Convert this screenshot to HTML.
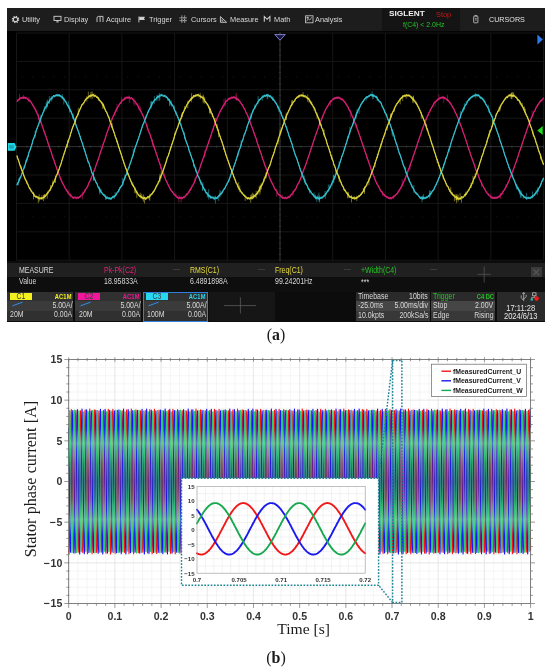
<!DOCTYPE html>
<html><head><meta charset="utf-8"><title>Figure</title>
<style>
html,body{margin:0;padding:0;background:#fff}
body{width:550px;height:670px;position:relative;overflow:hidden;font-family:"Liberation Sans",sans-serif}
.abs{position:absolute}
.t{position:absolute;white-space:nowrap;font-size:7.8px;line-height:9px;color:#d8d8d8;transform:scaleX(.945);transform-origin:0 50%}
.t.m{font-size:8.5px;transform:scaleX(.82)}
.t.r{transform-origin:100% 50%}
.t.c{transform-origin:50% 50%}
.serif{font-family:"Liberation Serif",serif;color:#1a1a1a;position:absolute;white-space:nowrap}
.box{position:absolute;background:#3a3a3a}
</style></head>
<body>
<div class="abs" style="left:7px;top:8px;width:537.5px;height:314px;background:#0c0c0c"></div>
<div class="abs" style="left:7px;top:8px;width:537.5px;height:23.4px;background:#1d1d1d"></div>
<div class="abs" style="left:382px;top:8px;width:78px;height:23.4px;background:#141414"></div>
<svg class="abs" style="left:7px;top:8px" width="537.5" height="314" viewBox="7 8 537.5 314">
<rect x="7" y="31.4" width="537.5" height="229.4" fill="#000"/>
<rect x="7" y="31.4" width="9.0" height="229.4" fill="#000"/>
<path d="M16.50 33.00V260.20M69.20 33.00V260.20M121.90 33.00V260.20M174.60 33.00V260.20M227.30 33.00V260.20M280.00 33.00V260.20M332.70 33.00V260.20M385.40 33.00V260.20M438.10 33.00V260.20M490.80 33.00V260.20M543.50 33.00V260.20M16.50 33.00H543.50M16.50 61.40H543.50M16.50 89.80H543.50M16.50 118.20H543.50M16.50 146.60H543.50M16.50 175.00H543.50M16.50 203.40H543.50M16.50 231.80H543.50M16.50 260.20H543.50" stroke="#181818" stroke-width="0.9" fill="none"/>
<path d="M16.50 145.40v2.4M27.04 145.40v2.4M37.58 145.40v2.4M48.12 145.40v2.4M58.66 145.40v2.4M69.20 145.40v2.4M79.74 145.40v2.4M90.28 145.40v2.4M100.82 145.40v2.4M111.36 145.40v2.4M121.90 145.40v2.4M132.44 145.40v2.4M142.98 145.40v2.4M153.52 145.40v2.4M164.06 145.40v2.4M174.60 145.40v2.4M185.14 145.40v2.4M195.68 145.40v2.4M206.22 145.40v2.4M216.76 145.40v2.4M227.30 145.40v2.4M237.84 145.40v2.4M248.38 145.40v2.4M258.92 145.40v2.4M269.46 145.40v2.4M280.00 145.40v2.4M290.54 145.40v2.4M301.08 145.40v2.4M311.62 145.40v2.4M322.16 145.40v2.4M332.70 145.40v2.4M343.24 145.40v2.4M353.78 145.40v2.4M364.32 145.40v2.4M374.86 145.40v2.4M385.40 145.40v2.4M395.94 145.40v2.4M406.48 145.40v2.4M417.02 145.40v2.4M427.56 145.40v2.4M438.10 145.40v2.4M448.64 145.40v2.4M459.18 145.40v2.4M469.72 145.40v2.4M480.26 145.40v2.4M490.80 145.40v2.4M501.34 145.40v2.4M511.88 145.40v2.4M522.42 145.40v2.4M532.96 145.40v2.4M543.50 145.40v2.4M278.80 33.00h2.4M278.80 38.68h2.4M278.80 44.36h2.4M278.80 50.04h2.4M278.80 55.72h2.4M278.80 61.40h2.4M278.80 67.08h2.4M278.80 72.76h2.4M278.80 78.44h2.4M278.80 84.12h2.4M278.80 89.80h2.4M278.80 95.48h2.4M278.80 101.16h2.4M278.80 106.84h2.4M278.80 112.52h2.4M278.80 118.20h2.4M278.80 123.88h2.4M278.80 129.56h2.4M278.80 135.24h2.4M278.80 140.92h2.4M278.80 146.60h2.4M278.80 152.28h2.4M278.80 157.96h2.4M278.80 163.64h2.4M278.80 169.32h2.4M278.80 175.00h2.4M278.80 180.68h2.4M278.80 186.36h2.4M278.80 192.04h2.4M278.80 197.72h2.4M278.80 203.40h2.4M278.80 209.08h2.4M278.80 214.76h2.4M278.80 220.44h2.4M278.80 226.12h2.4M278.80 231.80h2.4M278.80 237.48h2.4M278.80 243.16h2.4M278.80 248.84h2.4M278.80 254.52h2.4M278.80 260.20h2.4" stroke="#444" stroke-width="0.6" fill="none"/>
<path d="M16.5 146.6H543.5M280.00 33.0V260.2" stroke="#333" stroke-width="0.9" fill="none"/>
<path d="M21.77 77.02h1M32.31 77.02h1M42.85 77.02h1M53.39 77.02h1M63.93 77.02h1M74.47 77.02h1M85.01 77.02h1M95.55 77.02h1M106.09 77.02h1M116.63 77.02h1M127.17 77.02h1M137.71 77.02h1M148.25 77.02h1M158.79 77.02h1M169.33 77.02h1M179.87 77.02h1M190.41 77.02h1M200.95 77.02h1M211.49 77.02h1M222.03 77.02h1M232.57 77.02h1M243.11 77.02h1M253.65 77.02h1M264.19 77.02h1M274.73 77.02h1M285.27 77.02h1M295.81 77.02h1M306.35 77.02h1M316.89 77.02h1M327.43 77.02h1M337.97 77.02h1M348.51 77.02h1M359.05 77.02h1M369.59 77.02h1M380.13 77.02h1M390.67 77.02h1M401.21 77.02h1M411.75 77.02h1M422.29 77.02h1M432.83 77.02h1M443.37 77.02h1M453.91 77.02h1M464.45 77.02h1M474.99 77.02h1M485.53 77.02h1M496.07 77.02h1M506.61 77.02h1M517.15 77.02h1M527.69 77.02h1M538.23 77.02h1M21.77 216.18h1M32.31 216.18h1M42.85 216.18h1M53.39 216.18h1M63.93 216.18h1M74.47 216.18h1M85.01 216.18h1M95.55 216.18h1M106.09 216.18h1M116.63 216.18h1M127.17 216.18h1M137.71 216.18h1M148.25 216.18h1M158.79 216.18h1M169.33 216.18h1M179.87 216.18h1M190.41 216.18h1M200.95 216.18h1M211.49 216.18h1M222.03 216.18h1M232.57 216.18h1M243.11 216.18h1M253.65 216.18h1M264.19 216.18h1M274.73 216.18h1M285.27 216.18h1M295.81 216.18h1M306.35 216.18h1M316.89 216.18h1M327.43 216.18h1M337.97 216.18h1M348.51 216.18h1M359.05 216.18h1M369.59 216.18h1M380.13 216.18h1M390.67 216.18h1M401.21 216.18h1M411.75 216.18h1M422.29 216.18h1M432.83 216.18h1M443.37 216.18h1M453.91 216.18h1M464.45 216.18h1M474.99 216.18h1M485.53 216.18h1M496.07 216.18h1M506.61 216.18h1M517.15 216.18h1M527.69 216.18h1M538.23 216.18h1" stroke="#1c1c1c" stroke-width="0.9" fill="none"/>
<polygon points="17.0,100.6 17.8,99.9 18.6,99.0 19.4,98.3 20.2,97.7 21.0,97.4 21.8,97.4 22.6,97.1 23.4,97.2 24.2,97.0 25.0,97.2 25.8,97.4 26.6,97.4 27.4,98.5 28.2,99.0 29.0,99.7 29.8,100.0 30.6,101.0 31.4,102.2 32.2,103.5 33.0,104.9 33.8,106.2 34.6,107.8 35.4,109.0 36.2,110.9 37.0,112.6 37.8,114.1 38.6,116.6 39.4,118.3 40.2,120.4 41.0,122.0 41.8,124.1 42.6,126.4 43.4,128.7 44.2,131.1 45.0,133.3 45.8,135.5 46.6,137.7 47.4,140.2 48.2,143.1 49.0,145.0 49.8,147.6 50.6,150.1 51.4,152.0 52.2,154.8 53.0,157.5 53.8,159.0 54.6,161.8 55.4,164.1 56.2,166.2 57.0,168.7 57.8,170.7 58.6,172.5 59.4,175.1 60.2,177.1 61.0,179.1 61.8,181.0 62.6,182.5 63.4,184.1 64.2,185.4 65.0,187.4 65.8,188.5 66.6,189.8 67.4,190.9 68.2,192.0 69.0,193.2 69.8,194.5 70.6,194.5 71.4,195.4 72.2,196.4 73.0,197.1 73.8,197.3 74.6,196.9 75.4,196.9 76.2,197.6 77.0,197.2 77.8,196.9 78.6,197.1 79.4,196.6 80.2,195.8 81.0,195.2 81.8,194.4 82.6,193.8 83.4,192.6 84.2,191.4 85.0,190.2 85.8,188.4 86.6,187.7 87.4,186.1 88.2,184.4 89.0,182.1 89.8,180.7 90.6,179.3 91.4,176.7 92.2,175.1 93.0,173.4 93.8,170.7 94.6,169.3 95.4,166.8 96.2,164.4 97.0,162.2 97.8,160.0 98.6,157.5 99.4,155.4 100.2,152.5 101.0,150.2 101.8,148.1 102.6,145.5 103.4,142.8 104.2,140.9 105.0,138.6 105.8,135.8 106.6,133.2 107.4,131.2 108.2,128.9 109.0,126.7 109.8,124.9 110.6,122.2 111.4,120.7 112.2,118.0 113.0,116.2 113.8,114.7 114.6,113.0 115.4,111.2 116.2,109.5 117.0,107.9 117.8,106.4 118.6,105.2 119.4,103.7 120.2,102.7 121.0,101.7 121.8,100.6 122.6,99.9 123.4,99.1 124.2,98.8 125.0,97.9 125.8,97.3 126.6,97.0 127.4,97.0 128.2,97.1 129.0,96.9 129.8,97.2 130.6,97.9 131.4,97.2 132.2,98.1 133.0,99.0 133.8,99.8 134.6,100.6 135.4,101.4 136.2,102.8 137.0,103.8 137.8,104.9 138.6,107.0 139.4,107.9 140.2,109.3 141.0,111.0 141.8,112.7 142.6,114.5 143.4,115.7 144.2,118.2 145.0,120.6 145.8,122.2 146.6,124.6 147.4,127.0 148.2,129.2 149.0,131.6 149.8,133.1 150.6,135.8 151.4,138.2 152.2,140.8 153.0,143.3 153.8,144.8 154.6,148.2 155.4,149.9 156.2,152.9 157.0,154.7 157.8,157.5 158.6,160.1 159.4,162.1 160.2,164.5 161.0,166.9 161.8,168.9 162.6,171.0 163.4,173.5 164.2,175.4 165.0,177.1 165.8,179.7 166.6,180.6 167.4,182.9 168.2,184.2 169.0,185.9 169.8,187.6 170.6,188.9 171.4,190.3 172.2,190.9 173.0,192.0 173.8,193.6 174.6,194.1 175.4,194.9 176.2,195.4 177.0,196.7 177.8,197.0 178.6,197.5 179.4,197.1 180.2,197.5 181.0,197.2 181.8,197.6 182.6,197.5 183.4,196.5 184.2,196.7 185.0,196.0 185.8,195.0 186.6,193.7 187.4,193.7 188.2,192.3 189.0,191.0 189.8,190.0 190.6,188.7 191.4,187.6 192.2,185.4 193.0,184.4 193.8,182.8 194.6,181.0 195.4,178.8 196.2,176.7 197.0,175.2 197.8,172.9 198.6,170.8 199.4,169.0 200.2,166.3 201.0,163.6 201.8,161.8 202.6,159.1 203.4,157.4 204.2,154.9 205.0,152.2 205.8,150.0 206.6,147.8 207.4,145.2 208.2,143.1 209.0,140.3 209.8,138.2 210.6,136.0 211.4,133.7 212.2,130.8 213.0,128.9 213.8,126.0 214.6,124.0 215.4,121.7 216.2,120.4 217.0,117.8 217.8,116.2 218.6,114.3 219.4,112.5 220.2,110.7 221.0,109.2 221.8,108.1 222.6,106.2 223.4,105.0 224.2,103.9 225.0,102.4 225.8,101.1 226.6,100.3 227.4,99.9 228.2,98.5 229.0,98.1 229.8,98.0 230.6,97.6 231.4,97.1 232.2,97.1 233.0,96.9 233.8,96.7 234.6,96.8 235.4,97.3 236.2,98.1 237.0,98.3 237.8,98.8 238.6,99.6 239.4,100.3 240.2,101.6 241.0,102.4 241.8,104.0 242.6,104.6 243.4,106.6 244.2,107.9 245.0,109.1 245.8,111.4 246.6,112.9 247.4,114.2 248.2,116.4 249.0,118.7 249.8,120.5 250.6,122.9 251.4,125.0 252.2,127.2 253.0,129.3 253.8,131.9 254.6,134.0 255.4,136.3 256.2,138.0 257.0,141.2 257.8,143.7 258.6,145.7 259.4,148.1 260.2,151.1 261.0,152.6 261.8,155.5 262.6,158.4 263.4,159.9 264.2,162.6 265.0,165.2 265.8,166.9 266.6,169.3 267.4,171.5 268.2,173.2 269.0,175.4 269.8,177.5 270.6,179.5 271.4,181.1 272.2,182.8 273.0,184.3 273.8,186.0 274.6,187.8 275.4,189.0 276.2,190.0 277.0,191.2 277.8,193.2 278.6,193.8 279.4,194.6 280.2,194.6 281.0,196.0 281.8,196.5 282.6,197.3 283.4,197.3 284.2,197.4 285.0,197.6 285.8,197.0 286.6,197.6 287.4,197.2 288.2,196.5 289.0,196.6 289.8,196.1 290.6,194.6 291.4,193.9 292.2,193.3 293.0,192.2 293.8,190.9 294.6,189.5 295.4,189.0 296.2,187.3 297.0,185.2 297.8,183.6 298.6,182.6 299.4,180.7 300.2,179.0 301.0,176.9 301.8,174.4 302.6,172.7 303.4,170.0 304.2,168.1 305.0,166.1 305.8,164.0 306.6,161.4 307.4,159.2 308.2,157.0 309.0,154.6 309.8,152.3 310.6,149.7 311.4,147.2 312.2,145.1 313.0,142.5 313.8,139.8 314.6,137.5 315.4,135.3 316.2,133.0 317.0,130.7 317.8,128.4 318.6,126.2 319.4,124.0 320.2,121.6 321.0,120.0 321.8,118.1 322.6,116.0 323.4,114.0 324.2,112.4 325.0,110.4 325.8,108.5 326.6,107.5 327.4,105.8 328.2,104.9 329.0,103.2 329.8,101.7 330.6,101.0 331.4,100.7 332.2,99.4 333.0,98.5 333.8,98.0 334.6,97.8 335.4,97.5 336.2,97.1 337.0,97.3 337.8,97.1 338.6,97.0 339.4,97.3 340.2,97.9 341.0,98.2 341.8,98.7 342.6,98.9 343.4,99.9 344.2,101.0 345.0,101.7 345.8,103.1 346.6,104.2 347.4,105.6 348.2,106.7 349.0,108.9 349.8,110.1 350.6,111.4 351.4,113.2 352.2,115.7 353.0,116.8 353.8,119.1 354.6,121.1 355.4,123.0 356.2,124.8 357.0,127.4 357.8,129.6 358.6,132.1 359.4,134.3 360.2,136.5 361.0,139.1 361.8,141.4 362.6,143.7 363.4,146.1 364.2,148.4 365.0,151.1 365.8,153.0 366.6,155.5 367.4,158.1 368.2,160.0 369.0,162.6 369.8,164.5 370.6,167.1 371.4,169.6 372.2,171.7 373.0,173.6 373.8,175.6 374.6,177.3 375.4,180.0 376.2,181.5 377.0,183.3 377.8,184.5 378.6,186.2 379.4,187.3 380.2,189.3 381.0,190.7 381.8,191.1 382.6,192.7 383.4,193.8 384.2,194.1 385.0,194.8 385.8,195.7 386.6,196.3 387.4,196.6 388.2,197.2 389.0,197.5 389.8,197.7 390.6,197.6 391.4,197.7 392.2,197.3 393.0,196.3 393.8,196.0 394.6,195.3 395.4,194.6 396.2,194.0 397.0,193.1 397.8,192.1 398.6,190.5 399.4,189.3 400.2,188.3 401.0,186.8 401.8,185.2 402.6,183.7 403.4,181.8 404.2,180.4 405.0,178.4 405.8,176.4 406.6,174.2 407.4,172.3 408.2,169.6 409.0,167.8 409.8,165.8 410.6,163.2 411.4,161.3 412.2,159.0 413.0,156.2 413.8,154.1 414.6,151.7 415.4,149.5 416.2,147.1 417.0,144.6 417.8,141.9 418.6,139.7 419.4,137.4 420.2,135.2 421.0,132.8 421.8,130.2 422.6,127.8 423.4,125.8 424.2,123.6 425.0,121.4 425.8,119.6 426.6,117.5 427.4,115.7 428.2,114.0 429.0,112.0 429.8,111.0 430.6,108.7 431.4,107.6 432.2,105.9 433.0,104.8 433.8,102.7 434.6,102.0 435.4,101.2 436.2,100.4 437.0,100.0 437.8,98.8 438.6,98.5 439.4,97.9 440.2,97.5 441.0,97.2 441.8,96.9 442.6,97.0 443.4,96.7 444.2,97.5 445.0,97.3 445.8,98.1 446.6,99.1 447.4,99.2 448.2,100.0 449.0,101.2 449.8,101.9 450.6,102.8 451.4,104.3 452.2,105.7 453.0,107.1 453.8,108.2 454.6,110.4 455.4,112.1 456.2,113.4 457.0,115.3 457.8,117.0 458.6,119.5 459.4,121.0 460.2,123.4 461.0,125.3 461.8,127.4 462.6,130.0 463.4,132.4 464.2,134.4 465.0,136.6 465.8,139.4 466.6,141.5 467.4,144.0 468.2,146.8 469.0,149.1 469.8,151.1 470.6,154.2 471.4,156.0 472.2,158.5 473.0,160.5 473.8,163.0 474.6,164.8 475.4,168.0 476.2,170.0 477.0,171.5 477.8,173.5 478.6,175.5 479.4,178.2 480.2,179.6 481.0,181.5 481.8,183.2 482.6,184.9 483.4,186.2 484.2,187.9 485.0,188.9 485.8,190.6 486.6,191.8 487.4,192.9 488.2,193.7 489.0,194.4 489.8,195.4 490.6,195.9 491.4,196.9 492.2,197.1 493.0,197.2 493.8,197.3 494.6,197.3 495.4,197.2 496.2,197.2 497.0,197.1 497.8,196.7 498.6,196.2 499.4,196.0 500.2,194.6 501.0,193.9 501.8,193.6 502.6,191.4 503.4,190.6 504.2,189.5 505.0,188.1 505.8,186.8 506.6,185.1 507.4,183.6 508.2,181.8 509.0,180.2 509.8,177.6 510.6,175.9 511.4,174.2 512.2,171.8 513.0,169.7 513.8,167.9 514.6,165.4 515.4,163.4 516.2,161.2 517.0,158.7 517.8,156.4 518.6,153.9 519.4,151.1 520.2,149.1 521.0,146.8 521.8,144.1 522.6,141.8 523.4,139.6 524.2,136.9 525.0,134.9 525.8,132.9 526.6,130.0 527.4,127.9 528.2,125.6 529.0,123.9 529.8,121.5 530.6,119.6 531.4,117.2 532.2,115.5 533.0,113.6 533.8,111.4 534.6,110.6 535.4,108.8 536.2,106.7 537.0,105.9 537.8,104.3 538.6,103.3 539.4,102.1 540.2,100.7 541.0,100.1 541.8,99.7 542.6,98.5 543.4,97.8 543.4,99.0 542.6,99.7 541.8,100.9 541.0,101.3 540.2,101.9 539.4,103.3 538.6,104.5 537.8,105.5 537.0,107.1 536.2,107.9 535.4,110.0 534.6,111.8 533.8,112.6 533.0,114.8 532.2,116.7 531.4,118.4 530.6,120.8 529.8,122.7 529.0,125.1 528.2,126.8 527.4,129.1 526.6,131.2 525.8,134.1 525.0,136.1 524.2,138.1 523.4,140.8 522.6,143.0 521.8,145.3 521.0,148.0 520.2,150.3 519.4,152.3 518.6,155.1 517.8,157.6 517.0,159.9 516.2,162.4 515.4,164.6 514.6,166.6 513.8,169.1 513.0,170.9 512.2,173.0 511.4,175.4 510.6,177.1 509.8,178.8 509.0,181.4 508.2,183.0 507.4,184.8 506.6,186.3 505.8,188.0 505.0,189.3 504.2,190.7 503.4,191.8 502.6,192.6 501.8,194.8 501.0,195.1 500.2,195.8 499.4,197.2 498.6,197.4 497.8,197.9 497.0,198.3 496.2,198.4 495.4,198.4 494.6,198.5 493.8,198.5 493.0,198.4 492.2,198.3 491.4,198.1 490.6,197.1 489.8,196.6 489.0,195.6 488.2,194.9 487.4,194.1 486.6,193.0 485.8,191.8 485.0,190.1 484.2,189.1 483.4,187.4 482.6,186.1 481.8,184.4 481.0,182.7 480.2,180.8 479.4,179.4 478.6,176.7 477.8,174.7 477.0,172.7 476.2,171.2 475.4,169.2 474.6,166.0 473.8,164.2 473.0,161.7 472.2,159.7 471.4,157.2 470.6,155.4 469.8,152.3 469.0,150.3 468.2,148.0 467.4,145.2 466.6,142.7 465.8,140.6 465.0,137.8 464.2,135.6 463.4,133.6 462.6,131.2 461.8,128.6 461.0,126.5 460.2,124.6 459.4,122.2 458.6,120.7 457.8,118.2 457.0,116.5 456.2,114.6 455.4,113.3 454.6,111.6 453.8,109.4 453.0,108.3 452.2,106.9 451.4,105.5 450.6,104.0 449.8,103.1 449.0,102.4 448.2,101.2 447.4,100.4 446.6,100.3 445.8,99.3 445.0,98.5 444.2,98.7 443.4,97.9 442.6,98.2 441.8,98.1 441.0,98.4 440.2,98.7 439.4,99.1 438.6,99.7 437.8,100.0 437.0,101.2 436.2,101.6 435.4,102.4 434.6,103.2 433.8,103.9 433.0,106.0 432.2,107.1 431.4,108.8 430.6,109.9 429.8,112.2 429.0,113.2 428.2,115.2 427.4,116.9 426.6,118.7 425.8,120.8 425.0,122.6 424.2,124.8 423.4,127.0 422.6,129.0 421.8,131.4 421.0,134.0 420.2,136.4 419.4,138.6 418.6,140.9 417.8,143.1 417.0,145.8 416.2,148.3 415.4,150.7 414.6,152.9 413.8,155.3 413.0,157.4 412.2,160.2 411.4,162.5 410.6,164.4 409.8,167.0 409.0,169.0 408.2,170.8 407.4,173.5 406.6,175.4 405.8,177.6 405.0,179.6 404.2,181.6 403.4,183.0 402.6,184.9 401.8,186.4 401.0,188.0 400.2,189.5 399.4,190.5 398.6,191.7 397.8,193.3 397.0,194.3 396.2,195.2 395.4,195.8 394.6,196.5 393.8,197.2 393.0,197.5 392.2,198.5 391.4,198.9 390.6,198.8 389.8,198.9 389.0,198.7 388.2,198.4 387.4,197.8 386.6,197.5 385.8,196.9 385.0,196.0 384.2,195.3 383.4,195.0 382.6,193.9 381.8,192.3 381.0,191.9 380.2,190.5 379.4,188.5 378.6,187.4 377.8,185.7 377.0,184.5 376.2,182.7 375.4,181.2 374.6,178.5 373.8,176.8 373.0,174.8 372.2,172.9 371.4,170.8 370.6,168.3 369.8,165.7 369.0,163.8 368.2,161.2 367.4,159.3 366.6,156.7 365.8,154.2 365.0,152.3 364.2,149.6 363.4,147.3 362.6,144.9 361.8,142.6 361.0,140.3 360.2,137.7 359.4,135.5 358.6,133.3 357.8,130.8 357.0,128.6 356.2,126.0 355.4,124.2 354.6,122.3 353.8,120.3 353.0,118.0 352.2,116.9 351.4,114.4 350.6,112.6 349.8,111.3 349.0,110.1 348.2,107.9 347.4,106.8 346.6,105.4 345.8,104.3 345.0,102.9 344.2,102.2 343.4,101.1 342.6,100.1 341.8,99.9 341.0,99.4 340.2,99.1 339.4,98.5 338.6,98.2 337.8,98.3 337.0,98.5 336.2,98.3 335.4,98.7 334.6,99.0 333.8,99.2 333.0,99.7 332.2,100.6 331.4,101.9 330.6,102.2 329.8,102.9 329.0,104.4 328.2,106.1 327.4,107.0 326.6,108.7 325.8,109.7 325.0,111.6 324.2,113.6 323.4,115.2 322.6,117.2 321.8,119.3 321.0,121.2 320.2,122.8 319.4,125.2 318.6,127.4 317.8,129.6 317.0,131.9 316.2,134.2 315.4,136.5 314.6,138.7 313.8,141.0 313.0,143.7 312.2,146.3 311.4,148.4 310.6,150.9 309.8,153.5 309.0,155.8 308.2,158.2 307.4,160.4 306.6,162.6 305.8,165.2 305.0,167.3 304.2,169.3 303.4,171.2 302.6,173.9 301.8,175.6 301.0,178.1 300.2,180.2 299.4,181.9 298.6,183.8 297.8,184.8 297.0,186.4 296.2,188.5 295.4,190.2 294.6,190.7 293.8,192.1 293.0,193.4 292.2,194.5 291.4,195.1 290.6,195.8 289.8,197.3 289.0,197.8 288.2,197.7 287.4,198.4 286.6,198.8 285.8,198.2 285.0,198.8 284.2,198.6 283.4,198.5 282.6,198.5 281.8,197.7 281.0,197.2 280.2,195.8 279.4,195.8 278.6,195.0 277.8,194.4 277.0,192.4 276.2,191.2 275.4,190.2 274.6,189.0 273.8,187.2 273.0,185.5 272.2,184.0 271.4,182.3 270.6,180.7 269.8,178.7 269.0,176.6 268.2,174.4 267.4,172.7 266.6,170.5 265.8,168.1 265.0,166.4 264.2,163.8 263.4,161.1 262.6,159.6 261.8,156.7 261.0,153.8 260.2,152.3 259.4,149.3 258.6,146.9 257.8,144.9 257.0,142.4 256.2,139.2 255.4,137.5 254.6,135.2 253.8,133.1 253.0,130.5 252.2,128.4 251.4,126.2 250.6,124.1 249.8,121.7 249.0,119.9 248.2,117.6 247.4,115.4 246.6,114.1 245.8,112.6 245.0,110.3 244.2,109.1 243.4,107.8 242.6,105.8 241.8,105.2 241.0,103.6 240.2,102.8 239.4,101.5 238.6,100.8 237.8,100.0 237.0,99.5 236.2,99.3 235.4,98.5 234.6,98.0 233.8,97.9 233.0,98.1 232.2,98.3 231.4,98.3 230.6,98.8 229.8,99.2 229.0,99.3 228.2,99.7 227.4,101.1 226.6,101.5 225.8,102.3 225.0,103.6 224.2,105.1 223.4,106.2 222.6,107.4 221.8,109.3 221.0,110.4 220.2,111.9 219.4,113.7 218.6,115.5 217.8,117.4 217.0,119.0 216.2,121.6 215.4,122.9 214.6,125.2 213.8,127.2 213.0,130.1 212.2,132.0 211.4,134.9 210.6,137.2 209.8,139.4 209.0,141.5 208.2,144.3 207.4,146.4 206.6,149.0 205.8,151.2 205.0,153.4 204.2,156.1 203.4,158.6 202.6,160.3 201.8,163.0 201.0,164.8 200.2,167.5 199.4,170.2 198.6,172.0 197.8,174.1 197.0,176.4 196.2,177.9 195.4,180.0 194.6,182.2 193.8,184.0 193.0,185.6 192.2,186.6 191.4,188.8 190.6,189.9 189.8,191.2 189.0,192.2 188.2,193.5 187.4,194.9 186.6,194.9 185.8,196.2 185.0,197.2 184.2,197.9 183.4,197.7 182.6,198.7 181.8,198.8 181.0,198.4 180.2,198.7 179.4,198.3 178.6,198.7 177.8,198.2 177.0,197.9 176.2,196.6 175.4,196.1 174.6,195.3 173.8,194.8 173.0,193.2 172.2,192.1 171.4,191.5 170.6,190.1 169.8,188.8 169.0,187.1 168.2,185.4 167.4,184.1 166.6,181.8 165.8,180.9 165.0,178.3 164.2,176.6 163.4,174.7 162.6,172.2 161.8,170.1 161.0,168.1 160.2,165.7 159.4,163.3 158.6,161.3 157.8,158.7 157.0,155.9 156.2,154.1 155.4,151.1 154.6,149.4 153.8,146.0 153.0,144.5 152.2,142.0 151.4,139.4 150.6,137.0 149.8,134.3 149.0,132.8 148.2,130.4 147.4,128.2 146.6,125.8 145.8,123.4 145.0,121.8 144.2,119.4 143.4,116.9 142.6,115.7 141.8,113.9 141.0,112.2 140.2,110.5 139.4,109.1 138.6,108.2 137.8,106.1 137.0,105.0 136.2,104.0 135.4,102.6 134.6,101.8 133.8,101.0 133.0,100.2 132.2,99.3 131.4,98.4 130.6,99.1 129.8,98.4 129.0,98.1 128.2,98.3 127.4,98.2 126.6,98.2 125.8,98.5 125.0,99.1 124.2,100.0 123.4,100.3 122.6,101.1 121.8,101.8 121.0,102.9 120.2,103.9 119.4,104.9 118.6,106.4 117.8,107.6 117.0,109.1 116.2,110.7 115.4,112.4 114.6,114.2 113.8,115.9 113.0,117.4 112.2,119.2 111.4,121.9 110.6,123.4 109.8,126.1 109.0,127.9 108.2,130.1 107.4,132.4 106.6,134.4 105.8,137.0 105.0,139.8 104.2,142.1 103.4,144.0 102.6,146.7 101.8,149.3 101.0,151.4 100.2,153.7 99.4,156.6 98.6,158.7 97.8,161.2 97.0,163.4 96.2,165.6 95.4,168.0 94.6,170.5 93.8,171.9 93.0,174.6 92.2,176.3 91.4,177.9 90.6,180.5 89.8,181.9 89.0,183.3 88.2,185.6 87.4,187.3 86.6,188.9 85.8,189.6 85.0,191.4 84.2,192.6 83.4,193.8 82.6,195.0 81.8,195.6 81.0,196.4 80.2,197.0 79.4,197.8 78.6,198.3 77.8,198.1 77.0,198.4 76.2,198.8 75.4,198.1 74.6,198.1 73.8,198.5 73.0,198.3 72.2,197.6 71.4,196.6 70.6,195.7 69.8,195.7 69.0,194.4 68.2,193.2 67.4,192.1 66.6,191.0 65.8,189.7 65.0,188.6 64.2,186.6 63.4,185.3 62.6,183.7 61.8,182.2 61.0,180.3 60.2,178.3 59.4,176.3 58.6,173.7 57.8,171.9 57.0,169.9 56.2,167.4 55.4,165.3 54.6,163.0 53.8,160.2 53.0,158.7 52.2,156.0 51.4,153.2 50.6,151.3 49.8,148.8 49.0,146.2 48.2,144.3 47.4,141.4 46.6,138.9 45.8,136.7 45.0,134.5 44.2,132.3 43.4,129.9 42.6,127.6 41.8,125.3 41.0,123.2 40.2,121.6 39.4,119.5 38.6,117.8 37.8,115.3 37.0,113.8 36.2,112.1 35.4,110.2 34.6,109.0 33.8,107.4 33.0,106.1 32.2,104.7 31.4,103.4 30.6,102.2 29.8,101.2 29.0,100.9 28.2,100.2 27.4,99.7 26.6,98.6 25.8,98.6 25.0,98.4 24.2,98.2 23.4,98.4 22.6,98.3 21.8,98.6 21.0,98.6 20.2,98.9 19.4,99.5 18.6,100.2 17.8,101.1 17.0,101.8" fill="#de2079" stroke="#de2079" stroke-width="0.85" stroke-linejoin="round"/><path d="M38.3 113.7v6.7M500.5 192.8v5.9M84.7 189.2v3.5M384.3 194.5v2.7M292.8 190.6v5.5M134.9 100.3v5.6M175.8 192.4v4.8M355.9 123.3v4.9M147.2 124.4v6.2M28.9 97.1v5.0M238.0 97.7v3.5M503.2 190.9v3.4M195.0 177.6v4.5M121.5 97.2v6.8M282.6 194.9v3.2M181.2 195.7v6.9M133.8 97.8v6.6M115.8 109.2v3.3M366.8 155.6v2.9M129.3 95.4v7.8M224.0 99.1v7.4M402.2 179.1v8.0M190.4 187.3v3.1M164.4 173.1v4.1M82.4 191.7v7.8M204.7 150.6v6.9M213.2 127.5v3.2M488.4 193.7v2.2M443.7 96.2v6.6M35.8 108.8v2.4M152.4 139.0v7.4M160.5 163.7v5.7M393.7 195.4v3.9M19.5 94.1v6.5M350.3 109.9v7.7M140.3 106.4v4.9M276.6 189.1v7.6M438.8 94.1v6.4M189.6 189.2v3.9M428.2 113.7v2.5M532.1 110.4v7.3M68.1 189.7v5.0M236.3 95.1v5.7M410.2 163.7v6.0M405.0 177.9v3.2M481.7 181.5v5.5M225.4 98.4v8.0M139.0 103.6v6.9M537.8 103.8v2.6M447.5 94.7v7.0M38.7 116.0v3.8M117.0 104.1v7.8M505.8 184.1v4.2M425.8 118.1v7.7M330.5 100.1v5.7M124.6 96.7v3.5M23.5 95.1v4.0M114.7 111.9v3.9M435.0 101.0v5.3M70.7 193.4v4.4M353.1 116.9v2.5M382.6 191.6v4.5M179.0 194.9v7.7M236.1 92.7v7.2M399.7 189.0v3.2M490.9 193.7v4.5" stroke="#de2079" stroke-width="0.7" opacity="0.7" fill="none"/>
<polygon points="17.0,184.1 17.8,182.3 18.6,181.5 19.4,179.1 20.2,177.4 21.0,175.8 21.8,173.3 22.6,170.7 23.4,168.4 24.2,167.1 25.0,164.7 25.8,161.8 26.6,160.0 27.4,157.5 28.2,155.1 29.0,151.7 29.8,149.9 30.6,147.8 31.4,145.3 32.2,142.9 33.0,139.3 33.8,137.7 34.6,135.4 35.4,133.7 36.2,130.1 37.0,128.0 37.8,125.8 38.6,123.9 39.4,121.2 40.2,119.7 41.0,116.9 41.8,115.3 42.6,113.1 43.4,111.4 44.2,109.4 45.0,107.3 45.8,106.7 46.6,104.9 47.4,103.2 48.2,102.1 49.0,101.2 49.8,99.4 50.6,98.6 51.4,98.0 52.2,97.2 53.0,96.2 53.8,95.0 54.6,95.8 55.4,95.1 56.2,94.8 57.0,94.6 57.8,94.8 58.6,94.7 59.4,94.8 60.2,95.3 61.0,95.8 61.8,96.4 62.6,97.0 63.4,98.4 64.2,98.7 65.0,100.5 65.8,101.1 66.6,102.8 67.4,104.5 68.2,105.6 69.0,106.8 69.8,108.8 70.6,110.5 71.4,111.7 72.2,114.0 73.0,116.2 73.8,118.0 74.6,120.3 75.4,122.7 76.2,125.0 77.0,127.3 77.8,129.5 78.6,131.5 79.4,134.0 80.2,136.4 81.0,138.8 81.8,141.3 82.6,143.2 83.4,146.2 84.2,148.7 85.0,150.9 85.8,153.7 86.6,156.3 87.4,158.5 88.2,161.6 89.0,162.3 89.8,165.5 90.6,167.2 91.4,170.4 92.2,173.1 93.0,173.4 93.8,176.4 94.6,178.5 95.4,180.1 96.2,182.2 97.0,183.0 97.8,185.7 98.6,187.1 99.4,188.4 100.2,189.6 101.0,191.3 101.8,192.1 102.6,193.4 103.4,194.1 104.2,194.3 105.0,195.8 105.8,196.5 106.6,197.2 107.4,197.0 108.2,197.5 109.0,197.9 109.8,197.7 110.6,198.0 111.4,198.1 112.2,196.7 113.0,195.9 113.8,196.3 114.6,195.9 115.4,194.9 116.2,193.9 117.0,192.4 117.8,191.3 118.6,190.6 119.4,188.6 120.2,186.9 121.0,185.7 121.8,185.3 122.6,183.4 123.4,180.7 124.2,178.8 125.0,177.2 125.8,174.8 126.6,173.5 127.4,170.8 128.2,168.3 129.0,166.9 129.8,163.9 130.6,161.9 131.4,159.4 132.2,156.9 133.0,154.7 133.8,151.9 134.6,149.0 135.4,146.4 136.2,144.3 137.0,142.0 137.8,139.8 138.6,137.4 139.4,135.1 140.2,132.6 141.0,129.9 141.8,127.6 142.6,124.8 143.4,123.3 144.2,121.3 145.0,119.2 145.8,116.9 146.6,114.9 147.4,113.3 148.2,111.2 149.0,109.6 149.8,107.9 150.6,106.2 151.4,105.0 152.2,103.0 153.0,101.7 153.8,100.4 154.6,99.3 155.4,99.1 156.2,98.3 157.0,96.9 157.8,96.4 158.6,96.1 159.4,95.6 160.2,95.4 161.0,94.3 161.8,94.5 162.6,94.9 163.4,95.4 164.2,95.2 165.0,95.3 165.8,96.0 166.6,96.5 167.4,97.2 168.2,98.9 169.0,99.1 169.8,100.4 170.6,102.3 171.4,103.3 172.2,104.3 173.0,105.5 173.8,107.4 174.6,109.5 175.4,110.9 176.2,113.0 177.0,114.5 177.8,116.6 178.6,118.4 179.4,120.7 180.2,123.2 181.0,124.5 181.8,127.2 182.6,129.7 183.4,131.7 184.2,134.2 185.0,137.0 185.8,139.9 186.6,141.9 187.4,144.2 188.2,146.0 189.0,149.7 189.8,151.5 190.6,154.0 191.4,156.0 192.2,158.8 193.0,160.8 193.8,163.6 194.6,166.0 195.4,168.1 196.2,170.4 197.0,172.2 197.8,175.1 198.6,176.4 199.4,177.9 200.2,180.4 201.0,182.0 201.8,183.6 202.6,185.5 203.4,187.3 204.2,188.2 205.0,189.9 205.8,191.7 206.6,192.6 207.4,193.4 208.2,194.4 209.0,195.1 209.8,195.9 210.6,196.7 211.4,196.9 212.2,196.5 213.0,197.5 213.8,197.4 214.6,197.9 215.4,197.4 216.2,197.4 217.0,197.8 217.8,196.2 218.6,195.6 219.4,194.8 220.2,193.6 221.0,192.9 221.8,192.6 222.6,191.1 223.4,189.5 224.2,188.3 225.0,187.6 225.8,185.5 226.6,184.1 227.4,182.6 228.2,181.2 229.0,179.5 229.8,177.2 230.6,174.9 231.4,172.8 232.2,171.2 233.0,168.9 233.8,166.0 234.6,164.0 235.4,161.6 236.2,159.1 237.0,156.5 237.8,153.8 238.6,151.6 239.4,148.8 240.2,147.3 241.0,144.6 241.8,141.5 242.6,140.0 243.4,137.4 244.2,134.0 245.0,132.9 245.8,130.2 246.6,128.3 247.4,124.8 248.2,123.2 249.0,121.0 249.8,118.8 250.6,116.7 251.4,115.0 252.2,112.2 253.0,110.5 253.8,108.7 254.6,107.3 255.4,105.7 256.2,104.5 257.0,103.1 257.8,101.7 258.6,100.3 259.4,99.3 260.2,98.8 261.0,97.8 261.8,96.9 262.6,96.1 263.4,96.2 264.2,95.0 265.0,95.2 265.8,95.2 266.6,94.6 267.4,95.0 268.2,94.5 269.0,95.6 269.8,95.7 270.6,95.6 271.4,97.1 272.2,97.3 273.0,98.9 273.8,99.2 274.6,100.5 275.4,101.8 276.2,102.9 277.0,104.5 277.8,105.7 278.6,107.7 279.4,109.2 280.2,111.0 281.0,111.8 281.8,115.1 282.6,116.7 283.4,118.1 284.2,120.9 285.0,123.2 285.8,125.6 286.6,127.2 287.4,130.4 288.2,132.2 289.0,135.5 289.8,137.0 290.6,139.7 291.4,141.8 292.2,144.0 293.0,147.3 293.8,149.7 294.6,152.4 295.4,154.6 296.2,156.5 297.0,158.5 297.8,161.3 298.6,163.6 299.4,165.9 300.2,168.6 301.0,170.7 301.8,172.7 302.6,174.9 303.4,176.8 304.2,178.9 305.0,180.9 305.8,182.8 306.6,184.0 307.4,185.3 308.2,187.8 309.0,188.8 309.8,190.5 310.6,190.8 311.4,192.4 312.2,193.5 313.0,193.9 313.8,195.1 314.6,196.2 315.4,196.9 316.2,197.6 317.0,197.0 317.8,197.1 318.6,197.9 319.4,198.0 320.2,197.6 321.0,196.9 321.8,197.2 322.6,196.7 323.4,196.1 324.2,195.0 325.0,194.4 325.8,193.7 326.6,192.2 327.4,190.6 328.2,190.1 329.0,188.8 329.8,187.2 330.6,185.9 331.4,183.8 332.2,182.2 333.0,180.3 333.8,178.8 334.6,177.2 335.4,174.5 336.2,173.2 337.0,170.9 337.8,168.4 338.6,166.1 339.4,164.2 340.2,161.1 341.0,158.8 341.8,156.0 342.6,154.1 343.4,152.0 344.2,149.2 345.0,146.7 345.8,144.0 346.6,141.7 347.4,138.7 348.2,137.1 349.0,134.2 349.8,131.6 350.6,129.3 351.4,127.0 352.2,125.3 353.0,123.1 353.8,120.1 354.6,118.8 355.4,116.7 356.2,114.2 357.0,112.0 357.8,110.4 358.6,108.7 359.4,107.4 360.2,105.6 361.0,103.5 361.8,102.9 362.6,101.0 363.4,100.7 364.2,98.9 365.0,98.1 365.8,97.2 366.6,96.5 367.4,96.6 368.2,95.9 369.0,95.4 369.8,95.0 370.6,94.2 371.4,94.5 372.2,94.6 373.0,94.6 373.8,95.5 374.6,95.4 375.4,96.0 376.2,96.5 377.0,97.0 377.8,98.8 378.6,100.0 379.4,100.7 380.2,101.5 381.0,102.2 381.8,104.7 382.6,106.5 383.4,107.8 384.2,109.7 385.0,111.7 385.8,113.4 386.6,114.8 387.4,117.3 388.2,119.3 389.0,120.6 389.8,123.2 390.6,125.1 391.4,127.8 392.2,130.4 393.0,132.2 393.8,134.2 394.6,137.8 395.4,139.9 396.2,142.8 397.0,144.3 397.8,147.6 398.6,150.4 399.4,152.8 400.2,154.5 401.0,157.1 401.8,159.4 402.6,162.1 403.4,164.5 404.2,166.5 405.0,168.2 405.8,171.1 406.6,172.8 407.4,175.3 408.2,177.2 409.0,179.6 409.8,181.3 410.6,182.5 411.4,184.5 412.2,186.6 413.0,187.3 413.8,189.1 414.6,190.7 415.4,192.0 416.2,192.8 417.0,193.2 417.8,194.1 418.6,195.4 419.4,196.2 420.2,197.5 421.0,196.7 421.8,197.8 422.6,197.9 423.4,197.1 424.2,197.4 425.0,197.6 425.8,197.1 426.6,196.8 427.4,196.6 428.2,195.5 429.0,195.2 429.8,194.0 430.6,193.1 431.4,192.4 432.2,190.9 433.0,189.9 433.8,189.0 434.6,187.0 435.4,185.4 436.2,184.0 437.0,181.9 437.8,180.6 438.6,177.9 439.4,176.6 440.2,174.1 441.0,171.9 441.8,170.7 442.6,167.5 443.4,166.2 444.2,163.5 445.0,161.4 445.8,158.2 446.6,156.5 447.4,154.2 448.2,151.2 449.0,148.7 449.8,147.1 450.6,143.9 451.4,141.2 452.2,138.7 453.0,136.6 453.8,134.1 454.6,131.7 455.4,129.9 456.2,126.9 457.0,124.9 457.8,123.0 458.6,120.0 459.4,118.6 460.2,116.8 461.0,113.7 461.8,111.9 462.6,110.1 463.4,108.1 464.2,107.2 465.0,104.9 465.8,104.2 466.6,103.2 467.4,100.8 468.2,100.1 469.0,98.5 469.8,98.5 470.6,97.1 471.4,96.6 472.2,96.1 473.0,95.7 473.8,95.0 474.6,94.9 475.4,94.5 476.2,94.7 477.0,94.4 477.8,95.0 478.6,94.6 479.4,95.6 480.2,97.0 481.0,97.0 481.8,97.3 482.6,98.8 483.4,99.4 484.2,100.2 485.0,101.8 485.8,103.6 486.6,104.9 487.4,106.3 488.2,107.6 489.0,109.2 489.8,111.8 490.6,113.3 491.4,114.8 492.2,116.4 493.0,118.8 493.8,122.3 494.6,123.2 495.4,125.8 496.2,128.2 497.0,130.4 497.8,132.7 498.6,134.8 499.4,137.3 500.2,140.7 501.0,142.3 501.8,145.3 502.6,146.9 503.4,149.9 504.2,152.5 505.0,155.3 505.8,156.9 506.6,159.9 507.4,162.2 508.2,164.2 509.0,166.9 509.8,168.6 510.6,170.9 511.4,173.3 512.2,174.4 513.0,177.3 513.8,178.9 514.6,180.6 515.4,182.8 516.2,184.9 517.0,186.1 517.8,188.2 518.6,188.7 519.4,190.0 520.2,192.2 521.0,192.9 521.8,194.1 522.6,194.4 523.4,195.7 524.2,196.2 525.0,196.9 525.8,197.1 526.6,197.8 527.4,197.4 528.2,197.4 529.0,197.1 529.8,197.9 530.6,197.0 531.4,196.5 532.2,196.0 533.0,195.6 533.8,194.5 534.6,194.0 535.4,192.9 536.2,191.9 537.0,190.6 537.8,189.7 538.6,188.1 539.4,186.8 540.2,185.3 541.0,183.7 541.8,181.0 542.6,179.8 543.4,177.8 543.4,179.0 542.6,181.0 541.8,182.2 541.0,184.9 540.2,186.5 539.4,188.0 538.6,189.3 537.8,190.9 537.0,191.8 536.2,193.1 535.4,194.1 534.6,195.2 533.8,195.7 533.0,196.8 532.2,197.2 531.4,197.7 530.6,198.2 529.8,199.1 529.0,198.3 528.2,198.6 527.4,198.6 526.6,199.0 525.8,198.3 525.0,198.1 524.2,197.4 523.4,196.9 522.6,195.6 521.8,195.3 521.0,194.1 520.2,193.4 519.4,191.2 518.6,189.9 517.8,189.4 517.0,187.3 516.2,186.1 515.4,184.0 514.6,181.8 513.8,180.1 513.0,178.5 512.2,175.6 511.4,174.5 510.6,172.1 509.8,169.8 509.0,168.1 508.2,165.4 507.4,163.4 506.6,161.1 505.8,158.1 505.0,156.5 504.2,153.7 503.4,151.1 502.6,148.1 501.8,146.5 501.0,143.5 500.2,141.9 499.4,138.5 498.6,136.0 497.8,133.9 497.0,131.6 496.2,129.4 495.4,127.0 494.6,124.4 493.8,123.5 493.0,120.0 492.2,117.6 491.4,116.0 490.6,114.5 489.8,113.0 489.0,110.4 488.2,108.8 487.4,107.5 486.6,106.1 485.8,104.8 485.0,103.0 484.2,101.4 483.4,100.6 482.6,100.0 481.8,98.5 481.0,98.2 480.2,98.2 479.4,96.8 478.6,95.8 477.8,96.2 477.0,95.6 476.2,95.9 475.4,95.7 474.6,96.1 473.8,96.2 473.0,96.9 472.2,97.3 471.4,97.8 470.6,98.3 469.8,99.7 469.0,99.7 468.2,101.3 467.4,102.0 466.6,104.4 465.8,105.4 465.0,106.1 464.2,108.4 463.4,109.3 462.6,111.3 461.8,113.1 461.0,114.9 460.2,118.0 459.4,119.8 458.6,121.2 457.8,124.2 457.0,126.1 456.2,128.1 455.4,131.1 454.6,132.9 453.8,135.3 453.0,137.8 452.2,139.9 451.4,142.4 450.6,145.1 449.8,148.3 449.0,149.9 448.2,152.4 447.4,155.4 446.6,157.7 445.8,159.4 445.0,162.6 444.2,164.7 443.4,167.4 442.6,168.7 441.8,171.9 441.0,173.1 440.2,175.3 439.4,177.8 438.6,179.1 437.8,181.8 437.0,183.1 436.2,185.2 435.4,186.6 434.6,188.2 433.8,190.2 433.0,191.1 432.2,192.1 431.4,193.6 430.6,194.3 429.8,195.2 429.0,196.4 428.2,196.7 427.4,197.8 426.6,198.0 425.8,198.3 425.0,198.8 424.2,198.6 423.4,198.3 422.6,199.1 421.8,199.0 421.0,197.9 420.2,198.7 419.4,197.4 418.6,196.6 417.8,195.3 417.0,194.4 416.2,194.0 415.4,193.2 414.6,191.9 413.8,190.3 413.0,188.5 412.2,187.8 411.4,185.7 410.6,183.7 409.8,182.5 409.0,180.8 408.2,178.4 407.4,176.5 406.6,174.0 405.8,172.3 405.0,169.4 404.2,167.7 403.4,165.7 402.6,163.3 401.8,160.6 401.0,158.3 400.2,155.7 399.4,154.0 398.6,151.6 397.8,148.8 397.0,145.5 396.2,144.0 395.4,141.1 394.6,139.0 393.8,135.4 393.0,133.4 392.2,131.6 391.4,129.0 390.6,126.3 389.8,124.4 389.0,121.8 388.2,120.5 387.4,118.5 386.6,116.0 385.8,114.6 385.0,112.9 384.2,110.9 383.4,109.0 382.6,107.7 381.8,105.9 381.0,103.4 380.2,102.7 379.4,101.9 378.6,101.2 377.8,100.0 377.0,98.2 376.2,97.7 375.4,97.2 374.6,96.6 373.8,96.7 373.0,95.8 372.2,95.8 371.4,95.7 370.6,95.4 369.8,96.2 369.0,96.6 368.2,97.1 367.4,97.8 366.6,97.7 365.8,98.4 365.0,99.3 364.2,100.1 363.4,101.9 362.6,102.2 361.8,104.1 361.0,104.7 360.2,106.8 359.4,108.6 358.6,109.9 357.8,111.6 357.0,113.2 356.2,115.4 355.4,117.9 354.6,120.0 353.8,121.3 353.0,124.3 352.2,126.5 351.4,128.2 350.6,130.5 349.8,132.8 349.0,135.4 348.2,138.3 347.4,139.9 346.6,142.9 345.8,145.2 345.0,147.9 344.2,150.4 343.4,153.2 342.6,155.3 341.8,157.2 341.0,160.0 340.2,162.3 339.4,165.4 338.6,167.3 337.8,169.6 337.0,172.1 336.2,174.4 335.4,175.7 334.6,178.4 333.8,180.0 333.0,181.5 332.2,183.4 331.4,185.0 330.6,187.1 329.8,188.4 329.0,190.0 328.2,191.3 327.4,191.8 326.6,193.4 325.8,194.9 325.0,195.6 324.2,196.2 323.4,197.3 322.6,197.9 321.8,198.4 321.0,198.1 320.2,198.8 319.4,199.2 318.6,199.1 317.8,198.3 317.0,198.2 316.2,198.8 315.4,198.1 314.6,197.4 313.8,196.3 313.0,195.1 312.2,194.7 311.4,193.6 310.6,192.0 309.8,191.7 309.0,190.0 308.2,189.0 307.4,186.5 306.6,185.2 305.8,184.0 305.0,182.1 304.2,180.1 303.4,178.0 302.6,176.1 301.8,173.9 301.0,171.9 300.2,169.8 299.4,167.1 298.6,164.8 297.8,162.5 297.0,159.7 296.2,157.7 295.4,155.8 294.6,153.6 293.8,150.9 293.0,148.5 292.2,145.2 291.4,143.0 290.6,140.9 289.8,138.2 289.0,136.7 288.2,133.4 287.4,131.6 286.6,128.4 285.8,126.8 285.0,124.4 284.2,122.1 283.4,119.3 282.6,117.9 281.8,116.3 281.0,113.0 280.2,112.2 279.4,110.4 278.6,108.9 277.8,106.9 277.0,105.7 276.2,104.1 275.4,103.0 274.6,101.7 273.8,100.4 273.0,100.1 272.2,98.5 271.4,98.3 270.6,96.8 269.8,96.9 269.0,96.8 268.2,95.7 267.4,96.2 266.6,95.8 265.8,96.4 265.0,96.4 264.2,96.2 263.4,97.4 262.6,97.3 261.8,98.1 261.0,99.0 260.2,100.0 259.4,100.5 258.6,101.5 257.8,102.9 257.0,104.3 256.2,105.7 255.4,106.9 254.6,108.5 253.8,109.9 253.0,111.7 252.2,113.4 251.4,116.2 250.6,117.9 249.8,120.0 249.0,122.2 248.2,124.4 247.4,126.0 246.6,129.5 245.8,131.4 245.0,134.1 244.2,135.2 243.4,138.6 242.6,141.2 241.8,142.7 241.0,145.8 240.2,148.5 239.4,150.0 238.6,152.8 237.8,155.0 237.0,157.7 236.2,160.3 235.4,162.8 234.6,165.2 233.8,167.2 233.0,170.1 232.2,172.4 231.4,174.0 230.6,176.1 229.8,178.4 229.0,180.7 228.2,182.4 227.4,183.8 226.6,185.3 225.8,186.7 225.0,188.8 224.2,189.5 223.4,190.7 222.6,192.3 221.8,193.8 221.0,194.1 220.2,194.8 219.4,196.0 218.6,196.8 217.8,197.4 217.0,199.0 216.2,198.6 215.4,198.6 214.6,199.1 213.8,198.6 213.0,198.7 212.2,197.7 211.4,198.1 210.6,197.9 209.8,197.1 209.0,196.3 208.2,195.6 207.4,194.6 206.6,193.8 205.8,192.9 205.0,191.1 204.2,189.4 203.4,188.5 202.6,186.7 201.8,184.8 201.0,183.2 200.2,181.6 199.4,179.1 198.6,177.6 197.8,176.3 197.0,173.4 196.2,171.6 195.4,169.3 194.6,167.2 193.8,164.8 193.0,162.0 192.2,160.0 191.4,157.2 190.6,155.2 189.8,152.7 189.0,150.9 188.2,147.2 187.4,145.4 186.6,143.1 185.8,141.1 185.0,138.2 184.2,135.4 183.4,132.9 182.6,130.9 181.8,128.4 181.0,125.7 180.2,124.4 179.4,121.9 178.6,119.6 177.8,117.8 177.0,115.7 176.2,114.2 175.4,112.1 174.6,110.7 173.8,108.6 173.0,106.7 172.2,105.5 171.4,104.5 170.6,103.5 169.8,101.6 169.0,100.3 168.2,100.1 167.4,98.4 166.6,97.7 165.8,97.2 165.0,96.5 164.2,96.4 163.4,96.6 162.6,96.1 161.8,95.7 161.0,95.5 160.2,96.6 159.4,96.8 158.6,97.3 157.8,97.6 157.0,98.1 156.2,99.5 155.4,100.3 154.6,100.5 153.8,101.6 153.0,102.9 152.2,104.2 151.4,106.2 150.6,107.4 149.8,109.1 149.0,110.8 148.2,112.4 147.4,114.5 146.6,116.1 145.8,118.1 145.0,120.4 144.2,122.5 143.4,124.5 142.6,126.0 141.8,128.8 141.0,131.1 140.2,133.8 139.4,136.3 138.6,138.6 137.8,141.0 137.0,143.2 136.2,145.5 135.4,147.6 134.6,150.2 133.8,153.1 133.0,155.9 132.2,158.1 131.4,160.6 130.6,163.1 129.8,165.1 129.0,168.1 128.2,169.5 127.4,172.0 126.6,174.7 125.8,176.0 125.0,178.4 124.2,180.0 123.4,181.9 122.6,184.6 121.8,186.5 121.0,186.9 120.2,188.1 119.4,189.8 118.6,191.8 117.8,192.5 117.0,193.6 116.2,195.1 115.4,196.1 114.6,197.1 113.8,197.5 113.0,197.1 112.2,197.9 111.4,199.3 110.6,199.2 109.8,198.9 109.0,199.1 108.2,198.7 107.4,198.2 106.6,198.4 105.8,197.7 105.0,197.0 104.2,195.5 103.4,195.3 102.6,194.6 101.8,193.3 101.0,192.5 100.2,190.8 99.4,189.6 98.6,188.3 97.8,186.9 97.0,184.2 96.2,183.4 95.4,181.3 94.6,179.7 93.8,177.6 93.0,174.6 92.2,174.3 91.4,171.6 90.6,168.4 89.8,166.7 89.0,163.5 88.2,162.8 87.4,159.7 86.6,157.5 85.8,154.9 85.0,152.1 84.2,149.9 83.4,147.4 82.6,144.4 81.8,142.5 81.0,140.0 80.2,137.6 79.4,135.2 78.6,132.7 77.8,130.7 77.0,128.5 76.2,126.2 75.4,123.9 74.6,121.5 73.8,119.2 73.0,117.4 72.2,115.2 71.4,112.9 70.6,111.7 69.8,110.0 69.0,108.0 68.2,106.8 67.4,105.7 66.6,104.0 65.8,102.3 65.0,101.7 64.2,99.9 63.4,99.6 62.6,98.2 61.8,97.6 61.0,97.0 60.2,96.5 59.4,96.0 58.6,95.9 57.8,96.0 57.0,95.8 56.2,96.0 55.4,96.3 54.6,97.0 53.8,96.2 53.0,97.4 52.2,98.4 51.4,99.2 50.6,99.8 49.8,100.6 49.0,102.4 48.2,103.3 47.4,104.4 46.6,106.1 45.8,107.9 45.0,108.5 44.2,110.6 43.4,112.6 42.6,114.3 41.8,116.5 41.0,118.1 40.2,120.9 39.4,122.4 38.6,125.1 37.8,127.0 37.0,129.2 36.2,131.3 35.4,134.9 34.6,136.6 33.8,138.9 33.0,140.5 32.2,144.1 31.4,146.5 30.6,149.0 29.8,151.1 29.0,152.9 28.2,156.3 27.4,158.7 26.6,161.2 25.8,163.0 25.0,165.9 24.2,168.3 23.4,169.6 22.6,171.9 21.8,174.5 21.0,177.0 20.2,178.6 19.4,180.3 18.6,182.7 17.8,183.5 17.0,185.3" fill="#35c6d6" stroke="#35c6d6" stroke-width="0.85" stroke-linejoin="round"/><path d="M449.4 146.3v5.4M176.1 111.1v4.5M315.4 196.6v2.2M328.3 184.4v7.6M267.1 94.2v4.5M355.9 114.9v3.3M376.5 95.6v2.7M63.8 97.3v7.2M26.8 157.4v3.5M115.9 193.1v2.3M392.1 128.9v6.4M347.5 135.8v4.8M150.9 101.3v7.8M359.1 106.8v6.9M180.8 122.9v3.0M272.8 97.9v2.4M319.4 195.5v4.6M93.6 173.6v6.8M356.1 112.8v5.8M220.0 190.1v6.7M429.4 193.2v5.4M49.3 96.1v7.8M335.6 170.9v7.0M483.8 98.2v4.3M333.4 175.0v7.4M166.2 96.3v2.0M445.9 157.3v2.3M443.7 163.4v5.4M464.4 103.2v6.8M62.2 94.0v5.3M122.7 178.1v6.5M373.3 94.1v4.8M151.2 101.1v6.5M258.9 99.0v2.5M422.9 196.4v3.4M488.4 105.1v7.3M267.7 93.7v5.5M118.5 189.2v3.1M208.0 192.3v5.4M40.9 114.6v8.0M73.2 113.4v5.8M99.5 186.9v5.6M35.1 130.7v7.2M315.3 194.7v3.6M241.1 140.1v6.6M523.3 195.2v3.5M123.0 181.6v3.1M44.3 106.2v5.3M258.1 96.1v7.7M51.2 96.2v5.6M80.5 135.9v3.5M353.8 118.5v6.0M252.9 109.5v3.0M538.2 188.9v3.3M151.8 101.4v4.1M492.4 116.7v7.0M430.3 190.5v6.3M534.8 193.8v2.3M413.8 185.0v7.6M174.4 105.4v5.5M72.8 115.0v3.9M106.0 196.2v3.4M373.3 94.3v2.1M119.9 187.0v2.2M133.3 149.0v7.2M68.4 101.2v7.6M195.9 167.3v4.9M47.3 100.8v6.3M93.5 173.5v7.2M159.8 92.9v7.0M105.6 194.9v4.9M491.7 114.3v2.7M47.3 99.6v7.4M167.8 97.3v3.5M208.7 189.2v7.9M169.5 98.8v7.4M531.3 196.1v2.1M18.5 178.3v7.0M115.1 192.1v4.6M422.0 196.0v6.3M59.1 94.2v2.5M277.6 105.0v3.6M339.0 161.5v6.9M123.7 179.3v2.4M231.8 170.8v2.3M193.5 159.7v7.2M25.6 159.7v4.9M157.3 95.1v3.1M210.2 195.5v3.0M329.8 186.7v2.0M251.5 113.6v5.1M392.7 129.3v7.2M411.9 184.4v2.4M518.4 186.8v5.0M28.4 154.0v3.3M71.4 110.5v3.5M384.5 109.9v3.2M332.2 180.1v5.5M386.4 113.1v2.6M280.4 111.0v3.7M230.5 174.2v2.8M469.6 97.5v2.9M409.5 178.6v3.0M238.3 151.2v5.2M511.7 173.2v4.0M532.6 191.5v6.8M445.4 159.1v2.3M520.4 189.9v7.6M208.8 194.3v5.2M526.6 192.9v6.7M349.9 126.8v7.3M157.0 95.3v6.1M302.2 172.4v5.7M516.7 184.8v3.7M357.4 110.6v2.7M519.4 189.3v5.1M262.4 95.4v5.2M171.6 102.2v4.4M304.3 175.7v7.0M316.8 196.0v5.9M305.2 179.0v5.7M218.7 195.4v5.5M202.6 183.8v7.2M309.7 188.8v4.9M535.9 190.5v3.8M100.7 189.5v2.4M221.1 191.0v4.6M521.1 191.7v6.4M372.1 91.3v5.7M405.4 167.1v6.6M429.6 190.4v6.3M84.3 148.4v2.0M325.1 191.0v5.0M317.8 195.2v4.5M475.7 92.9v5.6M254.9 104.4v4.7M171.3 100.9v4.3M219.4 193.3v3.9M463.5 106.7v5.0M114.2 195.2v3.8M319.6 196.9v5.5M460.3 111.1v7.0M124.8 174.9v4.6M314.1 192.4v5.0M423.6 194.1v5.2M377.2 96.7v4.3M329.7 184.7v4.1M372.7 94.1v5.2M214.1 195.9v4.4M318.9 192.6v7.3M273.0 96.4v4.6M540.5 183.2v4.1M184.5 132.3v7.0M75.5 119.2v6.1M537.4 187.6v7.3M99.6 187.5v3.7M282.6 116.2v3.1M202.9 182.2v8.0M431.0 191.0v3.8M19.6 176.8v3.8M325.3 192.7v6.0M278.9 106.7v5.3M357.1 108.8v5.2M319.1 197.1v4.5M99.8 188.0v6.6M70.1 108.3v3.0M24.1 165.2v3.9M203.3 186.4v3.0M69.7 105.1v7.4M200.7 180.1v4.7M46.2 102.1v7.3M521.3 191.1v4.6M148.4 109.6v2.3M466.2 101.0v3.9M333.8 175.2v7.8M516.1 183.5v3.5M179.8 119.0v4.9M205.7 189.2v3.1M170.1 100.0v5.4M229.2 178.3v2.4M146.1 115.6v3.1M366.2 96.5v4.0M159.1 94.1v7.0M250.2 113.4v7.0M101.1 189.2v4.1M215.4 195.7v7.8M516.7 184.6v5.0M255.2 105.2v2.8M154.4 96.3v7.4M210.7 195.2v3.5M129.1 165.4v2.7M422.7 195.6v4.3M315.5 195.5v3.9M62.7 95.9v3.1M207.3 192.0v5.0M52.1 96.4v3.9" stroke="#35c6d6" stroke-width="0.7" opacity="0.7" fill="none"/>
<polygon points="17.0,155.6 17.8,158.0 18.6,159.9 19.4,162.7 20.2,165.2 21.0,166.7 21.8,169.7 22.6,170.9 23.4,173.7 24.2,175.8 25.0,178.1 25.8,179.6 26.6,181.2 27.4,182.9 28.2,184.4 29.0,186.7 29.8,187.8 30.6,189.1 31.4,190.8 32.2,191.5 33.0,192.7 33.8,193.7 34.6,195.3 35.4,196.0 36.2,196.1 37.0,196.2 37.8,197.2 38.6,197.5 39.4,197.8 40.2,197.9 41.0,197.5 41.8,197.8 42.6,197.5 43.4,196.9 44.2,196.1 45.0,195.5 45.8,195.1 46.6,193.6 47.4,193.0 48.2,191.7 49.0,190.3 49.8,189.7 50.6,188.1 51.4,186.6 52.2,185.3 53.0,182.8 53.8,181.6 54.6,179.9 55.4,178.1 56.2,175.5 57.0,174.1 57.8,171.8 58.6,170.0 59.4,167.7 60.2,165.2 61.0,163.4 61.8,160.3 62.6,157.8 63.4,155.4 64.2,152.7 65.0,150.6 65.8,147.5 66.6,145.6 67.4,143.3 68.2,141.1 69.0,138.2 69.8,136.3 70.6,133.2 71.4,131.0 72.2,128.0 73.0,126.1 73.8,123.9 74.6,122.4 75.4,120.0 76.2,117.3 77.0,115.8 77.8,113.9 78.6,111.8 79.4,110.0 80.2,108.2 81.0,106.5 81.8,104.5 82.6,103.7 83.4,102.8 84.2,101.6 85.0,99.9 85.8,98.7 86.6,97.9 87.4,97.5 88.2,96.6 89.0,95.7 89.8,95.5 90.6,95.0 91.4,95.0 92.2,94.6 93.0,94.2 93.8,94.9 94.6,95.3 95.4,95.0 96.2,95.9 97.0,96.8 97.8,97.1 98.6,97.8 99.4,99.6 100.2,100.2 101.0,101.5 101.8,102.0 102.6,104.3 103.4,104.6 104.2,106.5 105.0,108.6 105.8,110.5 106.6,111.5 107.4,113.5 108.2,115.7 109.0,117.0 109.8,120.0 110.6,122.1 111.4,124.0 112.2,126.6 113.0,129.0 113.8,131.2 114.6,133.6 115.4,136.4 116.2,138.1 117.0,140.8 117.8,143.0 118.6,146.0 119.4,148.0 120.2,150.8 121.0,153.1 121.8,155.5 122.6,158.5 123.4,160.3 124.2,163.2 125.0,165.3 125.8,167.7 126.6,169.4 127.4,172.0 128.2,174.1 129.0,175.6 129.8,177.9 130.6,179.7 131.4,181.6 132.2,183.8 133.0,184.8 133.8,186.0 134.6,187.5 135.4,189.3 136.2,190.5 137.0,192.0 137.8,193.2 138.6,194.6 139.4,195.0 140.2,195.8 141.0,196.0 141.8,197.0 142.6,197.6 143.4,197.9 144.2,197.0 145.0,198.0 145.8,198.2 146.6,197.7 147.4,196.6 148.2,196.6 149.0,196.4 149.8,195.7 150.6,194.5 151.4,193.6 152.2,193.2 153.0,191.4 153.8,191.1 154.6,189.3 155.4,188.0 156.2,186.0 157.0,184.6 157.8,183.4 158.6,180.9 159.4,180.2 160.2,177.1 161.0,175.2 161.8,173.6 162.6,171.6 163.4,169.5 164.2,166.9 165.0,164.6 165.8,162.3 166.6,159.8 167.4,156.7 168.2,155.5 169.0,152.8 169.8,150.3 170.6,147.6 171.4,145.4 172.2,142.9 173.0,140.4 173.8,138.3 174.6,135.0 175.4,133.2 176.2,130.4 177.0,128.3 177.8,126.6 178.6,123.5 179.4,121.6 180.2,119.3 181.0,117.8 181.8,115.1 182.6,112.9 183.4,111.8 184.2,109.7 185.0,108.0 185.8,106.8 186.6,104.7 187.4,103.4 188.2,102.2 189.0,101.1 189.8,99.7 190.6,99.2 191.4,98.6 192.2,97.0 193.0,97.0 193.8,95.1 194.6,95.8 195.4,94.9 196.2,94.9 197.0,94.6 197.8,94.5 198.6,94.4 199.4,95.0 200.2,95.9 201.0,96.3 201.8,96.4 202.6,97.1 203.4,97.9 204.2,98.6 205.0,100.7 205.8,101.5 206.6,102.6 207.4,103.7 208.2,105.0 209.0,107.3 209.8,108.8 210.6,109.9 211.4,112.4 212.2,113.6 213.0,116.1 213.8,117.6 214.6,119.9 215.4,122.4 216.2,124.6 217.0,127.0 217.8,128.7 218.6,131.9 219.4,134.2 220.2,136.1 221.0,138.7 221.8,140.8 222.6,143.4 223.4,145.5 224.2,148.5 225.0,151.0 225.8,153.8 226.6,156.1 227.4,158.5 228.2,160.5 229.0,162.9 229.8,165.2 230.6,167.6 231.4,169.1 232.2,172.2 233.0,173.5 233.8,175.9 234.6,178.1 235.4,179.8 236.2,182.4 237.0,183.5 237.8,185.7 238.6,187.2 239.4,188.1 240.2,189.8 241.0,191.4 241.8,192.0 242.6,193.2 243.4,193.9 244.2,195.0 245.0,195.6 245.8,196.4 246.6,197.2 247.4,197.7 248.2,197.5 249.0,197.7 249.8,198.0 250.6,197.5 251.4,197.1 252.2,197.5 253.0,196.3 253.8,196.4 254.6,195.1 255.4,195.3 256.2,193.4 257.0,193.1 257.8,192.2 258.6,190.1 259.4,189.6 260.2,187.4 261.0,185.6 261.8,184.8 262.6,183.2 263.4,181.1 264.2,178.4 265.0,177.3 265.8,175.2 266.6,173.1 267.4,171.0 268.2,168.4 269.0,166.5 269.8,165.0 270.6,162.6 271.4,159.6 272.2,157.1 273.0,155.0 273.8,152.8 274.6,150.2 275.4,147.1 276.2,145.1 277.0,142.6 277.8,140.6 278.6,138.1 279.4,135.4 280.2,133.2 281.0,130.3 281.8,128.6 282.6,125.7 283.4,123.7 284.2,121.7 285.0,118.9 285.8,116.9 286.6,114.6 287.4,113.3 288.2,111.4 289.0,109.5 289.8,108.1 290.6,105.6 291.4,104.8 292.2,103.4 293.0,101.9 293.8,101.1 294.6,100.3 295.4,98.5 296.2,97.5 297.0,96.8 297.8,96.4 298.6,96.0 299.4,95.0 300.2,95.3 301.0,94.4 301.8,95.0 302.6,94.9 303.4,95.0 304.2,95.9 305.0,95.4 305.8,96.0 306.6,96.8 307.4,97.7 308.2,97.8 309.0,99.3 309.8,100.0 310.6,101.6 311.4,103.1 312.2,104.1 313.0,105.5 313.8,107.1 314.6,107.7 315.4,110.7 316.2,112.5 317.0,114.2 317.8,116.0 318.6,118.0 319.4,120.3 320.2,122.9 321.0,124.7 321.8,127.4 322.6,128.4 323.4,131.5 324.2,134.1 325.0,136.4 325.8,138.3 326.6,141.1 327.4,144.2 328.2,145.8 329.0,148.4 329.8,150.8 330.6,153.5 331.4,156.3 332.2,158.7 333.0,160.2 333.8,163.7 334.6,165.4 335.4,167.6 336.2,170.6 337.0,172.2 337.8,173.9 338.6,176.1 339.4,178.1 340.2,179.9 341.0,181.9 341.8,184.1 342.6,185.5 343.4,186.5 344.2,189.4 345.0,189.5 345.8,191.1 346.6,192.2 347.4,193.5 348.2,194.1 349.0,195.2 349.8,196.5 350.6,196.4 351.4,196.5 352.2,197.4 353.0,197.3 353.8,197.5 354.6,197.8 355.4,197.7 356.2,197.3 357.0,197.3 357.8,196.5 358.6,195.6 359.4,195.6 360.2,194.4 361.0,194.1 361.8,192.4 362.6,191.7 363.4,190.4 364.2,188.1 365.0,187.0 365.8,185.6 366.6,184.9 367.4,182.1 368.2,181.2 369.0,179.4 369.8,177.3 370.6,175.3 371.4,172.8 372.2,170.9 373.0,168.7 373.8,166.6 374.6,164.4 375.4,161.7 376.2,159.2 377.0,156.8 377.8,154.7 378.6,151.6 379.4,149.3 380.2,147.1 381.0,144.5 381.8,142.2 382.6,138.9 383.4,137.2 384.2,134.8 385.0,132.8 385.8,129.5 386.6,127.7 387.4,125.7 388.2,123.5 389.0,121.5 389.8,119.3 390.6,116.6 391.4,115.1 392.2,112.9 393.0,110.9 393.8,109.9 394.6,107.5 395.4,105.8 396.2,104.5 397.0,102.9 397.8,102.2 398.6,100.8 399.4,100.0 400.2,98.7 401.0,97.5 401.8,97.3 402.6,96.0 403.4,95.6 404.2,95.2 405.0,95.0 405.8,95.2 406.6,94.5 407.4,94.9 408.2,94.9 409.0,94.8 409.8,95.2 410.6,96.0 411.4,96.9 412.2,97.6 413.0,98.5 413.8,99.3 414.6,100.2 415.4,101.7 416.2,102.5 417.0,103.8 417.8,105.6 418.6,106.8 419.4,108.8 420.2,110.4 421.0,112.3 421.8,114.4 422.6,116.1 423.4,118.3 424.2,120.0 425.0,122.8 425.8,124.7 426.6,127.4 427.4,128.6 428.2,131.7 429.0,134.4 429.8,135.9 430.6,139.1 431.4,141.7 432.2,144.1 433.0,146.1 433.8,149.1 434.6,151.6 435.4,153.6 436.2,156.7 437.0,158.8 437.8,161.2 438.6,163.4 439.4,166.0 440.2,168.1 441.0,170.7 441.8,172.6 442.6,174.4 443.4,176.5 444.2,178.9 445.0,180.3 445.8,182.4 446.6,184.2 447.4,185.6 448.2,186.4 449.0,188.7 449.8,190.0 450.6,191.3 451.4,192.1 452.2,193.8 453.0,194.3 453.8,195.0 454.6,195.6 455.4,196.6 456.2,196.6 457.0,197.0 457.8,198.2 458.6,198.1 459.4,198.0 460.2,198.0 461.0,197.5 461.8,196.4 462.6,196.9 463.4,196.4 464.2,195.4 465.0,193.8 465.8,194.0 466.6,193.0 467.4,191.2 468.2,190.2 469.0,189.1 469.8,187.3 470.6,186.2 471.4,184.2 472.2,182.7 473.0,180.7 473.8,178.3 474.6,176.5 475.4,175.9 476.2,172.8 477.0,171.0 477.8,168.8 478.6,166.7 479.4,164.0 480.2,161.3 481.0,159.1 481.8,156.1 482.6,154.2 483.4,152.1 484.2,148.6 485.0,147.0 485.8,144.7 486.6,142.4 487.4,139.2 488.2,136.8 489.0,134.0 489.8,131.9 490.6,130.1 491.4,128.3 492.2,124.9 493.0,123.5 493.8,121.0 494.6,118.6 495.4,117.4 496.2,113.8 497.0,112.7 497.8,111.0 498.6,109.9 499.4,108.1 500.2,106.7 501.0,104.5 501.8,103.3 502.6,102.2 503.4,100.7 504.2,99.6 505.0,98.4 505.8,97.4 506.6,96.4 507.4,96.8 508.2,95.5 509.0,94.5 509.8,95.0 510.6,94.7 511.4,94.8 512.2,95.4 513.0,94.9 513.8,95.1 514.6,95.4 515.4,96.2 516.2,96.7 517.0,97.7 517.8,99.5 518.6,99.6 519.4,100.2 520.2,102.4 521.0,103.3 521.8,104.7 522.6,106.1 523.4,107.8 524.2,109.4 525.0,111.4 525.8,113.1 526.6,115.1 527.4,116.5 528.2,118.7 529.0,120.6 529.8,123.4 530.6,125.6 531.4,127.4 532.2,130.1 533.0,133.1 533.8,135.1 534.6,136.7 535.4,139.5 536.2,142.2 537.0,144.4 537.8,147.0 538.6,149.8 539.4,151.9 540.2,153.9 541.0,157.0 541.8,159.1 542.6,161.5 543.4,163.6 543.4,164.8 542.6,162.7 541.8,160.3 541.0,158.2 540.2,155.1 539.4,153.1 538.6,151.0 537.8,148.2 537.0,145.6 536.2,143.4 535.4,140.7 534.6,137.9 533.8,136.3 533.0,134.3 532.2,131.3 531.4,128.6 530.6,126.8 529.8,124.6 529.0,121.8 528.2,119.9 527.4,117.7 526.6,116.3 525.8,114.3 525.0,112.6 524.2,110.6 523.4,109.0 522.6,107.3 521.8,105.9 521.0,104.5 520.2,103.6 519.4,101.4 518.6,100.8 517.8,100.7 517.0,98.9 516.2,97.9 515.4,97.4 514.6,96.6 513.8,96.3 513.0,96.1 512.2,96.6 511.4,96.0 510.6,95.9 509.8,96.2 509.0,95.7 508.2,96.7 507.4,98.0 506.6,97.6 505.8,98.6 505.0,99.6 504.2,100.8 503.4,101.9 502.6,103.4 501.8,104.5 501.0,105.7 500.2,107.9 499.4,109.3 498.6,111.1 497.8,112.2 497.0,113.9 496.2,115.0 495.4,118.6 494.6,119.8 493.8,122.2 493.0,124.7 492.2,126.1 491.4,129.5 490.6,131.3 489.8,133.1 489.0,135.2 488.2,138.0 487.4,140.4 486.6,143.6 485.8,145.9 485.0,148.2 484.2,149.8 483.4,153.3 482.6,155.4 481.8,157.3 481.0,160.3 480.2,162.5 479.4,165.2 478.6,167.9 477.8,170.0 477.0,172.2 476.2,174.0 475.4,177.1 474.6,177.7 473.8,179.5 473.0,181.9 472.2,183.9 471.4,185.4 470.6,187.4 469.8,188.5 469.0,190.3 468.2,191.4 467.4,192.4 466.6,194.2 465.8,195.2 465.0,195.0 464.2,196.6 463.4,197.6 462.6,198.1 461.8,197.6 461.0,198.7 460.2,199.2 459.4,199.2 458.6,199.3 457.8,199.4 457.0,198.2 456.2,197.8 455.4,197.8 454.6,196.8 453.8,196.2 453.0,195.5 452.2,195.0 451.4,193.3 450.6,192.5 449.8,191.2 449.0,189.9 448.2,187.6 447.4,186.8 446.6,185.4 445.8,183.6 445.0,181.5 444.2,180.1 443.4,177.7 442.6,175.6 441.8,173.8 441.0,171.9 440.2,169.3 439.4,167.2 438.6,164.6 437.8,162.4 437.0,160.0 436.2,157.9 435.4,154.8 434.6,152.8 433.8,150.3 433.0,147.3 432.2,145.3 431.4,142.9 430.6,140.3 429.8,137.1 429.0,135.6 428.2,132.9 427.4,129.8 426.6,128.6 425.8,125.9 425.0,124.0 424.2,121.2 423.4,119.5 422.6,117.3 421.8,115.6 421.0,113.5 420.2,111.6 419.4,110.0 418.6,108.0 417.8,106.8 417.0,105.0 416.2,103.7 415.4,102.9 414.6,101.4 413.8,100.5 413.0,99.7 412.2,98.8 411.4,98.1 410.6,97.2 409.8,96.4 409.0,96.0 408.2,96.1 407.4,96.1 406.6,95.7 405.8,96.4 405.0,96.2 404.2,96.4 403.4,96.8 402.6,97.2 401.8,98.5 401.0,98.7 400.2,99.9 399.4,101.2 398.6,102.0 397.8,103.4 397.0,104.1 396.2,105.7 395.4,107.0 394.6,108.7 393.8,111.1 393.0,112.1 392.2,114.1 391.4,116.3 390.6,117.8 389.8,120.5 389.0,122.7 388.2,124.7 387.4,126.9 386.6,128.9 385.8,130.7 385.0,134.0 384.2,136.0 383.4,138.4 382.6,140.1 381.8,143.4 381.0,145.7 380.2,148.3 379.4,150.5 378.6,152.8 377.8,155.9 377.0,158.0 376.2,160.4 375.4,162.9 374.6,165.6 373.8,167.8 373.0,169.9 372.2,172.1 371.4,174.0 370.6,176.5 369.8,178.5 369.0,180.6 368.2,182.4 367.4,183.3 366.6,186.1 365.8,186.8 365.0,188.2 364.2,189.3 363.4,191.6 362.6,192.9 361.8,193.6 361.0,195.3 360.2,195.6 359.4,196.8 358.6,196.8 357.8,197.7 357.0,198.5 356.2,198.5 355.4,198.9 354.6,199.0 353.8,198.7 353.0,198.5 352.2,198.6 351.4,197.7 350.6,197.6 349.8,197.7 349.0,196.4 348.2,195.3 347.4,194.7 346.6,193.4 345.8,192.3 345.0,190.7 344.2,190.6 343.4,187.7 342.6,186.7 341.8,185.3 341.0,183.1 340.2,181.1 339.4,179.3 338.6,177.3 337.8,175.1 337.0,173.4 336.2,171.8 335.4,168.8 334.6,166.6 333.8,164.9 333.0,161.4 332.2,159.9 331.4,157.5 330.6,154.7 329.8,152.0 329.0,149.6 328.2,147.0 327.4,145.4 326.6,142.3 325.8,139.5 325.0,137.6 324.2,135.3 323.4,132.7 322.6,129.6 321.8,128.6 321.0,125.9 320.2,124.1 319.4,121.5 318.6,119.2 317.8,117.2 317.0,115.4 316.2,113.7 315.4,111.9 314.6,108.9 313.8,108.3 313.0,106.7 312.2,105.3 311.4,104.3 310.6,102.8 309.8,101.2 309.0,100.5 308.2,99.0 307.4,98.9 306.6,98.0 305.8,97.2 305.0,96.6 304.2,97.1 303.4,96.2 302.6,96.1 301.8,96.2 301.0,95.6 300.2,96.5 299.4,96.2 298.6,97.2 297.8,97.6 297.0,98.0 296.2,98.7 295.4,99.7 294.6,101.5 293.8,102.3 293.0,103.1 292.2,104.6 291.4,106.0 290.6,106.8 289.8,109.3 289.0,110.7 288.2,112.6 287.4,114.5 286.6,115.8 285.8,118.1 285.0,120.1 284.2,122.9 283.4,124.9 282.6,126.9 281.8,129.8 281.0,131.5 280.2,134.4 279.4,136.6 278.6,139.3 277.8,141.8 277.0,143.8 276.2,146.3 275.4,148.3 274.6,151.4 273.8,154.0 273.0,156.2 272.2,158.3 271.4,160.8 270.6,163.8 269.8,166.2 269.0,167.7 268.2,169.6 267.4,172.2 266.6,174.3 265.8,176.4 265.0,178.5 264.2,179.6 263.4,182.3 262.6,184.4 261.8,186.0 261.0,186.8 260.2,188.6 259.4,190.8 258.6,191.3 257.8,193.4 257.0,194.3 256.2,194.6 255.4,196.5 254.6,196.3 253.8,197.6 253.0,197.5 252.2,198.7 251.4,198.3 250.6,198.7 249.8,199.2 249.0,198.9 248.2,198.7 247.4,198.9 246.6,198.4 245.8,197.6 245.0,196.8 244.2,196.2 243.4,195.1 242.6,194.4 241.8,193.2 241.0,192.6 240.2,191.0 239.4,189.3 238.6,188.4 237.8,186.9 237.0,184.7 236.2,183.6 235.4,181.0 234.6,179.3 233.8,177.1 233.0,174.7 232.2,173.4 231.4,170.3 230.6,168.8 229.8,166.4 229.0,164.1 228.2,161.7 227.4,159.7 226.6,157.3 225.8,155.0 225.0,152.2 224.2,149.7 223.4,146.7 222.6,144.6 221.8,142.0 221.0,139.9 220.2,137.3 219.4,135.4 218.6,133.1 217.8,129.9 217.0,128.2 216.2,125.8 215.4,123.6 214.6,121.1 213.8,118.8 213.0,117.3 212.2,114.8 211.4,113.6 210.6,111.1 209.8,110.0 209.0,108.5 208.2,106.2 207.4,104.9 206.6,103.8 205.8,102.7 205.0,101.9 204.2,99.8 203.4,99.1 202.6,98.3 201.8,97.6 201.0,97.5 200.2,97.1 199.4,96.2 198.6,95.6 197.8,95.7 197.0,95.8 196.2,96.1 195.4,96.1 194.6,97.0 193.8,96.3 193.0,98.2 192.2,98.2 191.4,99.8 190.6,100.4 189.8,100.9 189.0,102.3 188.2,103.4 187.4,104.6 186.6,105.9 185.8,108.0 185.0,109.2 184.2,110.9 183.4,113.0 182.6,114.1 181.8,116.3 181.0,119.0 180.2,120.5 179.4,122.8 178.6,124.7 177.8,127.8 177.0,129.5 176.2,131.6 175.4,134.4 174.6,136.2 173.8,139.5 173.0,141.6 172.2,144.1 171.4,146.6 170.6,148.8 169.8,151.5 169.0,154.0 168.2,156.7 167.4,157.9 166.6,161.0 165.8,163.5 165.0,165.8 164.2,168.1 163.4,170.7 162.6,172.8 161.8,174.8 161.0,176.4 160.2,178.3 159.4,181.4 158.6,182.1 157.8,184.6 157.0,185.8 156.2,187.2 155.4,189.2 154.6,190.5 153.8,192.3 153.0,192.6 152.2,194.4 151.4,194.8 150.6,195.7 149.8,196.9 149.0,197.6 148.2,197.8 147.4,197.8 146.6,198.9 145.8,199.4 145.0,199.2 144.2,198.2 143.4,199.1 142.6,198.8 141.8,198.2 141.0,197.2 140.2,197.0 139.4,196.2 138.6,195.8 137.8,194.4 137.0,193.2 136.2,191.7 135.4,190.5 134.6,188.7 133.8,187.2 133.0,186.0 132.2,185.0 131.4,182.8 130.6,180.9 129.8,179.1 129.0,176.8 128.2,175.3 127.4,173.2 126.6,170.6 125.8,168.9 125.0,166.5 124.2,164.4 123.4,161.5 122.6,159.7 121.8,156.7 121.0,154.3 120.2,152.0 119.4,149.2 118.6,147.2 117.8,144.2 117.0,142.0 116.2,139.3 115.4,137.6 114.6,134.8 113.8,132.4 113.0,130.2 112.2,127.8 111.4,125.2 110.6,123.3 109.8,121.2 109.0,118.2 108.2,116.9 107.4,114.7 106.6,112.7 105.8,111.7 105.0,109.8 104.2,107.7 103.4,105.8 102.6,105.5 101.8,103.2 101.0,102.7 100.2,101.4 99.4,100.8 98.6,99.0 97.8,98.3 97.0,98.0 96.2,97.1 95.4,96.2 94.6,96.5 93.8,96.1 93.0,95.4 92.2,95.8 91.4,96.2 90.6,96.2 89.8,96.7 89.0,96.9 88.2,97.8 87.4,98.7 86.6,99.1 85.8,99.9 85.0,101.1 84.2,102.8 83.4,104.0 82.6,104.9 81.8,105.7 81.0,107.7 80.2,109.4 79.4,111.2 78.6,113.0 77.8,115.1 77.0,117.0 76.2,118.5 75.4,121.2 74.6,123.6 73.8,125.1 73.0,127.3 72.2,129.2 71.4,132.2 70.6,134.4 69.8,137.5 69.0,139.4 68.2,142.3 67.4,144.5 66.6,146.8 65.8,148.7 65.0,151.8 64.2,153.9 63.4,156.6 62.6,159.0 61.8,161.5 61.0,164.6 60.2,166.4 59.4,168.9 58.6,171.2 57.8,173.0 57.0,175.3 56.2,176.7 55.4,179.3 54.6,181.1 53.8,182.8 53.0,184.0 52.2,186.5 51.4,187.8 50.6,189.3 49.8,190.9 49.0,191.5 48.2,192.9 47.4,194.2 46.6,194.8 45.8,196.3 45.0,196.7 44.2,197.3 43.4,198.1 42.6,198.7 41.8,199.0 41.0,198.7 40.2,199.1 39.4,199.0 38.6,198.7 37.8,198.4 37.0,197.4 36.2,197.3 35.4,197.2 34.6,196.5 33.8,194.9 33.0,193.9 32.2,192.7 31.4,192.0 30.6,190.3 29.8,189.0 29.0,187.9 28.2,185.6 27.4,184.1 26.6,182.4 25.8,180.8 25.0,179.3 24.2,177.0 23.4,174.9 22.6,172.1 21.8,170.9 21.0,167.9 20.2,166.4 19.4,163.9 18.6,161.1 17.8,159.2 17.0,156.8" fill="#e3d93c" stroke="#e3d93c" stroke-width="0.85" stroke-linejoin="round"/><path d="M303.1 92.2v5.3M533.2 130.8v6.3M184.6 106.0v4.5M336.6 169.8v3.5M460.1 193.2v6.7M43.5 194.9v6.2M356.8 195.7v5.3M527.6 116.5v2.0M465.6 191.6v5.1M348.0 191.8v6.5M391.4 113.3v4.4M339.2 176.1v6.1M347.7 192.5v5.3M339.1 175.5v3.6M266.0 172.3v6.3M92.1 91.4v7.6M292.6 99.8v5.2M142.8 195.8v3.0M259.2 186.1v5.8M486.9 140.8v2.3M454.4 194.4v6.9M98.3 97.3v3.5M204.7 96.9v6.8M255.2 194.3v2.5M253.4 193.7v4.9M415.9 101.1v2.9M210.1 108.1v5.1M212.2 112.7v4.0M26.8 180.7v3.2M47.8 191.2v3.1M144.5 196.5v7.0M351.5 195.2v7.2M239.7 185.4v6.8M212.6 114.5v2.3M210.3 107.8v6.3M443.2 174.9v4.1M321.3 123.7v3.1M391.2 113.4v4.2M190.5 98.0v2.4M278.2 138.0v6.5M260.1 185.3v7.0M266.1 172.8v4.6M286.2 112.6v6.9M406.2 94.3v4.4M421.3 112.1v6.6M133.4 184.7v2.5M413.0 97.7v5.4M375.0 162.4v4.9M324.1 129.3v6.9M93.9 93.4v4.0M20.7 165.3v3.6M181.8 113.4v3.5M309.2 97.8v5.1M44.4 194.0v3.8M438.5 162.8v3.5M44.9 194.1v5.2M261.2 183.7v4.9M209.5 106.3v6.8M500.2 105.3v5.3M182.5 112.0v5.2M314.1 106.8v3.9M390.5 113.9v6.8M256.2 190.9v7.6M245.2 195.1v5.8M470.4 185.5v2.4M112.1 123.0v5.4M128.3 172.5v2.9M67.5 140.0v7.7M363.4 188.2v3.5M47.2 192.4v6.2M456.5 196.4v3.8M311.8 101.8v2.9M187.8 101.4v7.0M437.2 159.0v4.3M134.8 187.6v5.3M261.3 183.2v6.4M452.5 192.3v2.7M540.5 153.8v5.2M200.2 92.8v6.5M505.7 97.1v2.6M471.1 182.5v5.6M159.9 173.8v7.4M136.8 190.6v7.5M331.9 155.0v4.1M362.2 191.8v2.3M253.6 194.6v3.5M111.4 123.8v3.8M311.1 101.4v2.6M259.7 188.0v2.2M86.8 96.2v5.5M103.5 103.7v3.0M191.6 93.2v7.1M66.9 144.1v2.7M298.9 94.9v2.7M103.6 103.5v5.2M210.1 108.4v3.2M143.4 194.5v7.2M512.7 92.1v4.9M317.0 112.6v6.1M411.3 96.2v2.9M33.7 192.2v4.4M170.8 146.5v2.5M140.3 192.6v5.6M390.7 116.5v2.4M332.1 157.4v2.2M380.7 143.4v4.1M259.9 187.2v7.5M511.2 93.3v4.5M402.7 95.0v6.1M198.3 94.5v2.8M132.8 182.1v4.0M541.1 155.1v4.9M426.6 124.1v6.5M461.5 196.0v6.7M394.2 108.0v4.1M524.5 106.5v6.0M88.3 91.7v7.0M492.5 120.2v7.0M450.7 187.1v6.7M174.5 132.6v5.2M78.3 107.8v7.8M149.8 193.7v7.0M141.7 193.7v5.0M377.3 153.8v4.4M511.9 92.2v7.0M456.5 195.5v4.0M456.6 196.4v6.8M75.6 117.4v4.5M257.7 191.1v4.0M203.2 94.5v7.1M159.8 176.3v6.2M364.5 187.1v6.8M449.5 189.0v3.1M520.3 101.1v4.2M279.8 130.5v5.0M117.0 139.7v3.0M513.6 92.5v4.7M149.2 195.6v4.1M307.7 94.6v7.2M215.3 118.0v7.4M250.7 195.0v7.7M364.6 186.4v5.8M291.6 100.4v6.1M455.8 194.0v6.1M252.6 192.7v6.5M400.2 97.8v6.5M188.2 100.6v2.8M42.0 195.2v4.4M354.3 195.9v3.7M238.4 182.3v7.9M217.3 124.2v6.3M319.5 118.3v6.8M90.9 91.9v5.1M102.6 102.4v6.4M181.3 116.4v2.3M218.6 129.4v7.8M179.9 119.6v3.2M247.6 197.0v2.7M523.4 106.9v3.6M457.0 194.0v5.8M182.7 111.8v2.9M264.4 176.3v5.4M412.6 97.0v3.7M499.2 106.6v5.2M348.4 192.6v3.6M39.2 194.4v7.0M203.2 95.7v7.6M145.3 197.0v2.4M413.2 96.5v6.1M525.3 108.7v5.8M511.2 92.7v6.5M223.6 145.9v4.1M475.1 173.5v5.2M368.9 177.7v7.4M195.3 94.6v2.4M281.1 127.4v6.0M161.3 170.8v7.1M457.7 196.4v2.9M413.4 95.7v5.0M489.4 130.0v6.9M387.2 124.8v5.7M52.8 180.4v5.6M160.8 175.5v3.3M529.3 119.6v4.2M55.4 175.7v7.0M90.3 94.9v3.7M251.5 194.3v5.3M38.3 196.1v7.0M135.3 187.6v5.8M191.3 96.8v5.4M458.2 194.7v6.9M33.5 192.7v6.7M50.6 185.0v5.8M286.3 114.5v5.5M473.0 175.8v8.0M522.2 102.6v4.0M55.0 178.1v4.9" stroke="#e3d93c" stroke-width="0.7" opacity="0.7" fill="none"/>
<path d="M274.8 34.6h10.4l-5.2 5.6z" fill="#16163e" stroke="#8c88dc" stroke-width="0.9"/>
<path d="M537.4 34.6l5.5 4.9l-5.5 4.9z" fill="#2a7cf0"/>
<path d="M542.7 125.9l-5.4 4.6l5.4 4.6z" fill="#20dc20"/>
<path d="M7.8 143h6.8l1.8 3.9l-1.8 3.9h-6.8z" fill="#1cd6e8"/><rect x="9.3" y="145.3" width="4.4" height="3.2" fill="#1a93a3"/><path d="M10 146.9h3" stroke="#1cd6e8" stroke-width="0.6"/>
</svg>
<div class="t" style="left:22px;top:14.6px;">Utility</div>
<div class="t" style="left:63.5px;top:14.6px;">Display</div>
<div class="t" style="left:105.5px;top:14.6px;">Acquire</div>
<div class="t" style="left:148.5px;top:14.6px;">Trigger</div>
<div class="t" style="left:190.6px;top:14.6px;">Cursors</div>
<div class="t" style="left:229.5px;top:14.6px;">Measure</div>
<div class="t" style="left:273.5px;top:14.6px;">Math</div>
<div class="t" style="left:315px;top:14.6px;">Analysis</div>
<svg class="abs" style="left:10.8px;top:14.5px" width="9" height="9" viewBox="-4.5 -4.5 9 9"><circle r="2.2" fill="none" stroke="#d0d0d0" stroke-width="1.2"/><circle r="3.15" fill="none" stroke="#d0d0d0" stroke-width="1.1" stroke-dasharray="1.24 1.234"/></svg>
<svg class="abs" style="left:53px;top:15px" width="10" height="9"><rect x="1" y="1.3" width="7" height="4.2" fill="none" stroke="#d0d0d0" stroke-width="0.9"/><path d="M4.5 5.5V6.6M3.2 6.9H5.8" stroke="#d0d0d0" stroke-width="0.9"/></svg>
<svg class="abs" style="left:95.5px;top:15px" width="9" height="9"><path d="M1 7V3Q1 1.4 2.6 1.4H7V7M4.1 2V7" stroke="#d0d0d0" stroke-width="0.9" fill="none"/></svg>
<svg class="abs" style="left:138px;top:14.6px" width="9" height="9"><path d="M0.9 1.6V7.4" stroke="#d0d0d0" stroke-width="0.9"/><path d="M1.2 1.7H7L6 3.4L7 5.1H1.2Z" fill="#d0d0d0"/></svg>
<svg class="abs" style="left:179px;top:14.8px" width="9" height="9"><path d="M2.9 0.5V8M5.7 0.5V8M0.5 2.9H8M0.5 5.6H8" stroke="#d0d0d0" stroke-width="0.9" stroke-dasharray="1.2 0.5"/></svg>
<svg class="abs" style="left:219px;top:14.6px" width="9" height="9"><path d="M1.4 1.6V7.3H7.6Z" fill="none" stroke="#d0d0d0" stroke-width="0.9"/><path d="M2.8 4.6V6H4.3Z" fill="none" stroke="#d0d0d0" stroke-width="0.6"/></svg>
<svg class="abs" style="left:262.6px;top:15px" width="9" height="9"><path d="M1.3 6.8V1.5L4.1 4.3L6.9 1.5V6.8" fill="none" stroke="#d0d0d0" stroke-width="1.05"/></svg>
<svg class="abs" style="left:304.8px;top:14.8px" width="9" height="9"><rect x="0.6" y="0.8" width="7.4" height="7" fill="none" stroke="#d0d0d0" stroke-width="0.8"/><path d="M1.6 6.4L3.2 3.6L4.6 5.2L6.8 2.2" fill="none" stroke="#d0d0d0" stroke-width="0.7"/><rect x="1.6" y="1.8" width="2" height="1.6" fill="#d0d0d0"/></svg>
<svg class="abs" style="left:472.6px;top:14.6px" width="6" height="9"><rect x="0.7" y="1.2" width="4.2" height="6.6" rx="0.6" fill="none" stroke="#d0d0d0" stroke-width="0.8"/><path d="M1.8 1V0.4H3.8V1M1.9 3.4H3.7M1.9 5H3.7" stroke="#d0d0d0" stroke-width="0.7" fill="none"/></svg>
<div class="t" style="left:388.8px;top:9.2px;color:#f0f0f0;font-weight:bold;font-size:8.1px;transform:scaleX(1.02)">SIGLENT</div>
<div class="t" style="left:436.2px;top:10.2px;color:#d01414;">Stop</div>
<div class="t" style="left:402.6px;top:19.9px;color:#22c422;transform:scaleX(.89)">f(C4) &lt; 2.0Hz</div>
<div class="t" style="left:489px;top:14.6px;color:#e0e0e0;transform:scaleX(.92)">CURSORS</div>
<div class="abs" style="left:7px;top:262.5px;width:537.5px;height:14px;background:#202020"></div>
<div class="abs" style="left:7px;top:276.5px;width:537.5px;height:15px;background:#0e0e0e"></div>
<div class="t m" style="left:18.5px;top:265.9px;">MEASURE</div>
<div class="t m" style="left:18.5px;top:277px;">Value</div>
<div class="t m" style="left:104px;top:265.9px;color:#e8207c;">Pk-Pk(C2)</div>
<div class="t m" style="left:104px;top:277px;">18.95833A</div>
<div class="t m" style="left:189.5px;top:265.9px;color:#e8dc40;">RMS(C1)</div>
<div class="t m" style="left:189.5px;top:277px;">6.4891898A</div>
<div class="t m" style="left:275px;top:265.9px;color:#e8dc40;">Freq(C1)</div>
<div class="t m" style="left:275px;top:277px;">99.24201Hz</div>
<div class="t m" style="left:361px;top:265.9px;color:#22c422;">+Width(C4)</div>
<div class="t m" style="left:361px;top:278px;">***</div>
<div class="abs" style="left:7.2px;top:291.6px;width:66.2px;height:29.6px;background:#303030"></div>
<div class="abs" style="left:7.2px;top:301px;width:66.2px;height:9.6px;background:#3b3b3b"></div>
<div class="abs" style="left:10.2px;top:292.6px;width:21.8px;height:7.8px;background:#f4f020"></div>
<div class="t c m" style="left:10.2px;top:292.2px;color:#3a3a3a;width:21.8px;text-align:center">C1</div>
<div class="t r m" style="right:477.9px;top:292.2px;color:#f4f020;font-weight:bold;font-size:7px;letter-spacing:0.2px">AC1M</div>
<div class="t r m" style="right:477.9px;top:301px;">5.00A/</div>
<div class="t m" style="left:10.4px;top:310.4px;">20M</div>
<div class="t r m" style="right:477.9px;top:310.4px;">0.00A</div>
<svg class="abs" style="left:12.2px;top:301px" width="12" height="6"><path d="M0.5 4.8L10.5 1.2" stroke="#2f8ff0" stroke-width="1"/></svg>
<div class="abs" style="left:75.4px;top:291.6px;width:66.0px;height:29.6px;background:#303030"></div>
<div class="abs" style="left:75.4px;top:301px;width:66.0px;height:9.6px;background:#3b3b3b"></div>
<div class="abs" style="left:78.4px;top:292.6px;width:21.8px;height:7.8px;background:#f0189a"></div>
<div class="t c m" style="left:78.4px;top:292.2px;color:#3a3a3a;width:21.8px;text-align:center">C2</div>
<div class="t r m" style="right:409.9px;top:292.2px;color:#f0189a;font-weight:bold;font-size:7px;letter-spacing:0.2px">AC1M</div>
<div class="t r m" style="right:409.9px;top:301px;">5.00A/</div>
<div class="t m" style="left:78.60000000000001px;top:310.4px;">20M</div>
<div class="t r m" style="right:409.9px;top:310.4px;">0.00A</div>
<svg class="abs" style="left:80.4px;top:301px" width="12" height="6"><path d="M0.5 4.8L10.5 1.2" stroke="#2f8ff0" stroke-width="1"/></svg>
<div class="abs" style="left:143.4px;top:291.6px;width:64.0px;height:29.6px;background:#303030"></div>
<div class="abs" style="left:143.4px;top:301px;width:64.0px;height:9.6px;background:#3b3b3b"></div>
<div class="abs" style="left:143.4px;top:291.6px;width:62.4px;height:28px;border:0.8px solid #2f7fe0"></div>
<div class="abs" style="left:146.4px;top:292.6px;width:21.8px;height:7.8px;background:#28d8f0"></div>
<div class="t c m" style="left:146.4px;top:292.2px;color:#3a3a3a;width:21.8px;text-align:center">C3</div>
<div class="t r m" style="right:343.9px;top:292.2px;color:#28d8f0;font-weight:bold;font-size:7px;letter-spacing:0.2px">AC1M</div>
<div class="t r m" style="right:343.9px;top:301px;">5.00A/</div>
<div class="t m" style="left:146.6px;top:310.4px;">100M</div>
<div class="t r m" style="right:343.9px;top:310.4px;">0.00A</div>
<svg class="abs" style="left:148.4px;top:301px" width="12" height="6"><path d="M0.5 4.8L10.5 1.2" stroke="#2f8ff0" stroke-width="1"/></svg>
<div class="abs" style="left:209px;top:291.6px;width:66px;height:29.6px;background:#161616"></div>
<svg class="abs" style="left:222px;top:295px" width="36" height="22"><path d="M2 10.6H34M18.4 2.4V18.6" stroke="#5c5c5c" stroke-width="0.8"/></svg>
<svg class="abs" style="left:470px;top:263px" width="30" height="26"><path d="M7.5 11.3H21M14.2 3.5V19.5" stroke="#4c4c4c" stroke-width="0.9"/></svg>
<div class="abs" style="left:531px;top:266.5px;width:10.5px;height:10.5px;background:#3a3a3a"></div>
<svg class="abs" style="left:531px;top:266.5px" width="11" height="11"><path d="M2.5 2.5L8 8M8 2.5L2.5 8" stroke="#555" stroke-width="1.2"/></svg>
<div class="abs" style="left:173px;top:268.6px;width:7px;height:1.2px;background:#3a3a3a"></div>
<div class="abs" style="left:258px;top:268.6px;width:7px;height:1.2px;background:#3a3a3a"></div>
<div class="abs" style="left:344px;top:268.6px;width:7px;height:1.2px;background:#3a3a3a"></div>
<div class="abs" style="left:430px;top:268.6px;width:7px;height:1.2px;background:#3a3a3a"></div>
<div class="abs" style="left:355.6px;top:291.6px;width:74.0px;height:29.6px;background:#2a2a2a"></div><div class="abs" style="left:355.6px;top:301px;width:74.0px;height:9.8px;background:#464646"></div><div class="abs" style="left:355.6px;top:310.8px;width:74.0px;height:10.4px;background:#383838"></div>
<div class="t m" style="left:357.6px;top:292.2px;">Timebase</div>
<div class="t r m" style="right:122px;top:292.2px;">10bits</div>
<div class="t m" style="left:357.6px;top:301.2px;">-25.0ms</div>
<div class="t r m" style="right:122px;top:301.2px;">5.00ms/div</div>
<div class="t m" style="left:357.6px;top:310.8px;">10.0kpts</div>
<div class="t r m" style="right:122px;top:310.8px;">200kSa/s</div>
<div class="abs" style="left:431.4px;top:291.6px;width:63.80000000000001px;height:29.6px;background:#2a2a2a"></div><div class="abs" style="left:431.4px;top:301px;width:63.80000000000001px;height:9.8px;background:#464646"></div><div class="abs" style="left:431.4px;top:310.8px;width:63.80000000000001px;height:10.4px;background:#383838"></div>
<div class="t m" style="left:433.4px;top:292.2px;color:#22c422;">Trigger</div>
<div class="t r m" style="right:56.39999999999998px;top:292.2px;color:#22c422;font-size:7px;font-weight:bold">C4 DC</div>
<div class="t m" style="left:433.4px;top:301.2px;">Stop</div>
<div class="t r m" style="right:56.39999999999998px;top:301.2px;">2.00V</div>
<div class="t m" style="left:433.4px;top:310.8px;">Edge</div>
<div class="t r m" style="right:56.39999999999998px;top:310.8px;">Rising</div>
<div class="abs" style="left:497px;top:291.6px;width:47.5px;height:29.6px;background:#2a2a2a"></div>
<div class="t c m" style="left:497px;top:304px;color:#e8e8e8;width:47.5px;text-align:center;font-size:8.4px;transform:scaleX(.9)">17:11:28</div>
<div class="t c m" style="left:497px;top:312.2px;color:#e8e8e8;width:47.5px;text-align:center;font-size:8.4px;transform:scaleX(.9)">2024/6/13</div>
<svg class="abs" style="left:519px;top:292px" width="24" height="10"><path d="M4.7 0.6V8.6M4.7 8.6L2.2 5.6V3.4M4.7 7.2L7.2 4.6V2.8M3.4 2L4.7 0.4L6 2" stroke="#bdbdbd" stroke-width="0.8" fill="none"/><rect x="13.6" y="0.8" width="3.4" height="3" fill="none" stroke="#bbb" stroke-width="0.8"/><path d="M15.3 3.8V5.6M12.6 5.6H18M12.6 5.6V7M18 5.6V7" stroke="#bbb" stroke-width="0.7" fill="none"/><rect x="11.6" y="6.4" width="2.4" height="2.2" fill="#2ab0b0"/><circle cx="17.6" cy="6.6" r="2.3" fill="#f01818"/></svg>
<!--BOTTOM-->
<div class="serif" style="left:246px;width:60px;text-align:center;top:326.2px;font-size:15.8px;line-height:18px">(<b>a</b>)</div>
<svg class="abs" style="left:0;top:340px" width="550" height="330" viewBox="0 340 550 330" font-family="Liberation Sans, sans-serif">
<path d="M68.70 359.5V603.5M77.94 359.5V603.5M87.18 359.5V603.5M96.41 359.5V603.5M105.65 359.5V603.5M114.89 359.5V603.5M124.13 359.5V603.5M133.37 359.5V603.5M142.60 359.5V603.5M151.84 359.5V603.5M161.08 359.5V603.5M170.32 359.5V603.5M179.56 359.5V603.5M188.79 359.5V603.5M198.03 359.5V603.5M207.27 359.5V603.5M216.51 359.5V603.5M225.75 359.5V603.5M234.98 359.5V603.5M244.22 359.5V603.5M253.46 359.5V603.5M262.70 359.5V603.5M271.94 359.5V603.5M281.17 359.5V603.5M290.41 359.5V603.5M299.65 359.5V603.5M308.89 359.5V603.5M318.13 359.5V603.5M327.36 359.5V603.5M336.60 359.5V603.5M345.84 359.5V603.5M355.08 359.5V603.5M364.32 359.5V603.5M373.55 359.5V603.5M382.79 359.5V603.5M392.03 359.5V603.5M401.27 359.5V603.5M410.51 359.5V603.5M419.74 359.5V603.5M428.98 359.5V603.5M438.22 359.5V603.5M447.46 359.5V603.5M456.70 359.5V603.5M465.93 359.5V603.5M475.17 359.5V603.5M484.41 359.5V603.5M493.65 359.5V603.5M502.89 359.5V603.5M512.12 359.5V603.5M521.36 359.5V603.5M530.60 359.5V603.5M68.7 603.50H530.6M68.7 595.37H530.6M68.7 587.23H530.6M68.7 579.10H530.6M68.7 570.97H530.6M68.7 562.83H530.6M68.7 554.70H530.6M68.7 546.57H530.6M68.7 538.43H530.6M68.7 530.30H530.6M68.7 522.17H530.6M68.7 514.03H530.6M68.7 505.90H530.6M68.7 497.77H530.6M68.7 489.63H530.6M68.7 481.50H530.6M68.7 473.37H530.6M68.7 465.23H530.6M68.7 457.10H530.6M68.7 448.97H530.6M68.7 440.83H530.6M68.7 432.70H530.6M68.7 424.57H530.6M68.7 416.43H530.6M68.7 408.30H530.6M68.7 400.17H530.6M68.7 392.03H530.6M68.7 383.90H530.6M68.7 375.77H530.6M68.7 367.63H530.6M68.7 359.50H530.6" stroke="#efefef" stroke-width="0.6" fill="none"/>
<path d="M68.70 359.5V603.5M114.89 359.5V603.5M161.08 359.5V603.5M207.27 359.5V603.5M253.46 359.5V603.5M299.65 359.5V603.5M345.84 359.5V603.5M392.03 359.5V603.5M438.22 359.5V603.5M484.41 359.5V603.5M530.60 359.5V603.5M68.7 603.50H530.6M68.7 562.83H530.6M68.7 522.17H530.6M68.7 481.50H530.6M68.7 440.83H530.6M68.7 400.17H530.6M68.7 359.50H530.6" stroke="#e3e3e3" stroke-width="0.6" fill="none"/>
<g id="band" stroke-width="1.1">
<polyline id="wu" points="68.70,550.2 68.99,553.8 69.28,546.1 69.57,528.3 69.85,503.6 70.14,475.9 70.43,449.3 70.72,427.4 71.01,413.3 71.30,409.5 71.59,416.8 71.88,434.4 72.16,459.2 72.45,487.1 72.74,513.7 73.03,535.4 73.32,549.2 73.61,553.0 73.90,545.9 74.19,528.6 74.47,503.9 74.76,475.8 75.05,449.1 75.34,427.5 75.63,414.1 75.92,410.6 76.21,417.6 76.49,434.6 76.78,459.1 77.07,487.2 77.36,514.2 77.65,535.8 77.94,549.0 78.23,552.2 78.52,544.9 78.80,528.1 79.09,503.8 79.38,475.8 79.67,448.6 79.96,426.7 80.25,413.6 80.54,410.7 80.82,418.3 81.11,435.3 81.40,459.3 81.69,487.2 81.98,514.5 82.27,536.6 82.56,550.0 82.85,552.7 83.13,544.7 83.42,527.5 83.71,503.5 84.00,475.9 84.29,448.7 84.58,426.3 84.87,412.6 85.16,409.7 85.44,417.9 85.73,435.4 86.02,459.6 86.31,487.1 86.60,514.1 86.89,536.5 87.18,550.5 87.46,553.7 87.75,545.6 88.04,527.9 88.33,503.4 88.62,475.9 88.91,449.2 89.20,426.9 89.49,412.7 89.77,409.1 90.06,416.9 90.35,434.8 90.64,459.4 90.93,487.1 91.22,513.7 91.51,535.7 91.80,549.8 92.08,553.6 92.37,546.2 92.66,528.5 92.95,503.7 93.24,475.9 93.53,449.3 93.82,427.6 94.10,413.7 94.39,409.9 94.68,417.0 94.97,434.4 95.26,459.1 95.55,487.1 95.84,513.9 96.13,535.4 96.41,548.9 96.70,552.5 96.99,545.5 97.28,528.5 97.57,503.9 97.86,475.8 98.15,448.8 98.43,427.2 98.72,414.0 99.01,410.8 99.30,418.0 99.59,434.8 99.88,459.1 100.17,487.2 100.46,514.4 100.74,536.2 101.03,549.3 101.32,552.2 101.61,544.7 101.90,527.8 102.19,503.7 102.48,475.8 102.77,448.5 103.05,426.4 103.34,413.1 103.63,410.4 103.92,418.3 104.21,435.4 104.50,459.5 104.79,487.1 105.07,514.4 105.36,536.7 105.65,550.4 105.94,553.2 106.23,545.0 106.52,527.6 106.81,503.4 107.10,475.9 107.38,448.9 107.67,426.4 107.96,412.5 108.25,409.3 108.54,417.5 108.83,435.2 109.12,459.6 109.40,487.1 109.69,513.9 109.98,536.2 110.27,550.4 110.56,553.9 110.85,546.0 111.14,528.2 111.43,503.5 111.71,475.9 112.00,449.3 112.29,427.3 112.58,413.1 112.87,409.3 113.16,416.8 113.45,434.5 113.74,459.3 114.02,487.1 114.31,513.7 114.60,535.4 114.89,549.4 115.18,553.2 115.47,546.0 115.76,528.6 116.04,503.9 116.33,475.9 116.62,449.1 116.91,427.6 117.20,414.0 117.49,410.4 117.78,417.4 118.07,434.5 118.35,459.1 118.64,487.2 118.93,514.1 119.22,535.7 119.51,548.9 119.80,552.2 120.09,545.1 120.38,528.2 120.66,503.9 120.95,475.8 121.24,448.7 121.53,426.9 121.82,413.8 122.11,410.8 122.40,418.3 122.68,435.1 122.97,459.3 123.26,487.2 123.55,514.5 123.84,536.5 124.13,549.8 124.42,552.5 124.71,544.7 124.99,527.6 125.28,503.6 125.57,475.9 125.86,448.6 126.15,426.3 126.44,412.7 126.73,409.9 127.01,418.1 127.30,435.5 127.59,459.6 127.88,487.1 128.17,514.2 128.46,536.6 128.75,550.5 129.04,553.6 129.32,545.4 129.61,527.7 129.90,503.4 130.19,475.9 130.48,449.1 130.77,426.7 131.06,412.6 131.35,409.1 131.63,417.1 131.92,434.9 132.21,459.5 132.50,487.1 132.79,513.7 133.08,535.8 133.37,550.0 133.65,553.8 133.94,546.2 134.23,528.4 134.52,503.7 134.81,475.9 135.10,449.3 135.39,427.5 135.68,413.5 135.96,409.7 136.25,416.9 136.54,434.4 136.83,459.2 137.12,487.1 137.41,513.8 137.70,535.4 137.99,549.0 138.27,552.7 138.56,545.7 138.85,528.6 139.14,503.9 139.43,475.8 139.72,448.9 140.01,427.4 140.29,414.1 140.58,410.7 140.87,417.8 141.16,434.7 141.45,459.1 141.74,487.2 142.03,514.3 142.32,536.0 142.60,549.2 142.89,552.2 143.18,544.8 143.47,527.9 143.76,503.8 144.05,475.8 144.34,448.6 144.62,426.6 144.91,413.3 145.20,410.6 145.49,418.3 145.78,435.4 146.07,459.4 146.36,487.2 146.65,514.4 146.93,536.7 147.22,550.2 147.51,552.9 147.80,544.9 148.09,527.5 148.38,503.5 148.67,475.9 148.96,448.8 149.24,426.4 149.53,412.5 149.82,409.5 150.11,417.7 150.40,435.3 150.69,459.6 150.98,487.1 151.26,514.0 151.55,536.3 151.84,550.5 152.13,553.8 152.42,545.8 152.71,528.0 153.00,503.5 153.29,475.9 153.57,449.2 153.86,427.1 154.15,412.9 154.44,409.2 154.73,416.9 155.02,434.6 155.31,459.4 155.59,487.1 155.88,513.7 156.17,535.5 156.46,549.6 156.75,553.4 157.04,546.1 157.33,528.6 157.62,503.8 157.90,475.9 158.19,449.2 158.48,427.6 158.77,413.9 159.06,410.1 159.35,417.2 159.64,434.4 159.93,459.1 160.21,487.2 160.50,514.0 160.79,535.5 161.08,548.9 161.37,552.4 161.66,545.3 161.95,528.4 162.23,503.9 162.52,475.8 162.81,448.7 163.10,427.1 163.39,413.9 163.68,410.8 163.97,418.2 164.26,435.0 164.54,459.2 164.83,487.2 165.12,514.4 165.41,536.4 165.70,549.6 165.99,552.3 166.28,544.7 166.57,527.7 166.85,503.6 167.14,475.8 167.43,448.6 167.72,426.3 168.01,412.9 168.30,410.2 168.59,418.2 168.87,435.5 169.16,459.5 169.45,487.1 169.74,514.3 170.03,536.7 170.32,550.5 170.61,553.4 170.90,545.2 171.18,527.6 171.47,503.4 171.76,475.9 172.05,449.0 172.34,426.6 172.63,412.5 172.92,409.2 173.20,417.3 173.49,435.1 173.78,459.6 174.07,487.1 174.36,513.8 174.65,536.0 174.94,550.2 175.23,553.8 175.51,546.1 175.80,528.3 176.09,503.6 176.38,475.9 176.67,449.3 176.96,427.4 177.25,413.3 177.54,409.5 177.82,416.8 178.11,434.4 178.40,459.2 178.69,487.1 178.98,513.7 179.27,535.4 179.56,549.2 179.84,553.0 180.13,545.9 180.42,528.6 180.71,503.9 181.00,475.8 181.29,449.1 181.58,427.5 181.87,414.1 182.15,410.6 182.44,417.6 182.73,434.6 183.02,459.1 183.31,487.2 183.60,514.2 183.89,535.8 184.18,549.0 184.46,552.2 184.75,544.9 185.04,528.1 185.33,503.8 185.62,475.8 185.91,448.6 186.20,426.7 186.48,413.6 186.77,410.7 187.06,418.3 187.35,435.3 187.64,459.3 187.93,487.2 188.22,514.5 188.51,536.6 188.79,550.0 189.08,552.7 189.37,544.7 189.66,527.5 189.95,503.5 190.24,475.9 190.53,448.7 190.81,426.3 191.10,412.6 191.39,409.7 191.68,417.9 191.97,435.4 192.26,459.6 192.55,487.1 192.84,514.1 193.12,536.5 193.41,550.5 193.70,553.7 193.99,545.6 194.28,527.9 194.57,503.4 194.86,475.9 195.15,449.2 195.43,426.9 195.72,412.7 196.01,409.1 196.30,416.9 196.59,434.8 196.88,459.4 197.17,487.1 197.45,513.7 197.74,535.7 198.03,549.8 198.32,553.6 198.61,546.2 198.90,528.6 199.19,503.7 199.48,475.9 199.76,449.3 200.05,427.6 200.34,413.7 200.63,409.9 200.92,417.0 201.21,434.4 201.50,459.1 201.78,487.1 202.07,513.9 202.36,535.5 202.65,548.9 202.94,552.5 203.23,545.5 203.52,528.5 203.81,503.9 204.09,475.8 204.38,448.8 204.67,427.2 204.96,414.0 205.25,410.8 205.54,418.0 205.83,434.8 206.12,459.1 206.40,487.2 206.69,514.4 206.98,536.2 207.27,549.3 207.56,552.2 207.85,544.7 208.14,527.8 208.42,503.7 208.71,475.8 209.00,448.5 209.29,426.4 209.58,413.1 209.87,410.4 210.16,418.3 210.45,435.4 210.73,459.5 211.02,487.1 211.31,514.4 211.60,536.7 211.89,550.4 212.18,553.2 212.47,545.0 212.76,527.6 213.04,503.4 213.33,475.9 213.62,448.9 213.91,426.5 214.20,412.5 214.49,409.3 214.78,417.5 215.06,435.2 215.35,459.6 215.64,487.1 215.93,513.9 216.22,536.2 216.51,550.4 216.80,553.9 217.09,546.0 217.37,528.2 217.66,503.5 217.95,475.9 218.24,449.3 218.53,427.3 218.82,413.1 219.11,409.3 219.39,416.8 219.68,434.5 219.97,459.3 220.26,487.1 220.55,513.7 220.84,535.4 221.13,549.3 221.42,553.2 221.70,546.0 221.99,528.6 222.28,503.9 222.57,475.9 222.86,449.1 223.15,427.6 223.44,414.0 223.73,410.4 224.01,417.4 224.30,434.5 224.59,459.1 224.88,487.2 225.17,514.1 225.46,535.7 225.75,548.9 226.03,552.2 226.32,545.1 226.61,528.2 226.90,503.9 227.19,475.8 227.48,448.7 227.77,426.9 228.06,413.7 228.34,410.8 228.63,418.3 228.92,435.1 229.21,459.3 229.50,487.2 229.79,514.5 230.08,536.5 230.37,549.8 230.65,552.5 230.94,544.7 231.23,527.6 231.52,503.6 231.81,475.9 232.10,448.6 232.39,426.3 232.67,412.7 232.96,409.9 233.25,418.0 233.54,435.5 233.83,459.6 234.12,487.1 234.41,514.2 234.70,536.6 234.98,550.5 235.27,553.6 235.56,545.4 235.85,527.7 236.14,503.4 236.43,475.9 236.72,449.1 237.00,426.7 237.29,412.6 237.58,409.1 237.87,417.1 238.16,434.9 238.45,459.5 238.74,487.1 239.03,513.7 239.31,535.8 239.60,550.0 239.89,553.8 240.18,546.2 240.47,528.5 240.76,503.7 241.05,475.9 241.34,449.3 241.62,427.5 241.91,413.6 242.20,409.7 242.49,416.9 242.78,434.4 243.07,459.2 243.36,487.1 243.64,513.8 243.93,535.4 244.22,549.0 244.51,552.7 244.80,545.7 245.09,528.6 245.38,503.9 245.67,475.8 245.95,448.9 246.24,427.4 246.53,414.1 246.82,410.7 247.11,417.8 247.40,434.7 247.69,459.1 247.97,487.2 248.26,514.3 248.55,536.0 248.84,549.2 249.13,552.2 249.42,544.8 249.71,527.9 250.00,503.8 250.28,475.8 250.57,448.6 250.86,426.6 251.15,413.3 251.44,410.6 251.73,418.3 252.02,435.4 252.31,459.4 252.59,487.2 252.88,514.4 253.17,536.7 253.46,550.2 253.75,552.9 254.04,544.9 254.33,527.5 254.61,503.4 254.90,475.9 255.19,448.8 255.48,426.4 255.77,412.5 256.06,409.5 256.35,417.7 256.64,435.3 256.92,459.6 257.21,487.1 257.50,514.0 257.79,536.3 258.08,550.5 258.37,553.8 258.66,545.8 258.95,528.0 259.23,503.5 259.52,475.9 259.81,449.2 260.10,427.1 260.39,412.9 260.68,409.2 260.97,416.9 261.25,434.6 261.54,459.4 261.83,487.1 262.12,513.7 262.41,535.5 262.70,549.6 262.99,553.4 263.28,546.1 263.56,528.6 263.85,503.8 264.14,475.9 264.43,449.2 264.72,427.6 265.01,413.9 265.30,410.2 265.58,417.2 265.87,434.4 266.16,459.1 266.45,487.2 266.74,514.0 267.03,535.6 267.32,548.9 267.61,552.4 267.89,545.3 268.18,528.4 268.47,503.9 268.76,475.8 269.05,448.7 269.34,427.1 269.63,413.9 269.92,410.8 270.20,418.2 270.49,435.0 270.78,459.2 271.07,487.2 271.36,514.4 271.65,536.4 271.94,549.6 272.22,552.3 272.51,544.7 272.80,527.7 273.09,503.6 273.38,475.8 273.67,448.6 273.96,426.3 274.25,412.9 274.53,410.2 274.82,418.2 275.11,435.5 275.40,459.5 275.69,487.1 275.98,514.3 276.27,536.7 276.56,550.5 276.84,553.4 277.13,545.2 277.42,527.6 277.71,503.4 278.00,475.9 278.29,449.0 278.58,426.6 278.86,412.5 279.15,409.2 279.44,417.2 279.73,435.0 280.02,459.5 280.31,487.1 280.60,513.8 280.89,536.0 281.17,550.2 281.46,553.8 281.75,546.1 282.04,528.3 282.33,503.6 282.62,475.9 282.91,449.3 283.19,427.4 283.48,413.3 283.77,409.5 284.06,416.8 284.35,434.4 284.64,459.2 284.93,487.1 285.22,513.7 285.50,535.4 285.79,549.2 286.08,553.0 286.37,545.9 286.66,528.6 286.95,503.9 287.24,475.8 287.53,449.0 287.81,427.5 288.10,414.1 288.39,410.6 288.68,417.6 288.97,434.6 289.26,459.1 289.55,487.2 289.83,514.2 290.12,535.8 290.41,549.0 290.70,552.2 290.99,544.9 291.28,528.1 291.57,503.8 291.86,475.8 292.14,448.6 292.43,426.7 292.72,413.5 293.01,410.7 293.30,418.3 293.59,435.3 293.88,459.3 294.16,487.2 294.45,514.5 294.74,536.6 295.03,550.0 295.32,552.7 295.61,544.8 295.90,527.5 296.19,503.5 296.47,475.9 296.76,448.7 297.05,426.3 297.34,412.6 297.63,409.7 297.92,417.9 298.21,435.4 298.50,459.6 298.78,487.1 299.07,514.1 299.36,536.5 299.65,550.5 299.94,553.7 300.23,545.7 300.52,527.9 300.80,503.4 301.09,475.9 301.38,449.2 301.67,426.9 301.96,412.7 302.25,409.1 302.54,416.9 302.83,434.7 303.11,459.4 303.40,487.1 303.69,513.7 303.98,535.7 304.27,549.8 304.56,553.6 304.85,546.2 305.14,528.6 305.42,503.7 305.71,475.9 306.00,449.3 306.29,427.6 306.58,413.8 306.87,409.9 307.16,417.0 307.44,434.4 307.73,459.1 308.02,487.1 308.31,513.9 308.60,535.5 308.89,548.9 309.18,552.5 309.47,545.5 309.75,528.5 310.04,503.9 310.33,475.8 310.62,448.8 310.91,427.2 311.20,414.0 311.49,410.8 311.77,418.0 312.06,434.9 312.35,459.1 312.64,487.2 312.93,514.4 313.22,536.2 313.51,549.4 313.80,552.2 314.08,544.7 314.37,527.8 314.66,503.7 314.95,475.8 315.24,448.5 315.53,426.4 315.82,413.1 316.11,410.4 316.39,418.3 316.68,435.4 316.97,459.5 317.26,487.1 317.55,514.4 317.84,536.7 318.13,550.4 318.41,553.2 318.70,545.0 318.99,527.6 319.28,503.4 319.57,475.9 319.86,448.9 320.15,426.5 320.44,412.5 320.72,409.3 321.01,417.4 321.30,435.2 321.59,459.6 321.88,487.1 322.17,513.9 322.46,536.2 322.75,550.4 323.03,553.9 323.32,546.0 323.61,528.2 323.90,503.5 324.19,475.9 324.48,449.3 324.77,427.3 325.05,413.1 325.34,409.3 325.63,416.8 325.92,434.5 326.21,459.3 326.50,487.1 326.79,513.7 327.08,535.4 327.36,549.3 327.65,553.2 327.94,546.0 328.23,528.6 328.52,503.9 328.81,475.9 329.10,449.1 329.38,427.6 329.67,414.0 329.96,410.4 330.25,417.4 330.54,434.5 330.83,459.1 331.12,487.2 331.41,514.1 331.69,535.7 331.98,548.9 332.27,552.2 332.56,545.1 332.85,528.2 333.14,503.9 333.43,475.8 333.72,448.7 334.00,426.9 334.29,413.7 334.58,410.8 334.87,418.3 335.16,435.1 335.45,459.3 335.74,487.2 336.02,514.5 336.31,536.5 336.60,549.8 336.89,552.5 337.18,544.7 337.47,527.6 337.76,503.6 338.05,475.9 338.33,448.6 338.62,426.3 338.91,412.7 339.20,409.9 339.49,418.0 339.78,435.5 340.07,459.6 340.35,487.1 340.64,514.2 340.93,536.6 341.22,550.5 341.51,553.6 341.80,545.5 342.09,527.7 342.38,503.4 342.66,475.9 342.95,449.1 343.24,426.8 343.53,412.6 343.82,409.1 344.11,417.1 344.40,434.9 344.69,459.5 344.97,487.1 345.26,513.7 345.55,535.8 345.84,550.0 346.13,553.7 346.42,546.2 346.71,528.5 346.99,503.7 347.28,475.9 347.57,449.3 347.86,427.5 348.15,413.6 348.44,409.7 348.73,416.9 349.02,434.4 349.30,459.2 349.59,487.1 349.88,513.8 350.17,535.4 350.46,549.0 350.75,552.7 351.04,545.7 351.33,528.6 351.61,503.9 351.90,475.8 352.19,448.9 352.48,427.4 352.77,414.1 353.06,410.7 353.35,417.8 353.63,434.7 353.92,459.1 354.21,487.2 354.50,514.3 354.79,536.0 355.08,549.2 355.37,552.2 355.66,544.8 355.94,527.9 356.23,503.8 356.52,475.8 356.81,448.6 357.10,426.6 357.39,413.3 357.68,410.6 357.96,418.3 358.25,435.4 358.54,459.4 358.83,487.2 359.12,514.4 359.41,536.7 359.70,550.2 359.99,553.0 360.27,544.9 360.56,527.5 360.85,503.4 361.14,475.9 361.43,448.8 361.72,426.4 362.01,412.5 362.30,409.5 362.58,417.6 362.87,435.3 363.16,459.6 363.45,487.1 363.74,514.0 364.03,536.3 364.32,550.5 364.60,553.8 364.89,545.8 365.18,528.0 365.47,503.5 365.76,475.9 366.05,449.2 366.34,427.1 366.63,412.9 366.91,409.2 367.20,416.8 367.49,434.6 367.78,459.4 368.07,487.1 368.36,513.7 368.65,535.5 368.94,549.5 369.22,553.4 369.51,546.1 369.80,528.6 370.09,503.8 370.38,475.9 370.67,449.2 370.96,427.6 371.24,413.9 371.53,410.2 371.82,417.2 372.11,434.4 372.40,459.1 372.69,487.2 372.98,514.0 373.27,535.6 373.55,548.9 373.84,552.3 374.13,545.3 374.42,528.4 374.71,503.9 375.00,475.8 375.29,448.7 375.57,427.1 375.86,413.9 376.15,410.8 376.44,418.2 376.73,435.0 377.02,459.2 377.31,487.2 377.60,514.4 377.88,536.4 378.17,549.6 378.46,552.3 378.75,544.7 379.04,527.7 379.33,503.6 379.62,475.8 379.91,448.6 380.19,426.3 380.48,412.9 380.77,410.2 381.06,418.2 381.35,435.5 381.64,459.5 381.93,487.1 382.21,514.3 382.50,536.7 382.79,550.5 383.08,553.4 383.37,545.2 383.66,527.6 383.95,503.4 384.24,475.9 384.52,449.0 384.81,426.6 385.10,412.5 385.39,409.2 385.68,417.2 385.97,435.0 386.26,459.5 386.54,487.1 386.83,513.8 387.12,536.0 387.41,550.2 387.70,553.8 387.99,546.1 388.28,528.3 388.57,503.6 388.85,475.9 389.14,449.3 389.43,427.4 389.72,413.3 390.01,409.5 390.30,416.8 390.59,434.4 390.88,459.2 391.16,487.1 391.45,513.7 391.74,535.4 392.03,549.2 392.32,553.0 392.61,545.9 392.90,528.6 393.18,503.9 393.47,475.8 393.76,449.0 394.05,427.5 394.34,414.1 394.63,410.6 394.92,417.6 395.21,434.6 395.49,459.1 395.78,487.2 396.07,514.2 396.36,535.9 396.65,549.0 396.94,552.2 397.23,544.9 397.52,528.1 397.80,503.8 398.09,475.8 398.38,448.6 398.67,426.7 398.96,413.5 399.25,410.7 399.54,418.3 399.82,435.3 400.11,459.3 400.40,487.2 400.69,514.5 400.98,536.6 401.27,550.0 401.56,552.7 401.85,544.8 402.13,527.5 402.42,503.5 402.71,475.9 403.00,448.7 403.29,426.3 403.58,412.6 403.87,409.7 404.15,417.8 404.44,435.4 404.73,459.6 405.02,487.1 405.31,514.1 405.60,536.5 405.89,550.5 406.18,553.7 406.46,545.7 406.75,527.9 407.04,503.4 407.33,475.9 407.62,449.2 407.91,426.9 408.20,412.7 408.49,409.1 408.77,416.9 409.06,434.7 409.35,459.4 409.64,487.1 409.93,513.7 410.22,535.7 410.51,549.8 410.79,553.6 411.08,546.2 411.37,528.6 411.66,503.7 411.95,475.9 412.24,449.3 412.53,427.6 412.82,413.8 413.10,409.9 413.39,417.1 413.68,434.4 413.97,459.1 414.26,487.1 414.55,513.9 414.84,535.5 415.12,548.9 415.41,552.5 415.70,545.5 415.99,528.5 416.28,503.9 416.57,475.8 416.86,448.8 417.15,427.2 417.43,414.0 417.72,410.8 418.01,418.0 418.30,434.9 418.59,459.1 418.88,487.2 419.17,514.4 419.46,536.2 419.74,549.4 420.03,552.2 420.32,544.7 420.61,527.8 420.90,503.7 421.19,475.8 421.48,448.5 421.76,426.4 422.05,413.1 422.34,410.4 422.63,418.3 422.92,435.4 423.21,459.5 423.50,487.1 423.79,514.4 424.07,536.7 424.36,550.4 424.65,553.2 424.94,545.1 425.23,527.6 425.52,503.4 425.81,475.9 426.10,448.9 426.38,426.5 426.67,412.5 426.96,409.3 427.25,417.4 427.54,435.2 427.83,459.6 428.12,487.1 428.40,513.9 428.69,536.2 428.98,550.3 429.27,553.9 429.56,546.0 429.85,528.2 430.14,503.5 430.43,475.9 430.71,449.3 431.00,427.3 431.29,413.1 431.58,409.3 431.87,416.8 432.16,434.5 432.45,459.3 432.73,487.1 433.02,513.7 433.31,535.4 433.60,549.3 433.89,553.2 434.18,546.0 434.47,528.6 434.76,503.9 435.04,475.9 435.33,449.1 435.62,427.6 435.91,414.0 436.20,410.4 436.49,417.4 436.78,434.5 437.07,459.1 437.35,487.2 437.64,514.1 437.93,535.7 438.22,548.9 438.51,552.2 438.80,545.1 439.09,528.2 439.37,503.9 439.66,475.8 439.95,448.6 440.24,426.9 440.53,413.7 440.82,410.8 441.11,418.3 441.40,435.2 441.68,459.3 441.97,487.2 442.26,514.5 442.55,536.5 442.84,549.8 443.13,552.5 443.42,544.7 443.71,527.6 443.99,503.6 444.28,475.9 444.57,448.6 444.86,426.3 445.15,412.7 445.44,409.9 445.73,418.0 446.01,435.5 446.30,459.6 446.59,487.1 446.88,514.2 447.17,536.6 447.46,550.5 447.75,553.6 448.04,545.5 448.32,527.8 448.61,503.4 448.90,475.9 449.19,449.1 449.48,426.8 449.77,412.6 450.06,409.1 450.34,417.1 450.63,434.9 450.92,459.5 451.21,487.1 451.50,513.7 451.79,535.8 452.08,550.0 452.37,553.7 452.65,546.2 452.94,528.5 453.23,503.7 453.52,475.9 453.81,449.3 454.10,427.5 454.39,413.6 454.68,409.7 454.96,416.9 455.25,434.4 455.54,459.2 455.83,487.1 456.12,513.8 456.41,535.4 456.70,549.0 456.98,552.7 457.27,545.7 457.56,528.6 457.85,503.9 458.14,475.8 458.43,448.9 458.72,427.4 459.01,414.1 459.29,410.7 459.58,417.8 459.87,434.7 460.16,459.1 460.45,487.2 460.74,514.3 461.03,536.0 461.31,549.2 461.60,552.2 461.89,544.8 462.18,527.9 462.47,503.8 462.76,475.8 463.05,448.6 463.34,426.6 463.62,413.3 463.91,410.6 464.20,418.3 464.49,435.4 464.78,459.4 465.07,487.2 465.36,514.4 465.65,536.7 465.93,550.2 466.22,553.0 466.51,544.9 466.80,527.5 467.09,503.4 467.38,475.9 467.67,448.8 467.95,426.4 468.24,412.5 468.53,409.5 468.82,417.6 469.11,435.3 469.40,459.6 469.69,487.1 469.98,514.0 470.26,536.3 470.55,550.5 470.84,553.8 471.13,545.9 471.42,528.0 471.71,503.5 472.00,475.9 472.29,449.3 472.57,427.1 472.86,412.9 473.15,409.2 473.44,416.8 473.73,434.6 474.02,459.4 474.31,487.1 474.59,513.7 474.88,535.5 475.17,549.5 475.46,553.4 475.75,546.1 476.04,528.6 476.33,503.8 476.62,475.9 476.90,449.2 477.19,427.6 477.48,413.9 477.77,410.2 478.06,417.2 478.35,434.4 478.64,459.1 478.92,487.2 479.21,514.0 479.50,535.6 479.79,548.9 480.08,552.3 480.37,545.3 480.66,528.4 480.95,503.9 481.23,475.8 481.52,448.7 481.81,427.1 482.10,413.9 482.39,410.8 482.68,418.2 482.97,435.0 483.26,459.2 483.54,487.2 483.83,514.4 484.12,536.4 484.41,549.6 484.70,552.4 484.99,544.7 485.28,527.7 485.56,503.6 485.85,475.8 486.14,448.6 486.43,426.3 486.72,412.9 487.01,410.2 487.30,418.2 487.59,435.5 487.87,459.5 488.16,487.1 488.45,514.3 488.74,536.7 489.03,550.5 489.32,553.4 489.61,545.3 489.90,527.6 490.18,503.4 490.47,475.9 490.76,449.0 491.05,426.6 491.34,412.5 491.63,409.2 491.92,417.2 492.20,435.0 492.49,459.5 492.78,487.1 493.07,513.8 493.36,536.0 493.65,550.2 493.94,553.8 494.23,546.1 494.51,528.3 494.80,503.6 495.09,475.9 495.38,449.3 495.67,427.4 495.96,413.4 496.25,409.5 496.53,416.8 496.82,434.4 497.11,459.2 497.40,487.1 497.69,513.7 497.98,535.4 498.27,549.1 498.56,552.9 498.84,545.9 499.13,528.6 499.42,503.9 499.71,475.8 500.00,449.0 500.29,427.5 500.58,414.1 500.87,410.6 501.15,417.6 501.44,434.6 501.73,459.1 502.02,487.2 502.31,514.2 502.60,535.9 502.89,549.0 503.17,552.2 503.46,544.9 503.75,528.1 504.04,503.8 504.33,475.8 504.62,448.6 504.91,426.7 505.20,413.5 505.48,410.7 505.77,418.3 506.06,435.3 506.35,459.3 506.64,487.2 506.93,514.5 507.22,536.6 507.50,550.0 507.79,552.7 508.08,544.8 508.37,527.5 508.66,503.5 508.95,475.9 509.24,448.7 509.53,426.3 509.81,412.6 510.10,409.7 510.39,417.8 510.68,435.4 510.97,459.6 511.26,487.1 511.55,514.1 511.84,536.5 512.12,550.5 512.41,553.8 512.70,545.7 512.99,527.9 513.28,503.4 513.57,475.9 513.86,449.2 514.14,426.9 514.43,412.7 514.72,409.1 515.01,416.9 515.30,434.7 515.59,459.4 515.88,487.1 516.17,513.7 516.45,535.6 516.74,549.8 517.03,553.6 517.32,546.2 517.61,528.6 517.90,503.7 518.19,475.9 518.48,449.3 518.76,427.6 519.05,413.8 519.34,409.9 519.63,417.1 519.92,434.4 520.21,459.1 520.50,487.1 520.78,513.9 521.07,535.5 521.36,548.9 521.65,552.5 521.94,545.5 522.23,528.5 522.52,503.9 522.81,475.8 523.09,448.8 523.38,427.2 523.67,414.0 523.96,410.8 524.25,418.0 524.54,434.9 524.83,459.1 525.11,487.2 525.40,514.4 525.69,536.2 525.98,549.4 526.27,552.2 526.56,544.7 526.85,527.8 527.14,503.7 527.42,475.8 527.71,448.5 528.00,426.4 528.29,413.1 528.58,410.4 528.87,418.3 529.16,435.4 529.45,459.5 529.73,487.1 530.02,514.4 530.31,536.7 530.60,550.4" fill="none" stroke="#ff1010" stroke-linejoin="round"/>
<polyline id="wv" points="68.70,427.8 68.99,450.3 69.28,477.7 69.57,505.6 69.85,529.3 70.14,545.6 70.43,552.3 70.72,548.6 71.01,534.8 71.30,512.6 71.59,485.3 71.88,457.3 72.16,433.3 72.45,417.0 72.74,410.6 73.03,414.7 73.32,428.6 73.61,450.6 73.90,477.7 74.19,505.7 74.47,530.0 74.76,546.5 75.05,552.9 75.34,548.4 75.63,534.2 75.92,512.1 76.21,485.3 76.49,457.4 76.78,432.9 77.07,416.1 77.36,409.6 77.65,414.1 77.94,428.7 78.23,451.0 78.52,477.8 78.80,505.4 79.09,529.9 79.38,547.0 79.67,553.9 79.96,549.4 80.25,534.6 80.54,512.1 80.82,485.2 81.11,457.7 81.40,433.5 81.69,416.2 81.98,409.0 82.27,413.2 82.56,428.0 82.85,450.8 83.13,477.8 83.42,505.2 83.71,529.1 84.00,546.3 84.29,553.7 84.58,549.9 84.87,535.4 85.16,512.5 85.44,485.2 85.73,457.8 86.02,434.1 86.31,417.2 86.60,409.8 86.89,413.3 87.18,427.6 87.46,450.3 87.75,477.7 88.04,505.3 88.33,529.0 88.62,545.5 88.91,552.6 89.20,549.2 89.49,535.3 89.77,512.8 90.06,485.3 90.35,457.5 90.64,433.7 90.93,417.5 91.22,410.7 91.51,414.4 91.80,428.1 92.08,450.4 92.37,477.7 92.66,505.7 92.95,529.6 93.24,545.9 93.53,552.4 93.82,548.3 94.10,534.4 94.39,512.4 94.68,485.3 94.97,457.3 95.26,433.0 95.55,416.6 95.84,410.2 96.13,414.6 96.41,428.8 96.70,450.8 96.99,477.7 97.28,505.7 97.57,530.1 97.86,546.9 98.15,553.3 98.43,548.8 98.72,534.2 99.01,512.0 99.30,485.2 99.59,457.5 99.88,433.1 100.17,416.0 100.46,409.2 100.74,413.7 101.03,428.5 101.32,451.0 101.61,477.8 101.90,505.3 102.19,529.6 102.48,546.8 102.77,554.0 103.05,549.8 103.34,534.9 103.63,512.2 103.92,485.2 104.21,457.8 104.50,433.8 104.79,416.6 105.07,409.2 105.36,413.1 105.65,427.7 105.94,450.6 106.23,477.8 106.52,505.2 106.81,529.0 107.10,545.9 107.38,553.3 107.67,549.7 107.96,535.4 108.25,512.7 108.54,485.3 108.83,457.7 109.12,434.0 109.40,417.5 109.69,410.3 109.98,413.7 110.27,427.7 110.56,450.2 110.85,477.7 111.14,505.5 111.43,529.2 111.71,545.5 112.00,552.3 112.29,548.7 112.58,534.9 112.87,512.7 113.16,485.3 113.45,457.3 113.74,433.4 114.02,417.2 114.31,410.7 114.60,414.6 114.89,428.5 115.18,450.5 115.47,477.7 115.76,505.7 116.04,529.9 116.33,546.3 116.62,552.7 116.91,548.3 117.20,534.2 117.49,512.2 117.78,485.3 118.07,457.3 118.35,432.9 118.64,416.2 118.93,409.8 119.22,414.3 119.51,428.8 119.80,451.0 120.09,477.8 120.38,505.5 120.66,530.0 120.95,547.0 121.24,553.7 121.53,549.2 121.82,534.4 122.11,512.0 122.40,485.2 122.68,457.7 122.97,433.3 123.26,416.1 123.55,409.0 123.84,413.3 124.13,428.2 124.42,450.8 124.71,477.8 124.99,505.2 125.28,529.3 125.57,546.5 125.86,553.9 126.15,549.9 126.44,535.2 126.73,512.4 127.01,485.2 127.30,457.8 127.59,434.0 127.88,417.0 128.17,409.6 128.46,413.2 128.75,427.6 129.04,450.4 129.32,477.7 129.61,505.3 129.90,528.9 130.19,545.6 130.48,552.8 130.77,549.4 131.06,535.4 131.35,512.7 131.63,485.3 131.92,457.6 132.21,433.9 132.50,417.5 132.79,410.6 133.08,414.2 133.37,428.0 133.65,450.3 133.94,477.7 134.23,505.6 134.52,529.5 134.81,545.7 135.10,552.3 135.39,548.4 135.68,534.6 135.96,512.5 136.25,485.3 136.54,457.3 136.83,433.1 137.12,416.8 137.41,410.4 137.70,414.7 137.99,428.7 138.27,450.7 138.56,477.7 138.85,505.7 139.14,530.1 139.43,546.7 139.72,553.1 140.01,548.6 140.29,534.2 140.58,512.1 140.87,485.2 141.16,457.4 141.45,433.0 141.74,416.0 142.03,409.3 142.32,413.9 142.60,428.6 142.89,451.0 143.18,477.8 143.47,505.4 143.76,529.7 144.05,546.9 144.34,554.0 144.62,549.6 144.91,534.8 145.20,512.1 145.49,485.2 145.78,457.8 146.07,433.7 146.36,416.4 146.65,409.1 146.93,413.1 147.22,427.8 147.51,450.7 147.80,477.8 148.09,505.2 148.38,529.0 148.67,546.1 148.96,553.5 149.24,549.9 149.53,535.4 149.82,512.6 150.11,485.2 150.40,457.8 150.69,434.1 150.98,417.4 151.26,410.1 151.55,413.5 151.84,427.6 152.13,450.3 152.42,477.7 152.71,505.4 153.00,529.1 153.29,545.5 153.57,552.5 153.86,548.9 154.15,535.1 154.44,512.7 154.73,485.3 155.02,457.4 155.31,433.6 155.59,417.3 155.88,410.7 156.17,414.5 156.46,428.3 156.75,450.4 157.04,477.7 157.33,505.7 157.62,529.8 157.90,546.1 158.19,552.5 158.48,548.3 158.77,534.3 159.06,512.3 159.35,485.3 159.64,457.3 159.93,433.0 160.21,416.4 160.50,410.0 160.79,414.5 161.08,428.8 161.37,450.9 161.66,477.8 161.95,505.6 162.23,530.0 162.52,547.0 162.81,553.6 163.10,549.0 163.39,534.3 163.68,512.0 163.97,485.2 164.26,457.6 164.54,433.2 164.83,416.0 165.12,409.1 165.41,413.5 165.70,428.3 165.99,450.9 166.28,477.8 166.57,505.2 166.85,529.4 167.14,546.7 167.43,554.0 167.72,549.9 168.01,535.1 168.30,512.3 168.59,485.2 168.87,457.8 169.16,433.9 169.45,416.8 169.74,409.4 170.03,413.1 170.32,427.6 170.61,450.5 170.90,477.8 171.18,505.2 171.47,528.9 171.76,545.7 172.05,553.1 172.34,549.6 172.63,535.4 172.92,512.7 173.20,485.3 173.49,457.6 173.78,434.0 174.07,417.5 174.36,410.5 174.65,413.9 174.94,427.8 175.23,450.3 175.51,477.7 175.80,505.6 176.09,529.3 176.38,545.6 176.67,552.3 176.96,548.6 177.25,534.8 177.54,512.6 177.82,485.3 178.11,457.3 178.40,433.3 178.69,417.0 178.98,410.6 179.27,414.7 179.56,428.6 179.84,450.6 180.13,477.7 180.42,505.7 180.71,530.0 181.00,546.5 181.29,552.9 181.58,548.4 181.87,534.2 182.15,512.1 182.44,485.3 182.73,457.4 183.02,432.9 183.31,416.1 183.60,409.5 183.89,414.1 184.18,428.7 184.46,451.0 184.75,477.8 185.04,505.4 185.33,529.9 185.62,547.0 185.91,553.9 186.20,549.4 186.48,534.6 186.77,512.1 187.06,485.2 187.35,457.7 187.64,433.5 187.93,416.3 188.22,409.0 188.51,413.2 188.79,428.0 189.08,450.7 189.37,477.8 189.66,505.2 189.95,529.1 190.24,546.3 190.53,553.7 190.81,549.9 191.10,535.4 191.39,512.5 191.68,485.2 191.97,457.8 192.26,434.1 192.55,417.2 192.84,409.8 193.12,413.3 193.41,427.6 193.70,450.3 193.99,477.7 194.28,505.3 194.57,529.0 194.86,545.5 195.15,552.6 195.43,549.2 195.72,535.2 196.01,512.8 196.30,485.3 196.59,457.5 196.88,433.7 197.17,417.4 197.45,410.7 197.74,414.4 198.03,428.1 198.32,450.4 198.61,477.7 198.90,505.7 199.19,529.7 199.48,545.9 199.76,552.4 200.05,548.3 200.34,534.4 200.63,512.4 200.92,485.3 201.21,457.3 201.50,433.0 201.78,416.6 202.07,410.2 202.36,414.6 202.65,428.8 202.94,450.8 203.23,477.7 203.52,505.7 203.81,530.1 204.09,546.9 204.38,553.3 204.67,548.8 204.96,534.2 205.25,512.0 205.54,485.2 205.83,457.5 206.12,433.1 206.40,416.0 206.69,409.2 206.98,413.7 207.27,428.5 207.56,451.0 207.85,477.8 208.14,505.3 208.42,529.6 208.71,546.8 209.00,554.0 209.29,549.8 209.58,534.9 209.87,512.2 210.16,485.2 210.45,457.8 210.73,433.8 211.02,416.6 211.31,409.2 211.60,413.1 211.89,427.7 212.18,450.5 212.47,477.8 212.76,505.2 213.04,529.0 213.33,545.9 213.62,553.3 213.91,549.7 214.20,535.4 214.49,512.7 214.78,485.3 215.06,457.7 215.35,434.0 215.64,417.5 215.93,410.3 216.22,413.7 216.51,427.7 216.80,450.2 217.09,477.7 217.37,505.5 217.66,529.2 217.95,545.5 218.24,552.3 218.53,548.7 218.82,534.9 219.11,512.7 219.39,485.3 219.68,457.3 219.97,433.4 220.26,417.2 220.55,410.7 220.84,414.6 221.13,428.5 221.42,450.5 221.70,477.7 221.99,505.7 222.28,529.9 222.57,546.3 222.86,552.7 223.15,548.3 223.44,534.2 223.73,512.2 224.01,485.3 224.30,457.3 224.59,432.9 224.88,416.2 225.17,409.8 225.46,414.3 225.75,428.8 226.03,451.0 226.32,477.8 226.61,505.5 226.90,530.0 227.19,547.0 227.48,553.7 227.77,549.2 228.06,534.4 228.34,512.0 228.63,485.2 228.92,457.7 229.21,433.3 229.50,416.1 229.79,409.0 230.08,413.3 230.37,428.1 230.65,450.8 230.94,477.8 231.23,505.2 231.52,529.3 231.81,546.5 232.10,553.9 232.39,549.9 232.67,535.2 232.96,512.4 233.25,485.2 233.54,457.8 233.83,434.0 234.12,417.1 234.41,409.6 234.70,413.2 234.98,427.6 235.27,450.4 235.56,477.7 235.85,505.3 236.14,528.9 236.43,545.6 236.72,552.8 237.00,549.4 237.29,535.4 237.58,512.7 237.87,485.3 238.16,457.5 238.45,433.9 238.74,417.5 239.03,410.6 239.31,414.2 239.60,428.0 239.89,450.3 240.18,477.7 240.47,505.6 240.76,529.5 241.05,545.7 241.34,552.3 241.62,548.4 241.91,534.6 242.20,512.5 242.49,485.3 242.78,457.3 243.07,433.1 243.36,416.8 243.64,410.4 243.93,414.7 244.22,428.7 244.51,450.7 244.80,477.7 245.09,505.7 245.38,530.1 245.67,546.7 245.95,553.1 246.24,548.6 246.53,534.2 246.82,512.1 247.11,485.2 247.40,457.4 247.69,433.0 247.97,416.0 248.26,409.3 248.55,413.9 248.84,428.6 249.13,451.0 249.42,477.8 249.71,505.4 250.00,529.7 250.28,546.9 250.57,554.0 250.86,549.6 251.15,534.8 251.44,512.1 251.73,485.2 252.02,457.8 252.31,433.7 252.59,416.4 252.88,409.1 253.17,413.1 253.46,427.8 253.75,450.6 254.04,477.8 254.33,505.2 254.61,529.0 254.90,546.0 255.19,553.5 255.48,549.9 255.77,535.4 256.06,512.6 256.35,485.2 256.64,457.8 256.92,434.1 257.21,417.4 257.50,410.1 257.79,413.5 258.08,427.6 258.37,450.3 258.66,477.7 258.95,505.4 259.23,529.1 259.52,545.5 259.81,552.4 260.10,548.9 260.39,535.1 260.68,512.7 260.97,485.3 261.25,457.4 261.54,433.6 261.83,417.3 262.12,410.7 262.41,414.5 262.70,428.3 262.99,450.4 263.28,477.7 263.56,505.7 263.85,529.8 264.14,546.1 264.43,552.5 264.72,548.3 265.01,534.3 265.30,512.3 265.58,485.3 265.87,457.3 266.16,433.0 266.45,416.4 266.74,410.0 267.03,414.5 267.32,428.8 267.61,450.9 267.89,477.8 268.18,505.6 268.47,530.0 268.76,547.0 269.05,553.6 269.34,549.0 269.63,534.3 269.92,512.0 270.20,485.2 270.49,457.6 270.78,433.2 271.07,416.0 271.36,409.1 271.65,413.5 271.94,428.3 272.22,450.9 272.51,477.8 272.80,505.2 273.09,529.4 273.38,546.7 273.67,554.0 273.96,549.9 274.25,535.1 274.53,512.3 274.82,485.2 275.11,457.8 275.40,433.9 275.69,416.9 275.98,409.4 276.27,413.1 276.56,427.6 276.84,450.4 277.13,477.8 277.42,505.2 277.71,528.9 278.00,545.7 278.29,553.0 278.58,549.6 278.86,535.4 279.15,512.7 279.44,485.3 279.73,457.6 280.02,434.0 280.31,417.5 280.60,410.5 280.89,414.0 281.17,427.8 281.46,450.3 281.75,477.7 282.04,505.6 282.33,529.3 282.62,545.6 282.91,552.3 283.19,548.6 283.48,534.8 283.77,512.6 284.06,485.3 284.35,457.3 284.64,433.3 284.93,417.0 285.22,410.6 285.50,414.7 285.79,428.6 286.08,450.6 286.37,477.7 286.66,505.7 286.95,530.0 287.24,546.6 287.53,552.9 287.81,548.4 288.10,534.2 288.39,512.1 288.68,485.3 288.97,457.4 289.26,432.9 289.55,416.1 289.83,409.5 290.12,414.1 290.41,428.7 290.70,451.0 290.99,477.8 291.28,505.4 291.57,529.9 291.86,547.0 292.14,553.9 292.43,549.4 292.72,534.6 293.01,512.1 293.30,485.2 293.59,457.7 293.88,433.5 294.16,416.3 294.45,409.0 294.74,413.2 295.03,428.0 295.32,450.7 295.61,477.8 295.90,505.2 296.19,529.1 296.47,546.3 296.76,553.7 297.05,549.9 297.34,535.4 297.63,512.5 297.92,485.2 298.21,457.8 298.50,434.1 298.78,417.2 299.07,409.8 299.36,413.3 299.65,427.6 299.94,450.3 300.23,477.7 300.52,505.3 300.80,529.0 301.09,545.5 301.38,552.6 301.67,549.2 301.96,535.2 302.25,512.8 302.54,485.3 302.83,457.5 303.11,433.7 303.40,417.4 303.69,410.7 303.98,414.4 304.27,428.2 304.56,450.4 304.85,477.7 305.14,505.7 305.42,529.7 305.71,545.9 306.00,552.4 306.29,548.3 306.58,534.4 306.87,512.4 307.16,485.3 307.44,457.3 307.73,433.0 308.02,416.5 308.31,410.2 308.60,414.6 308.89,428.8 309.18,450.8 309.47,477.7 309.75,505.7 310.04,530.1 310.33,546.9 310.62,553.3 310.91,548.8 311.20,534.2 311.49,512.0 311.77,485.2 312.06,457.5 312.35,433.1 312.64,416.0 312.93,409.2 313.22,413.7 313.51,428.5 313.80,451.0 314.08,477.8 314.37,505.3 314.66,529.6 314.95,546.8 315.24,554.0 315.53,549.8 315.82,534.9 316.11,512.2 316.39,485.2 316.68,457.8 316.97,433.8 317.26,416.6 317.55,409.2 317.84,413.1 318.13,427.7 318.41,450.5 318.70,477.8 318.99,505.2 319.28,529.0 319.57,545.8 319.86,553.3 320.15,549.7 320.44,535.4 320.72,512.7 321.01,485.3 321.30,457.7 321.59,434.0 321.88,417.5 322.17,410.3 322.46,413.7 322.75,427.7 323.03,450.2 323.32,477.7 323.61,505.5 323.90,529.2 324.19,545.5 324.48,552.3 324.77,548.7 325.05,534.9 325.34,512.7 325.63,485.3 325.92,457.3 326.21,433.4 326.50,417.2 326.79,410.7 327.08,414.6 327.36,428.5 327.65,450.5 327.94,477.7 328.23,505.7 328.52,529.9 328.81,546.3 329.10,552.7 329.38,548.3 329.67,534.2 329.96,512.2 330.25,485.3 330.54,457.3 330.83,432.9 331.12,416.2 331.41,409.8 331.69,414.3 331.98,428.8 332.27,451.0 332.56,477.8 332.85,505.5 333.14,530.0 333.43,547.0 333.72,553.8 334.00,549.2 334.29,534.4 334.58,512.0 334.87,485.2 335.16,457.7 335.45,433.4 335.74,416.1 336.02,409.0 336.31,413.3 336.60,428.1 336.89,450.8 337.18,477.8 337.47,505.2 337.76,529.3 338.05,546.5 338.33,553.9 338.62,549.9 338.91,535.3 339.20,512.4 339.49,485.2 339.78,457.8 340.07,434.0 340.35,417.1 340.64,409.6 340.93,413.2 341.22,427.6 341.51,450.4 341.80,477.7 342.09,505.3 342.38,528.9 342.66,545.6 342.95,552.8 343.24,549.4 343.53,535.4 343.82,512.8 344.11,485.3 344.40,457.5 344.69,433.9 344.97,417.5 345.26,410.6 345.55,414.2 345.84,428.0 346.13,450.3 346.42,477.7 346.71,505.6 346.99,529.5 347.28,545.8 347.57,552.3 347.86,548.4 348.15,534.6 348.44,512.5 348.73,485.3 349.02,457.3 349.30,433.1 349.59,416.8 349.88,410.4 350.17,414.7 350.46,428.7 350.75,450.7 351.04,477.7 351.33,505.7 351.61,530.1 351.90,546.7 352.19,553.1 352.48,548.6 352.77,534.2 353.06,512.1 353.35,485.2 353.63,457.4 353.92,433.0 354.21,416.0 354.50,409.3 354.79,413.9 355.08,428.6 355.37,451.0 355.66,477.8 355.94,505.4 356.23,529.7 356.52,546.9 356.81,554.0 357.10,549.6 357.39,534.8 357.68,512.1 357.96,485.2 358.25,457.8 358.54,433.7 358.83,416.4 359.12,409.1 359.41,413.1 359.70,427.8 359.99,450.6 360.27,477.8 360.56,505.2 360.85,529.0 361.14,546.0 361.43,553.5 361.72,549.9 362.01,535.4 362.30,512.6 362.58,485.3 362.87,457.8 363.16,434.1 363.45,417.4 363.74,410.1 364.03,413.5 364.32,427.6 364.60,450.3 364.89,477.7 365.18,505.4 365.47,529.1 365.76,545.5 366.05,552.4 366.34,548.9 366.63,535.1 366.91,512.7 367.20,485.3 367.49,457.4 367.78,433.6 368.07,417.3 368.36,410.7 368.65,414.5 368.94,428.3 369.22,450.4 369.51,477.7 369.80,505.7 370.09,529.8 370.38,546.1 370.67,552.5 370.96,548.3 371.24,534.3 371.53,512.3 371.82,485.3 372.11,457.3 372.40,433.0 372.69,416.3 372.98,410.0 373.27,414.5 373.55,428.8 373.84,450.9 374.13,477.8 374.42,505.6 374.71,530.0 375.00,547.0 375.29,553.6 375.57,549.0 375.86,534.3 376.15,512.0 376.44,485.2 376.73,457.6 377.02,433.2 377.31,416.0 377.60,409.1 377.88,413.5 378.17,428.3 378.46,450.9 378.75,477.8 379.04,505.2 379.33,529.4 379.62,546.7 379.91,554.0 380.19,549.9 380.48,535.1 380.77,512.3 381.06,485.2 381.35,457.8 381.64,433.9 381.93,416.9 382.21,409.4 382.50,413.1 382.79,427.6 383.08,450.4 383.37,477.8 383.66,505.2 383.95,528.9 384.24,545.7 384.52,553.0 384.81,549.6 385.10,535.4 385.39,512.7 385.68,485.3 385.97,457.6 386.26,434.0 386.54,417.5 386.83,410.5 387.12,414.0 387.41,427.8 387.70,450.3 387.99,477.7 388.28,505.6 388.57,529.4 388.85,545.6 389.14,552.3 389.43,548.5 389.72,534.8 390.01,512.6 390.30,485.3 390.59,457.3 390.88,433.3 391.16,417.0 391.45,410.6 391.74,414.7 392.03,428.6 392.32,450.6 392.61,477.7 392.90,505.7 393.18,530.0 393.47,546.6 393.76,552.9 394.05,548.4 394.34,534.2 394.63,512.1 394.92,485.3 395.21,457.4 395.49,432.9 395.78,416.1 396.07,409.5 396.36,414.1 396.65,428.7 396.94,451.0 397.23,477.8 397.52,505.4 397.80,529.9 398.09,547.0 398.38,553.9 398.67,549.4 398.96,534.6 399.25,512.1 399.54,485.2 399.82,457.7 400.11,433.5 400.40,416.3 400.69,409.0 400.98,413.2 401.27,428.0 401.56,450.7 401.85,477.8 402.13,505.2 402.42,529.1 402.71,546.2 403.00,553.7 403.29,549.9 403.58,535.4 403.87,512.5 404.15,485.2 404.44,457.8 404.73,434.1 405.02,417.2 405.31,409.9 405.60,413.3 405.89,427.6 406.18,450.3 406.46,477.7 406.75,505.3 407.04,529.0 407.33,545.5 407.62,552.6 407.91,549.1 408.20,535.2 408.49,512.8 408.77,485.3 409.06,457.5 409.35,433.7 409.64,417.4 409.93,410.7 410.22,414.4 410.51,428.2 410.79,450.4 411.08,477.7 411.37,505.7 411.66,529.7 411.95,545.9 412.24,552.4 412.53,548.3 412.82,534.4 413.10,512.4 413.39,485.3 413.68,457.3 413.97,433.0 414.26,416.5 414.55,410.2 414.84,414.6 415.12,428.8 415.41,450.8 415.70,477.7 415.99,505.6 416.28,530.1 416.57,546.9 416.86,553.4 417.15,548.8 417.43,534.2 417.72,512.0 418.01,485.2 418.30,457.5 418.59,433.1 418.88,416.0 419.17,409.2 419.46,413.7 419.74,428.5 420.03,451.0 420.32,477.8 420.61,505.3 420.90,529.6 421.19,546.8 421.48,554.0 421.76,549.8 422.05,535.0 422.34,512.2 422.63,485.2 422.92,457.8 423.21,433.8 423.50,416.6 423.79,409.2 424.07,413.1 424.36,427.7 424.65,450.5 424.94,477.8 425.23,505.2 425.52,529.0 425.81,545.8 426.10,553.3 426.38,549.7 426.67,535.4 426.96,512.7 427.25,485.3 427.54,457.7 427.83,434.0 428.12,417.5 428.40,410.3 428.69,413.7 428.98,427.7 429.27,450.2 429.56,477.7 429.85,505.5 430.14,529.2 430.43,545.5 430.71,552.3 431.00,548.7 431.29,534.9 431.58,512.7 431.87,485.3 432.16,457.3 432.45,433.4 432.73,417.2 433.02,410.7 433.31,414.6 433.60,428.5 433.89,450.5 434.18,477.7 434.47,505.7 434.76,529.9 435.04,546.4 435.33,552.7 435.62,548.3 435.91,534.2 436.20,512.2 436.49,485.3 436.78,457.3 437.07,432.9 437.35,416.2 437.64,409.8 437.93,414.3 438.22,428.8 438.51,451.0 438.80,477.8 439.09,505.5 439.37,530.0 439.66,547.0 439.95,553.8 440.24,549.2 440.53,534.5 440.82,512.0 441.11,485.2 441.40,457.7 441.68,433.4 441.97,416.1 442.26,409.0 442.55,413.3 442.84,428.1 443.13,450.8 443.42,477.8 443.71,505.2 443.99,529.3 444.28,546.5 444.57,553.8 444.86,549.9 445.15,535.3 445.44,512.4 445.73,485.2 446.01,457.8 446.30,434.0 446.59,417.1 446.88,409.6 447.17,413.2 447.46,427.6 447.75,450.4 448.04,477.7 448.32,505.3 448.61,528.9 448.90,545.6 449.19,552.8 449.48,549.4 449.77,535.3 450.06,512.8 450.34,485.3 450.63,457.5 450.92,433.9 451.21,417.5 451.50,410.6 451.79,414.2 452.08,428.0 452.37,450.3 452.65,477.7 452.94,505.6 453.23,529.5 453.52,545.8 453.81,552.3 454.10,548.4 454.39,534.6 454.68,512.5 454.96,485.3 455.25,457.3 455.54,433.1 455.83,416.7 456.12,410.4 456.41,414.7 456.70,428.7 456.98,450.7 457.27,477.7 457.56,505.7 457.85,530.1 458.14,546.7 458.43,553.1 458.72,548.6 459.01,534.2 459.29,512.1 459.58,485.2 459.87,457.5 460.16,433.0 460.45,416.0 460.74,409.3 461.03,413.9 461.31,428.6 461.60,451.0 461.89,477.8 462.18,505.4 462.47,529.7 462.76,546.9 463.05,554.0 463.34,549.6 463.62,534.8 463.91,512.1 464.20,485.2 464.49,457.8 464.78,433.7 465.07,416.4 465.36,409.1 465.65,413.1 465.93,427.8 466.22,450.6 466.51,477.8 466.80,505.2 467.09,529.0 467.38,546.0 467.67,553.5 467.95,549.9 468.24,535.4 468.53,512.6 468.82,485.3 469.11,457.8 469.40,434.1 469.69,417.4 469.98,410.1 470.26,413.5 470.55,427.6 470.84,450.3 471.13,477.7 471.42,505.4 471.71,529.1 472.00,545.5 472.29,552.4 472.57,548.9 472.86,535.1 473.15,512.7 473.44,485.3 473.73,457.4 474.02,433.6 474.31,417.3 474.59,410.7 474.88,414.5 475.17,428.3 475.46,450.4 475.75,477.7 476.04,505.7 476.33,529.8 476.62,546.1 476.90,552.5 477.19,548.3 477.48,534.3 477.77,512.3 478.06,485.3 478.35,457.3 478.64,433.0 478.92,416.3 479.21,410.0 479.50,414.5 479.79,428.8 480.08,450.9 480.37,477.8 480.66,505.6 480.95,530.0 481.23,547.0 481.52,553.6 481.81,549.0 482.10,534.3 482.39,512.0 482.68,485.2 482.97,457.6 483.26,433.2 483.54,416.0 483.83,409.1 484.12,413.5 484.41,428.3 484.70,450.9 484.99,477.8 485.28,505.2 485.56,529.4 485.85,546.6 486.14,553.9 486.43,549.9 486.72,535.1 487.01,512.3 487.30,485.2 487.59,457.8 487.87,433.9 488.16,416.9 488.45,409.4 488.74,413.1 489.03,427.6 489.32,450.4 489.61,477.8 489.90,505.2 490.18,528.9 490.47,545.7 490.76,553.0 491.05,549.6 491.34,535.4 491.63,512.7 491.92,485.3 492.20,457.6 492.49,434.0 492.78,417.5 493.07,410.5 493.36,414.0 493.65,427.8 493.94,450.3 494.23,477.7 494.51,505.6 494.80,529.4 495.09,545.6 495.38,552.3 495.67,548.5 495.96,534.7 496.25,512.6 496.53,485.3 496.82,457.3 497.11,433.3 497.40,417.0 497.69,410.6 497.98,414.7 498.27,428.6 498.56,450.6 498.84,477.7 499.13,505.7 499.42,530.0 499.71,546.6 500.00,552.9 500.29,548.4 500.58,534.2 500.87,512.1 501.15,485.3 501.44,457.4 501.73,432.9 502.02,416.1 502.31,409.5 502.60,414.1 502.89,428.7 503.17,451.0 503.46,477.8 503.75,505.4 504.04,529.9 504.33,547.0 504.62,553.9 504.91,549.4 505.20,534.6 505.48,512.1 505.77,485.2 506.06,457.7 506.35,433.5 506.64,416.3 506.93,409.0 507.22,413.2 507.50,428.0 507.79,450.7 508.08,477.8 508.37,505.2 508.66,529.1 508.95,546.2 509.24,553.7 509.53,549.9 509.81,535.4 510.10,512.5 510.39,485.2 510.68,457.8 510.97,434.1 511.26,417.3 511.55,409.9 511.84,413.4 512.12,427.6 512.41,450.3 512.70,477.7 512.99,505.3 513.28,529.0 513.57,545.5 513.86,552.6 514.14,549.1 514.43,535.2 514.72,512.7 515.01,485.3 515.30,457.5 515.59,433.7 515.88,417.4 516.17,410.7 516.45,414.4 516.74,428.2 517.03,450.4 517.32,477.7 517.61,505.7 517.90,529.7 518.19,545.9 518.48,552.4 518.76,548.3 519.05,534.4 519.34,512.4 519.63,485.3 519.92,457.3 520.21,433.0 520.50,416.5 520.78,410.2 521.07,414.6 521.36,428.8 521.65,450.8 521.94,477.7 522.23,505.6 522.52,530.1 522.81,546.9 523.09,553.4 523.38,548.8 523.67,534.2 523.96,512.0 524.25,485.2 524.54,457.5 524.83,433.1 525.11,416.0 525.40,409.2 525.69,413.7 525.98,428.5 526.27,451.0 526.56,477.8 526.85,505.3 527.14,529.6 527.42,546.8 527.71,554.0 528.00,549.8 528.29,535.0 528.58,512.2 528.87,485.2 529.16,457.8 529.45,433.8 529.73,416.7 530.02,409.2 530.31,413.1 530.60,427.7" fill="none" stroke="#1414ff" stroke-linejoin="round"/>
<polyline id="ww" points="68.70,466.5 68.99,440.4 69.28,420.7 69.57,410.6 69.85,411.6 70.14,423.0 70.43,442.9 70.72,468.5 71.01,496.4 71.30,522.4 71.59,542.4 71.88,552.8 72.16,552.0 72.45,540.4 72.74,520.2 73.03,494.4 73.32,466.7 73.61,440.9 73.90,420.9 74.19,410.1 74.47,410.6 74.76,422.1 75.05,442.6 75.34,468.6 75.63,496.2 75.92,521.8 76.21,541.6 76.49,552.6 76.78,552.5 77.07,541.2 77.36,520.7 77.65,494.5 77.94,466.7 78.23,441.3 78.52,421.8 78.80,411.0 79.09,410.8 79.38,421.7 79.67,442.0 79.96,468.4 80.25,496.4 80.54,521.7 80.82,541.0 81.11,551.5 81.40,551.7 81.69,541.1 81.98,521.0 82.27,494.7 82.56,466.5 82.85,441.0 83.13,422.0 83.42,411.8 83.71,411.9 84.00,422.4 84.29,442.1 84.58,468.3 84.87,496.6 85.16,522.3 85.44,541.4 85.73,551.3 86.02,550.8 86.31,540.2 86.60,520.6 86.89,494.7 87.18,466.4 87.46,440.5 87.75,421.1 88.04,411.3 88.33,412.1 88.62,423.1 88.91,442.7 89.20,468.4 89.49,496.5 89.77,522.6 90.06,542.3 90.35,552.3 90.64,551.3 90.93,540.0 91.22,520.1 91.51,494.5 91.80,466.6 92.08,440.5 92.37,420.6 92.66,410.3 92.95,411.1 93.24,422.7 93.53,442.9 93.82,468.6 94.10,496.3 94.39,522.2 94.68,542.2 94.97,552.9 95.26,552.4 95.55,540.8 95.84,520.4 96.13,494.4 96.41,466.8 96.70,441.1 96.99,421.3 97.28,410.4 97.57,410.5 97.86,421.8 98.15,442.3 98.43,468.5 98.72,496.2 99.01,521.7 99.30,541.3 99.59,552.1 99.88,552.3 100.17,541.3 100.46,520.9 100.74,494.6 101.03,466.7 101.32,441.3 101.61,422.0 101.90,411.4 102.19,411.2 102.48,421.8 102.77,442.0 103.05,468.3 103.34,496.4 103.63,521.9 103.92,541.0 104.21,551.2 104.50,551.2 104.79,540.7 105.07,520.9 105.36,494.7 105.65,466.4 105.94,440.8 106.23,421.7 106.52,411.8 106.81,412.1 107.10,422.7 107.38,442.3 107.67,468.3 107.96,496.6 108.25,522.5 108.54,541.8 108.83,551.6 109.12,550.9 109.40,540.0 109.69,520.3 109.98,494.6 110.27,466.4 110.56,440.4 110.85,420.8 111.14,410.8 111.43,411.8 111.71,423.1 112.00,442.9 112.29,468.5 112.58,496.5 112.87,522.5 113.16,542.4 113.45,552.7 113.74,551.8 114.02,540.2 114.31,520.1 114.60,494.4 114.89,466.7 115.18,440.8 115.47,420.8 115.76,410.1 116.04,410.7 116.33,422.3 116.62,442.7 116.91,468.6 117.20,496.3 117.49,521.9 117.78,541.8 118.07,552.7 118.35,552.5 118.64,541.1 118.93,520.6 119.22,494.5 119.51,466.8 119.80,441.3 120.09,421.6 120.38,410.7 120.66,410.6 120.95,421.7 121.24,442.1 121.53,468.4 121.82,496.3 122.11,521.7 122.40,541.0 122.68,551.7 122.97,551.9 123.26,541.2 123.55,521.0 123.84,494.7 124.13,466.6 124.42,441.2 124.71,422.0 124.99,411.7 125.28,411.7 125.57,422.2 125.86,442.0 126.15,468.3 126.44,496.5 126.73,522.2 127.01,541.2 127.30,551.2 127.59,550.9 127.88,540.4 128.17,520.7 128.46,494.7 128.75,466.4 129.04,440.5 129.32,421.3 129.61,411.5 129.90,412.2 130.19,423.0 130.48,442.6 130.77,468.4 131.06,496.6 131.35,522.6 131.63,542.1 131.92,552.0 132.21,551.1 132.50,539.9 132.79,520.2 133.08,494.5 133.37,466.5 133.65,440.4 133.94,420.6 134.23,410.4 134.52,411.3 134.81,422.8 135.10,442.9 135.39,468.6 135.68,496.4 135.96,522.3 136.25,542.3 136.54,552.9 136.83,552.2 137.12,540.6 137.41,520.3 137.70,494.4 137.99,466.7 138.27,441.0 138.56,421.1 138.85,410.2 139.14,410.5 139.43,421.9 139.72,442.4 140.01,468.5 140.29,496.2 140.58,521.7 140.87,541.4 141.16,552.4 141.45,552.4 141.74,541.3 142.03,520.9 142.32,494.6 142.60,466.7 142.89,441.4 143.18,421.9 143.47,411.2 143.76,411.0 144.05,421.7 144.34,442.0 144.62,468.3 144.91,496.4 145.20,521.8 145.49,540.9 145.78,551.3 146.07,551.4 146.36,540.9 146.65,521.0 146.93,494.7 147.22,466.5 147.51,440.9 147.80,421.9 148.09,411.8 148.38,412.0 148.67,422.6 148.96,442.2 149.24,468.3 149.53,496.6 149.82,522.4 150.11,541.6 150.40,551.4 150.69,550.8 150.98,540.0 151.26,520.5 151.55,494.6 151.84,466.4 152.13,440.4 152.42,420.9 152.71,411.1 153.00,411.9 153.29,423.1 153.57,442.8 153.86,468.5 154.15,496.5 154.44,522.6 154.73,542.3 155.02,552.5 155.31,551.5 155.59,540.1 155.88,520.1 156.17,494.4 156.46,466.6 156.75,440.6 157.04,420.7 157.33,410.2 157.62,410.9 157.90,422.5 158.19,442.8 158.48,468.6 158.77,496.3 159.06,522.0 159.35,542.0 159.64,552.8 159.93,552.5 160.21,541.0 160.50,520.5 160.79,494.5 161.08,466.8 161.37,441.2 161.66,421.5 161.95,410.5 162.23,410.5 162.52,421.7 162.81,442.2 163.10,468.5 163.39,496.3 163.68,521.6 163.97,541.1 164.26,551.9 164.54,552.1 164.83,541.3 165.12,521.0 165.41,494.6 165.70,466.6 165.99,441.3 166.28,422.1 166.57,411.6 166.85,411.4 167.14,422.0 167.43,442.0 167.72,468.3 168.01,496.5 168.30,522.0 168.59,541.1 168.87,551.2 169.16,551.1 169.45,540.5 169.74,520.8 170.03,494.7 170.32,466.4 170.61,440.7 170.90,421.5 171.18,411.7 171.47,412.2 171.76,422.9 172.05,442.5 172.34,468.3 172.63,496.6 172.92,522.6 173.20,542.0 173.49,551.8 173.78,551.0 174.07,539.9 174.36,520.2 174.65,494.6 174.94,466.5 175.23,440.4 175.51,420.7 175.80,410.6 176.09,411.6 176.38,423.0 176.67,442.9 176.96,468.5 177.25,496.4 177.54,522.4 177.82,542.4 178.11,552.8 178.40,552.0 178.69,540.4 178.98,520.2 179.27,494.4 179.56,466.7 179.84,440.9 180.13,420.9 180.42,410.1 180.71,410.6 181.00,422.1 181.29,442.6 181.58,468.6 181.87,496.2 182.15,521.8 182.44,541.6 182.73,552.6 183.02,552.5 183.31,541.2 183.60,520.7 183.89,494.5 184.18,466.7 184.46,441.3 184.75,421.8 185.04,411.0 185.33,410.8 185.62,421.7 185.91,442.0 186.20,468.4 186.48,496.4 186.77,521.7 187.06,541.0 187.35,551.5 187.64,551.7 187.93,541.1 188.22,521.0 188.51,494.7 188.79,466.5 189.08,441.0 189.37,422.0 189.66,411.8 189.95,411.9 190.24,422.4 190.53,442.1 190.81,468.3 191.10,496.6 191.39,522.3 191.68,541.4 191.97,551.3 192.26,550.8 192.55,540.2 192.84,520.6 193.12,494.7 193.41,466.4 193.70,440.5 193.99,421.1 194.28,411.3 194.57,412.1 194.86,423.1 195.15,442.7 195.43,468.4 195.72,496.5 196.01,522.6 196.30,542.3 196.59,552.3 196.88,551.3 197.17,540.0 197.45,520.1 197.74,494.5 198.03,466.6 198.32,440.5 198.61,420.6 198.90,410.3 199.19,411.1 199.48,422.7 199.76,442.9 200.05,468.6 200.34,496.3 200.63,522.2 200.92,542.2 201.21,552.9 201.50,552.4 201.78,540.8 202.07,520.4 202.36,494.4 202.65,466.8 202.94,441.1 203.23,421.3 203.52,410.4 203.81,410.5 204.09,421.8 204.38,442.3 204.67,468.5 204.96,496.3 205.25,521.7 205.54,541.3 205.83,552.1 206.12,552.3 206.40,541.3 206.69,520.9 206.98,494.6 207.27,466.7 207.56,441.3 207.85,422.0 208.14,411.4 208.42,411.2 208.71,421.9 209.00,442.0 209.29,468.3 209.58,496.5 209.87,521.9 210.16,541.0 210.45,551.2 210.73,551.2 211.02,540.7 211.31,520.9 211.60,494.7 211.89,466.4 212.18,440.8 212.47,421.7 212.76,411.8 213.04,412.1 213.33,422.7 213.62,442.4 213.91,468.3 214.20,496.6 214.49,522.5 214.78,541.8 215.06,551.6 215.35,550.9 215.64,540.0 215.93,520.3 216.22,494.6 216.51,466.4 216.80,440.4 217.09,420.8 217.37,410.8 217.66,411.8 217.95,423.1 218.24,442.9 218.53,468.5 218.82,496.5 219.11,522.5 219.39,542.4 219.68,552.7 219.97,551.8 220.26,540.2 220.55,520.1 220.84,494.4 221.13,466.7 221.42,440.8 221.70,420.8 221.99,410.1 222.28,410.7 222.57,422.3 222.86,442.7 223.15,468.6 223.44,496.3 223.73,521.9 224.01,541.8 224.30,552.7 224.59,552.5 224.88,541.1 225.17,520.6 225.46,494.5 225.75,466.8 226.03,441.3 226.32,421.6 226.61,410.8 226.90,410.6 227.19,421.7 227.48,442.1 227.77,468.4 228.06,496.3 228.34,521.7 228.63,541.0 228.92,551.7 229.21,551.9 229.50,541.2 229.79,521.0 230.08,494.7 230.37,466.6 230.65,441.2 230.94,422.0 231.23,411.7 231.52,411.7 231.81,422.2 232.10,442.0 232.39,468.3 232.67,496.5 232.96,522.2 233.25,541.2 233.54,551.2 233.83,550.9 234.12,540.3 234.41,520.7 234.70,494.7 234.98,466.4 235.27,440.5 235.56,421.3 235.85,411.5 236.14,412.2 236.43,423.0 236.72,442.6 237.00,468.4 237.29,496.6 237.58,522.6 237.87,542.1 238.16,552.1 238.45,551.1 238.74,539.9 239.03,520.2 239.31,494.5 239.60,466.5 239.89,440.4 240.18,420.6 240.47,410.4 240.76,411.3 241.05,422.8 241.34,442.9 241.62,468.6 241.91,496.4 242.20,522.3 242.49,542.3 242.78,552.9 243.07,552.2 243.36,540.6 243.64,520.3 243.93,494.4 244.22,466.7 244.51,441.0 244.80,421.1 245.09,410.2 245.38,410.5 245.67,421.9 245.95,442.4 246.24,468.5 246.53,496.2 246.82,521.7 247.11,541.4 247.40,552.4 247.69,552.4 247.97,541.3 248.26,520.9 248.55,494.6 248.84,466.7 249.13,441.4 249.42,421.9 249.71,411.2 250.00,411.0 250.28,421.7 250.57,442.0 250.86,468.3 251.15,496.4 251.44,521.8 251.73,540.9 252.02,551.3 252.31,551.4 252.59,540.9 252.88,521.0 253.17,494.7 253.46,466.5 253.75,440.9 254.04,421.8 254.33,411.8 254.61,412.0 254.90,422.6 255.19,442.2 255.48,468.3 255.77,496.6 256.06,522.4 256.35,541.6 256.64,551.4 256.92,550.8 257.21,540.0 257.50,520.5 257.79,494.6 258.08,466.4 258.37,440.4 258.66,420.9 258.95,411.1 259.23,411.9 259.52,423.1 259.81,442.8 260.10,468.5 260.39,496.5 260.68,522.6 260.97,542.4 261.25,552.5 261.54,551.6 261.83,540.1 262.12,520.1 262.41,494.4 262.70,466.6 262.99,440.6 263.28,420.7 263.56,410.2 263.85,410.9 264.14,422.5 264.43,442.8 264.72,468.6 265.01,496.3 265.30,522.0 265.58,542.0 265.87,552.8 266.16,552.5 266.45,541.0 266.74,520.5 267.03,494.5 267.32,466.8 267.61,441.2 267.89,421.5 268.18,410.5 268.47,410.5 268.76,421.7 269.05,442.2 269.34,468.5 269.63,496.3 269.92,521.6 270.20,541.1 270.49,551.9 270.78,552.1 271.07,541.3 271.36,521.0 271.65,494.6 271.94,466.6 272.22,441.2 272.51,422.1 272.80,411.6 273.09,411.5 273.38,422.0 273.67,442.0 273.96,468.3 274.25,496.5 274.53,522.0 274.82,541.1 275.11,551.2 275.40,551.0 275.69,540.5 275.98,520.8 276.27,494.7 276.56,466.4 276.84,440.6 277.13,421.5 277.42,411.6 277.71,412.2 278.00,422.9 278.29,442.5 278.58,468.3 278.86,496.6 279.15,522.6 279.44,542.0 279.73,551.8 280.02,551.0 280.31,539.9 280.60,520.2 280.89,494.6 281.17,466.5 281.46,440.4 281.75,420.7 282.04,410.6 282.33,411.6 282.62,423.0 282.91,442.9 283.19,468.5 283.48,496.4 283.77,522.4 284.06,542.4 284.35,552.8 284.64,552.0 284.93,540.4 285.22,520.2 285.50,494.4 285.79,466.7 286.08,440.9 286.37,420.9 286.66,410.1 286.95,410.6 287.24,422.1 287.53,442.6 287.81,468.6 288.10,496.2 288.39,521.8 288.68,541.6 288.97,552.6 289.26,552.5 289.55,541.2 289.83,520.7 290.12,494.5 290.41,466.7 290.70,441.4 290.99,421.8 291.28,411.0 291.57,410.8 291.86,421.7 292.14,442.0 292.43,468.4 292.72,496.4 293.01,521.7 293.30,541.0 293.59,551.5 293.88,551.7 294.16,541.1 294.45,521.0 294.74,494.7 295.03,466.5 295.32,441.0 295.61,422.0 295.90,411.8 296.19,411.9 296.47,422.4 296.76,442.1 297.05,468.3 297.34,496.6 297.63,522.3 297.92,541.4 298.21,551.3 298.50,550.8 298.78,540.2 299.07,520.6 299.36,494.7 299.65,466.4 299.94,440.5 300.23,421.1 300.52,411.3 300.80,412.1 301.09,423.1 301.38,442.7 301.67,468.4 301.96,496.5 302.25,522.6 302.54,542.3 302.83,552.3 303.11,551.3 303.40,540.0 303.69,520.1 303.98,494.5 304.27,466.6 304.56,440.5 304.85,420.6 305.14,410.3 305.42,411.1 305.71,422.7 306.00,442.9 306.29,468.6 306.58,496.3 306.87,522.2 307.16,542.2 307.44,552.9 307.73,552.4 308.02,540.8 308.31,520.4 308.60,494.4 308.89,466.8 309.18,441.1 309.47,421.3 309.75,410.4 310.04,410.5 310.33,421.8 310.62,442.3 310.91,468.5 311.20,496.3 311.49,521.7 311.77,541.3 312.06,552.1 312.35,552.3 312.64,541.3 312.93,520.9 313.22,494.6 313.51,466.7 313.80,441.3 314.08,422.0 314.37,411.4 314.66,411.2 314.95,421.9 315.24,442.0 315.53,468.3 315.82,496.5 316.11,521.9 316.39,541.0 316.68,551.2 316.97,551.2 317.26,540.7 317.55,520.9 317.84,494.7 318.13,466.4 318.41,440.8 318.70,421.7 318.99,411.8 319.28,412.1 319.57,422.7 319.86,442.4 320.15,468.3 320.44,496.6 320.72,522.5 321.01,541.8 321.30,551.6 321.59,550.9 321.88,540.0 322.17,520.3 322.46,494.6 322.75,466.4 323.03,440.4 323.32,420.8 323.61,410.8 323.90,411.8 324.19,423.1 324.48,442.9 324.77,468.5 325.05,496.4 325.34,522.5 325.63,542.4 325.92,552.7 326.21,551.8 326.50,540.2 326.79,520.1 327.08,494.4 327.36,466.7 327.65,440.8 327.94,420.8 328.23,410.1 328.52,410.7 328.81,422.3 329.10,442.7 329.38,468.6 329.67,496.2 329.96,521.9 330.25,541.8 330.54,552.7 330.83,552.5 331.12,541.1 331.41,520.6 331.69,494.5 331.98,466.8 332.27,441.3 332.56,421.7 332.85,410.8 333.14,410.6 333.43,421.7 333.72,442.1 334.00,468.4 334.29,496.3 334.58,521.7 334.87,541.0 335.16,551.7 335.45,551.9 335.74,541.2 336.02,521.0 336.31,494.7 336.60,466.6 336.89,441.2 337.18,422.0 337.47,411.7 337.76,411.7 338.05,422.2 338.33,442.0 338.62,468.3 338.91,496.5 339.20,522.2 339.49,541.2 339.78,551.2 340.07,550.9 340.35,540.3 340.64,520.7 340.93,494.7 341.22,466.4 341.51,440.5 341.80,421.3 342.09,411.5 342.38,412.2 342.66,423.0 342.95,442.6 343.24,468.4 343.53,496.6 343.82,522.6 344.11,542.1 344.40,552.1 344.69,551.1 344.97,539.9 345.26,520.2 345.55,494.5 345.84,466.5 346.13,440.5 346.42,420.6 346.71,410.4 346.99,411.3 347.28,422.8 347.57,442.9 347.86,468.6 348.15,496.4 348.44,522.3 348.73,542.3 349.02,552.9 349.30,552.2 349.59,540.6 349.88,520.3 350.17,494.4 350.46,466.7 350.75,441.0 351.04,421.1 351.33,410.2 351.61,410.5 351.90,421.9 352.19,442.4 352.48,468.5 352.77,496.2 353.06,521.7 353.35,541.4 353.63,552.3 353.92,552.4 354.21,541.3 354.50,520.9 354.79,494.6 355.08,466.7 355.37,441.4 355.66,421.9 355.94,411.2 356.23,411.0 356.52,421.7 356.81,442.0 357.10,468.3 357.39,496.4 357.68,521.8 357.96,540.9 358.25,551.3 358.54,551.4 358.83,540.9 359.12,521.0 359.41,494.7 359.70,466.5 359.99,440.9 360.27,421.8 360.56,411.8 360.85,412.0 361.14,422.6 361.43,442.2 361.72,468.3 362.01,496.6 362.30,522.4 362.58,541.6 362.87,551.4 363.16,550.8 363.45,540.0 363.74,520.5 364.03,494.6 364.32,466.4 364.60,440.4 364.89,420.9 365.18,411.1 365.47,411.9 365.76,423.1 366.05,442.8 366.34,468.5 366.63,496.5 366.91,522.6 367.20,542.4 367.49,552.5 367.78,551.6 368.07,540.1 368.36,520.1 368.65,494.4 368.94,466.6 369.22,440.6 369.51,420.7 369.80,410.2 370.09,410.9 370.38,422.5 370.67,442.8 370.96,468.6 371.24,496.3 371.53,522.0 371.82,542.0 372.11,552.8 372.40,552.5 372.69,541.0 372.98,520.5 373.27,494.5 373.55,466.8 373.84,441.2 374.13,421.5 374.42,410.6 374.71,410.5 375.00,421.7 375.29,442.2 375.57,468.5 375.86,496.3 376.15,521.6 376.44,541.1 376.73,551.9 377.02,552.1 377.31,541.3 377.60,521.0 377.88,494.6 378.17,466.6 378.46,441.2 378.75,422.1 379.04,411.6 379.33,411.5 379.62,422.0 379.91,442.0 380.19,468.3 380.48,496.5 380.77,522.0 381.06,541.1 381.35,551.2 381.64,551.0 381.93,540.5 382.21,520.8 382.50,494.7 382.79,466.4 383.08,440.6 383.37,421.5 383.66,411.6 383.95,412.2 384.24,422.9 384.52,442.5 384.81,468.3 385.10,496.6 385.39,522.6 385.68,542.0 385.97,551.8 386.26,551.0 386.54,539.9 386.83,520.2 387.12,494.6 387.41,466.5 387.70,440.4 387.99,420.7 388.28,410.6 388.57,411.5 388.85,423.0 389.14,442.9 389.43,468.5 389.72,496.4 390.01,522.4 390.30,542.4 390.59,552.8 390.88,552.0 391.16,540.4 391.45,520.2 391.74,494.4 392.03,466.7 392.32,440.9 392.61,420.9 392.90,410.1 393.18,410.6 393.47,422.1 393.76,442.6 394.05,468.6 394.34,496.2 394.63,521.8 394.92,541.6 395.21,552.5 395.49,552.5 395.78,541.3 396.07,520.8 396.36,494.5 396.65,466.7 396.94,441.4 397.23,421.8 397.52,411.0 397.80,410.8 398.09,421.7 398.38,442.0 398.67,468.4 398.96,496.4 399.25,521.7 399.54,540.9 399.82,551.5 400.11,551.7 400.40,541.1 400.69,521.0 400.98,494.7 401.27,466.5 401.56,441.0 401.85,422.0 402.13,411.8 402.42,411.9 402.71,422.4 403.00,442.1 403.29,468.3 403.58,496.6 403.87,522.3 404.15,541.4 404.44,551.3 404.73,550.8 405.02,540.2 405.31,520.6 405.60,494.7 405.89,466.4 406.18,440.5 406.46,421.1 406.75,411.3 407.04,412.1 407.33,423.1 407.62,442.7 407.91,468.4 408.20,496.5 408.49,522.6 408.77,542.3 409.06,552.3 409.35,551.3 409.64,540.0 409.93,520.1 410.22,494.5 410.51,466.6 410.79,440.5 411.08,420.6 411.37,410.3 411.66,411.1 411.95,422.7 412.24,442.8 412.53,468.6 412.82,496.3 413.10,522.2 413.39,542.2 413.68,552.9 413.97,552.4 414.26,540.8 414.55,520.4 414.84,494.4 415.12,466.8 415.41,441.2 415.70,421.3 415.99,410.4 416.28,410.5 416.57,421.8 416.86,442.3 417.15,468.5 417.43,496.3 417.72,521.7 418.01,541.3 418.30,552.1 418.59,552.3 418.88,541.3 419.17,520.9 419.46,494.6 419.74,466.7 420.03,441.3 420.32,422.0 420.61,411.4 420.90,411.2 421.19,421.9 421.48,442.0 421.76,468.3 422.05,496.5 422.34,521.9 422.63,541.0 422.92,551.2 423.21,551.2 423.50,540.7 423.79,520.9 424.07,494.7 424.36,466.4 424.65,440.8 424.94,421.7 425.23,411.8 425.52,412.1 425.81,422.8 426.10,442.4 426.38,468.3 426.67,496.6 426.96,522.5 427.25,541.8 427.54,551.6 427.83,550.9 428.12,539.9 428.40,520.3 428.69,494.6 428.98,466.4 429.27,440.4 429.56,420.8 429.85,410.8 430.14,411.8 430.43,423.0 430.71,442.9 431.00,468.5 431.29,496.4 431.58,522.5 431.87,542.4 432.16,552.7 432.45,551.8 432.73,540.3 433.02,520.1 433.31,494.4 433.60,466.7 433.89,440.8 434.18,420.8 434.47,410.1 434.76,410.7 435.04,422.3 435.33,442.7 435.62,468.6 435.91,496.2 436.20,521.9 436.49,541.8 436.78,552.7 437.07,552.5 437.35,541.1 437.64,520.6 437.93,494.5 438.22,466.8 438.51,441.3 438.80,421.7 439.09,410.8 439.37,410.7 439.66,421.7 439.95,442.1 440.24,468.4 440.53,496.3 440.82,521.7 441.11,541.0 441.40,551.7 441.68,551.9 441.97,541.2 442.26,521.0 442.55,494.7 442.84,466.6 443.13,441.1 443.42,422.0 443.71,411.7 443.99,411.7 444.28,422.2 444.57,442.0 444.86,468.3 445.15,496.5 445.44,522.2 445.73,541.2 446.01,551.2 446.30,550.9 446.59,540.3 446.88,520.7 447.17,494.7 447.46,466.4 447.75,440.5 448.04,421.3 448.32,411.5 448.61,412.2 448.90,423.0 449.19,442.6 449.48,468.4 449.77,496.6 450.06,522.6 450.34,542.2 450.63,552.1 450.92,551.2 451.21,539.9 451.50,520.2 451.79,494.5 452.08,466.5 452.37,440.5 452.65,420.6 452.94,410.4 453.23,411.3 453.52,422.8 453.81,442.9 454.10,468.6 454.39,496.4 454.68,522.3 454.96,542.3 455.25,552.9 455.54,552.2 455.83,540.6 456.12,520.3 456.41,494.4 456.70,466.7 456.98,441.0 457.27,421.1 457.56,410.2 457.85,410.5 458.14,421.9 458.43,442.4 458.72,468.5 459.01,496.2 459.29,521.7 459.58,541.4 459.87,552.3 460.16,552.4 460.45,541.3 460.74,520.9 461.03,494.6 461.31,466.7 461.60,441.4 461.89,422.0 462.18,411.2 462.47,411.0 462.76,421.8 463.05,442.0 463.34,468.3 463.62,496.4 463.91,521.8 464.20,540.9 464.49,551.3 464.78,551.4 465.07,540.9 465.36,521.0 465.65,494.7 465.93,466.5 466.22,440.9 466.51,421.8 466.80,411.8 467.09,412.0 467.38,422.6 467.67,442.2 467.95,468.3 468.24,496.6 468.53,522.4 468.82,541.6 469.11,551.4 469.40,550.8 469.69,540.0 469.98,520.4 470.26,494.6 470.55,466.4 470.84,440.4 471.13,420.9 471.42,411.0 471.71,411.9 472.00,423.1 472.29,442.8 472.57,468.5 472.86,496.5 473.15,522.6 473.44,542.4 473.73,552.5 474.02,551.6 474.31,540.1 474.59,520.1 474.88,494.4 475.17,466.6 475.46,440.6 475.75,420.7 476.04,410.2 476.33,410.9 476.62,422.5 476.90,442.8 477.19,468.6 477.48,496.3 477.77,522.0 478.06,542.0 478.35,552.8 478.64,552.5 478.92,541.0 479.21,520.5 479.50,494.5 479.79,466.8 480.08,441.2 480.37,421.5 480.66,410.6 480.95,410.5 481.23,421.7 481.52,442.2 481.81,468.5 482.10,496.3 482.39,521.6 482.68,541.1 482.97,551.9 483.26,552.1 483.54,541.3 483.83,521.0 484.12,494.7 484.41,466.6 484.70,441.2 484.99,422.1 485.28,411.6 485.56,411.5 485.85,422.0 486.14,442.0 486.43,468.3 486.72,496.5 487.01,522.0 487.30,541.1 487.59,551.2 487.87,551.0 488.16,540.5 488.45,520.8 488.74,494.7 489.03,466.4 489.32,440.6 489.61,421.5 489.90,411.6 490.18,412.2 490.47,422.9 490.76,442.5 491.05,468.3 491.34,496.6 491.63,522.6 491.92,542.0 492.20,551.8 492.49,551.0 492.78,539.9 493.07,520.2 493.36,494.6 493.65,466.5 493.94,440.4 494.23,420.7 494.51,410.6 494.80,411.5 495.09,423.0 495.38,442.9 495.67,468.5 495.96,496.4 496.25,522.4 496.53,542.4 496.82,552.8 497.11,552.0 497.40,540.4 497.69,520.2 497.98,494.4 498.27,466.7 498.56,440.9 498.84,420.9 499.13,410.1 499.42,410.6 499.71,422.1 500.00,442.6 500.29,468.6 500.58,496.2 500.87,521.8 501.15,541.6 501.44,552.5 501.73,552.5 502.02,541.3 502.31,520.8 502.60,494.5 502.89,466.7 503.17,441.4 503.46,421.8 503.75,411.0 504.04,410.8 504.33,421.7 504.62,442.0 504.91,468.4 505.20,496.4 505.48,521.7 505.77,540.9 506.06,551.5 506.35,551.6 506.64,541.1 506.93,521.0 507.22,494.7 507.50,466.5 507.79,441.0 508.08,422.0 508.37,411.8 508.66,411.9 508.95,422.4 509.24,442.1 509.53,468.3 509.81,496.6 510.10,522.3 510.39,541.4 510.68,551.3 510.97,550.8 511.26,540.2 511.55,520.6 511.84,494.7 512.12,466.4 512.41,440.4 512.70,421.1 512.99,411.3 513.28,412.1 513.57,423.1 513.86,442.7 514.14,468.4 514.43,496.5 514.72,522.6 515.01,542.3 515.30,552.3 515.59,551.4 515.88,540.0 516.17,520.1 516.45,494.5 516.74,466.6 517.03,440.5 517.32,420.6 517.61,410.3 517.90,411.1 518.19,422.7 518.48,442.8 518.76,468.6 519.05,496.3 519.34,522.2 519.63,542.2 519.92,552.9 520.21,552.4 520.50,540.8 520.78,520.4 521.07,494.4 521.36,466.8 521.65,441.2 521.94,421.3 522.23,410.4 522.52,410.5 522.81,421.8 523.09,442.3 523.38,468.5 523.67,496.3 523.96,521.7 524.25,541.2 524.54,552.1 524.83,552.3 525.11,541.3 525.40,521.0 525.69,494.6 525.98,466.7 526.27,441.3 526.56,422.0 526.85,411.4 527.14,411.2 527.42,421.9 527.71,442.0 528.00,468.3 528.29,496.5 528.58,521.9 528.87,541.0 529.16,551.2 529.45,551.2 529.73,540.7 530.02,520.9 530.31,494.7 530.60,466.4" fill="none" stroke="#28cc6c" stroke-linejoin="round"/>
</g>
<linearGradient id="bg" x1="0" y1="0" x2="0" y2="1"><stop offset="0.000" stop-color="#6ee6a0" stop-opacity="0"/><stop offset="0.110" stop-color="#6ee6a0" stop-opacity="0"/><stop offset="0.170" stop-color="#6ee6a0" stop-opacity="0.18"/><stop offset="0.235" stop-color="#74eaa4" stop-opacity="0.46"/><stop offset="0.300" stop-color="#5ab4a8" stop-opacity="0.16"/><stop offset="0.370" stop-color="#40208c" stop-opacity="0.2"/><stop offset="0.500" stop-color="#3a1e90" stop-opacity="0.42"/><stop offset="0.630" stop-color="#40208c" stop-opacity="0.2"/><stop offset="0.700" stop-color="#5ab4a8" stop-opacity="0.16"/><stop offset="0.765" stop-color="#74eaa4" stop-opacity="0.46"/><stop offset="0.830" stop-color="#6ee6a0" stop-opacity="0.18"/><stop offset="0.890" stop-color="#6ee6a0" stop-opacity="0"/><stop offset="1.000" stop-color="#6ee6a0" stop-opacity="0"/></linearGradient>
<rect x="69.10000000000001" y="409.8" width="461.1" height="143.5" fill="url(#bg)"/>
<rect x="68.7" y="359.5" width="461.90000000000003" height="244.0" fill="none" stroke="#666" stroke-width="0.8"/>
<path d="M68.70 603.5v4.4M68.70 357.2v4.6M77.94 603.5v2.4M77.94 357.9v3.2M87.18 603.5v2.4M87.18 357.9v3.2M96.41 603.5v2.4M96.41 357.9v3.2M105.65 603.5v2.4M105.65 357.9v3.2M114.89 603.5v4.4M114.89 357.2v4.6M124.13 603.5v2.4M124.13 357.9v3.2M133.37 603.5v2.4M133.37 357.9v3.2M142.60 603.5v2.4M142.60 357.9v3.2M151.84 603.5v2.4M151.84 357.9v3.2M161.08 603.5v4.4M161.08 357.2v4.6M170.32 603.5v2.4M170.32 357.9v3.2M179.56 603.5v2.4M179.56 357.9v3.2M188.79 603.5v2.4M188.79 357.9v3.2M198.03 603.5v2.4M198.03 357.9v3.2M207.27 603.5v4.4M207.27 357.2v4.6M216.51 603.5v2.4M216.51 357.9v3.2M225.75 603.5v2.4M225.75 357.9v3.2M234.98 603.5v2.4M234.98 357.9v3.2M244.22 603.5v2.4M244.22 357.9v3.2M253.46 603.5v4.4M253.46 357.2v4.6M262.70 603.5v2.4M262.70 357.9v3.2M271.94 603.5v2.4M271.94 357.9v3.2M281.17 603.5v2.4M281.17 357.9v3.2M290.41 603.5v2.4M290.41 357.9v3.2M299.65 603.5v4.4M299.65 357.2v4.6M308.89 603.5v2.4M308.89 357.9v3.2M318.13 603.5v2.4M318.13 357.9v3.2M327.36 603.5v2.4M327.36 357.9v3.2M336.60 603.5v2.4M336.60 357.9v3.2M345.84 603.5v4.4M345.84 357.2v4.6M355.08 603.5v2.4M355.08 357.9v3.2M364.32 603.5v2.4M364.32 357.9v3.2M373.55 603.5v2.4M373.55 357.9v3.2M382.79 603.5v2.4M382.79 357.9v3.2M392.03 603.5v4.4M392.03 357.2v4.6M401.27 603.5v2.4M401.27 357.9v3.2M410.51 603.5v2.4M410.51 357.9v3.2M419.74 603.5v2.4M419.74 357.9v3.2M428.98 603.5v2.4M428.98 357.9v3.2M438.22 603.5v4.4M438.22 357.2v4.6M447.46 603.5v2.4M447.46 357.9v3.2M456.70 603.5v2.4M456.70 357.9v3.2M465.93 603.5v2.4M465.93 357.9v3.2M475.17 603.5v2.4M475.17 357.9v3.2M484.41 603.5v4.4M484.41 357.2v4.6M493.65 603.5v2.4M493.65 357.9v3.2M502.89 603.5v2.4M502.89 357.9v3.2M512.12 603.5v2.4M512.12 357.9v3.2M521.36 603.5v2.4M521.36 357.9v3.2M530.60 603.5v4.4M530.60 357.2v4.6M69.3 603.50h-5.0M530.6 603.50h4.4M69.3 595.37h-3.0M530.6 595.37h2.4M69.3 587.23h-3.0M530.6 587.23h2.4M69.3 579.10h-3.0M530.6 579.10h2.4M69.3 570.97h-3.0M530.6 570.97h2.4M69.3 562.83h-5.0M530.6 562.83h4.4M69.3 554.70h-3.0M530.6 554.70h2.4M69.3 546.57h-3.0M530.6 546.57h2.4M69.3 538.43h-3.0M530.6 538.43h2.4M69.3 530.30h-3.0M530.6 530.30h2.4M69.3 522.17h-5.0M530.6 522.17h4.4M69.3 514.03h-3.0M530.6 514.03h2.4M69.3 505.90h-3.0M530.6 505.90h2.4M69.3 497.77h-3.0M530.6 497.77h2.4M69.3 489.63h-3.0M530.6 489.63h2.4M69.3 481.50h-5.0M530.6 481.50h4.4M69.3 473.37h-3.0M530.6 473.37h2.4M69.3 465.23h-3.0M530.6 465.23h2.4M69.3 457.10h-3.0M530.6 457.10h2.4M69.3 448.97h-3.0M530.6 448.97h2.4M69.3 440.83h-5.0M530.6 440.83h4.4M69.3 432.70h-3.0M530.6 432.70h2.4M69.3 424.57h-3.0M530.6 424.57h2.4M69.3 416.43h-3.0M530.6 416.43h2.4M69.3 408.30h-3.0M530.6 408.30h2.4M69.3 400.17h-5.0M530.6 400.17h4.4M69.3 392.03h-3.0M530.6 392.03h2.4M69.3 383.90h-3.0M530.6 383.90h2.4M69.3 375.77h-3.0M530.6 375.77h2.4M69.3 367.63h-3.0M530.6 367.63h2.4M69.3 359.50h-5.0M530.6 359.50h4.4" stroke="#6e6e6e" stroke-width="0.7" fill="none"/>
<text x="68.7" y="619.8" font-size="10.6" font-weight="bold" fill="#333" text-anchor="middle">0</text>
<text x="114.9" y="619.8" font-size="10.6" font-weight="bold" fill="#333" text-anchor="middle">0.1</text>
<text x="161.1" y="619.8" font-size="10.6" font-weight="bold" fill="#333" text-anchor="middle">0.2</text>
<text x="207.3" y="619.8" font-size="10.6" font-weight="bold" fill="#333" text-anchor="middle">0.3</text>
<text x="253.5" y="619.8" font-size="10.6" font-weight="bold" fill="#333" text-anchor="middle">0.4</text>
<text x="299.7" y="619.8" font-size="10.6" font-weight="bold" fill="#333" text-anchor="middle">0.5</text>
<text x="345.8" y="619.8" font-size="10.6" font-weight="bold" fill="#333" text-anchor="middle">0.6</text>
<text x="392.0" y="619.8" font-size="10.6" font-weight="bold" fill="#333" text-anchor="middle">0.7</text>
<text x="438.2" y="619.8" font-size="10.6" font-weight="bold" fill="#333" text-anchor="middle">0.8</text>
<text x="484.4" y="619.8" font-size="10.6" font-weight="bold" fill="#333" text-anchor="middle">0.9</text>
<text x="530.6" y="619.8" font-size="10.6" font-weight="bold" fill="#333" text-anchor="middle">1</text>
<text x="62.4" y="607.2" font-size="10.6" font-weight="bold" fill="#333" text-anchor="end">−<tspan dx="0.9">15</tspan></text>
<text x="62.4" y="566.5" font-size="10.6" font-weight="bold" fill="#333" text-anchor="end">−<tspan dx="0.9">10</tspan></text>
<text x="62.4" y="525.9" font-size="10.6" font-weight="bold" fill="#333" text-anchor="end">−<tspan dx="0.9">5</tspan></text>
<text x="62.4" y="485.2" font-size="10.6" font-weight="bold" fill="#333" text-anchor="end">0</text>
<text x="62.4" y="444.5" font-size="10.6" font-weight="bold" fill="#333" text-anchor="end">5</text>
<text x="62.4" y="403.9" font-size="10.6" font-weight="bold" fill="#333" text-anchor="end">10</text>
<text x="62.4" y="363.2" font-size="10.6" font-weight="bold" fill="#333" text-anchor="end">15</text>
<path d="M392.6 360.5H401.9V602.5H392.6Z M392.6 360.5L378.6 478.2 M392.6 602.5L378.6 585.3" fill="none" stroke="#1f8496" stroke-width="1.45" stroke-dasharray="1.7 1.5"/>
<rect x="181.5" y="478.2" width="197.10000000000002" height="107.09999999999997" fill="#fff" stroke="#1f8496" stroke-width="1.45" stroke-dasharray="1.7 1.5"/>
<path d="M197.00 486.4V573.2M205.41 486.4V573.2M213.82 486.4V573.2M222.23 486.4V573.2M230.64 486.4V573.2M239.05 486.4V573.2M247.46 486.4V573.2M255.87 486.4V573.2M264.28 486.4V573.2M272.69 486.4V573.2M281.10 486.4V573.2M289.51 486.4V573.2M297.92 486.4V573.2M306.33 486.4V573.2M314.74 486.4V573.2M323.15 486.4V573.2M331.56 486.4V573.2M339.97 486.4V573.2M348.38 486.4V573.2M356.79 486.4V573.2M365.20 486.4V573.2M197.0 486.40H365.2M197.0 493.63H365.2M197.0 500.87H365.2M197.0 508.10H365.2M197.0 515.33H365.2M197.0 522.57H365.2M197.0 529.80H365.2M197.0 537.03H365.2M197.0 544.27H365.2M197.0 551.50H365.2M197.0 558.73H365.2M197.0 565.97H365.2M197.0 573.20H365.2" stroke="#e6e6e6" stroke-width="0.5" fill="none"/>
<polyline points="197.0,553.3 197.8,553.7 198.7,554.1 199.5,554.3 200.4,554.5 201.2,554.6 202.0,554.5 202.9,554.3 203.7,554.1 204.6,553.7 205.4,553.3 206.3,552.7 207.1,552.1 207.9,551.4 208.8,550.5 209.6,549.6 210.5,548.6 211.3,547.6 212.1,546.4 213.0,545.2 213.8,543.9 214.7,542.6 215.5,541.2 216.3,539.8 217.2,538.3 218.0,536.8 218.9,535.2 219.7,533.6 220.5,532.0 221.4,530.4 222.2,528.8 223.1,527.2 223.9,525.6 224.8,524.0 225.6,522.4 226.4,520.8 227.3,519.3 228.1,517.8 229.0,516.4 229.8,515.0 230.6,513.7 231.5,512.4 232.3,511.2 233.2,510.0 234.0,509.0 234.8,508.0 235.7,507.1 236.5,506.2 237.4,505.5 238.2,504.9 239.1,504.3 239.9,503.9 240.7,503.5 241.6,503.3 242.4,503.1 243.3,503.0 244.1,503.1 244.9,503.3 245.8,503.5 246.6,503.9 247.5,504.3 248.3,504.9 249.1,505.5 250.0,506.2 250.8,507.1 251.7,508.0 252.5,509.0 253.3,510.0 254.2,511.2 255.0,512.4 255.9,513.7 256.7,515.0 257.6,516.4 258.4,517.8 259.2,519.3 260.1,520.8 260.9,522.4 261.8,524.0 262.6,525.6 263.4,527.2 264.3,528.8 265.1,530.4 266.0,532.0 266.8,533.6 267.6,535.2 268.5,536.8 269.3,538.3 270.2,539.8 271.0,541.2 271.8,542.6 272.7,543.9 273.5,545.2 274.4,546.4 275.2,547.6 276.1,548.6 276.9,549.6 277.7,550.5 278.6,551.4 279.4,552.1 280.3,552.7 281.1,553.3 281.9,553.7 282.8,554.1 283.6,554.3 284.5,554.5 285.3,554.6 286.1,554.5 287.0,554.3 287.8,554.1 288.7,553.7 289.5,553.3 290.4,552.7 291.2,552.1 292.0,551.4 292.9,550.5 293.7,549.6 294.6,548.6 295.4,547.6 296.2,546.4 297.1,545.2 297.9,543.9 298.8,542.6 299.6,541.2 300.4,539.8 301.3,538.3 302.1,536.8 303.0,535.2 303.8,533.6 304.6,532.0 305.5,530.4 306.3,528.8 307.2,527.2 308.0,525.6 308.9,524.0 309.7,522.4 310.5,520.8 311.4,519.3 312.2,517.8 313.1,516.4 313.9,515.0 314.7,513.7 315.6,512.4 316.4,511.2 317.3,510.0 318.1,509.0 318.9,508.0 319.8,507.1 320.6,506.2 321.5,505.5 322.3,504.9 323.1,504.3 324.0,503.9 324.8,503.5 325.7,503.3 326.5,503.1 327.4,503.0 328.2,503.1 329.0,503.3 329.9,503.5 330.7,503.9 331.6,504.3 332.4,504.9 333.2,505.5 334.1,506.2 334.9,507.1 335.8,508.0 336.6,509.0 337.4,510.0 338.3,511.2 339.1,512.4 340.0,513.7 340.8,515.0 341.7,516.4 342.5,517.8 343.3,519.3 344.2,520.8 345.0,522.4 345.9,524.0 346.7,525.6 347.5,527.2 348.4,528.8 349.2,530.4 350.1,532.0 350.9,533.6 351.7,535.2 352.6,536.8 353.4,538.3 354.3,539.8 355.1,541.2 355.9,542.6 356.8,543.9 357.6,545.2 358.5,546.4 359.3,547.6 360.2,548.6 361.0,549.6 361.8,550.5 362.7,551.4 363.5,552.1 364.4,552.7 365.2,553.3" fill="none" stroke="#f01818" stroke-width="1.9" stroke-linejoin="round" stroke-linecap="round"/>
<polyline points="197.0,509.7 197.8,510.8 198.7,512.0 199.5,513.2 200.4,514.5 201.2,515.9 202.0,517.4 202.9,518.8 203.7,520.3 204.6,521.9 205.4,523.4 206.3,525.0 207.1,526.6 207.9,528.3 208.8,529.9 209.6,531.5 210.5,533.1 211.3,534.7 212.1,536.2 213.0,537.8 213.8,539.3 214.7,540.7 215.5,542.1 216.3,543.5 217.2,544.8 218.0,546.0 218.9,547.2 219.7,548.3 220.5,549.3 221.4,550.2 222.2,551.1 223.1,551.9 223.9,552.5 224.8,553.1 225.6,553.6 226.4,554.0 227.3,554.3 228.1,554.5 229.0,554.5 229.8,554.5 230.6,554.4 231.5,554.2 232.3,553.9 233.2,553.5 234.0,552.9 234.8,552.3 235.7,551.6 236.5,550.8 237.4,549.9 238.2,549.0 239.1,547.9 239.9,546.8 240.7,545.6 241.6,544.4 242.4,543.1 243.3,541.7 244.1,540.2 244.9,538.8 245.8,537.3 246.6,535.7 247.5,534.2 248.3,532.6 249.1,531.0 250.0,529.3 250.8,527.7 251.7,526.1 252.5,524.5 253.3,522.9 254.2,521.4 255.0,519.8 255.9,518.3 256.7,516.9 257.6,515.5 258.4,514.1 259.2,512.8 260.1,511.6 260.9,510.4 261.8,509.3 262.6,508.3 263.4,507.4 264.3,506.5 265.1,505.7 266.0,505.1 266.8,504.5 267.6,504.0 268.5,503.6 269.3,503.3 270.2,503.1 271.0,503.1 271.8,503.1 272.7,503.2 273.5,503.4 274.4,503.7 275.2,504.1 276.1,504.7 276.9,505.3 277.7,506.0 278.6,506.8 279.4,507.7 280.3,508.6 281.1,509.7 281.9,510.8 282.8,512.0 283.6,513.2 284.5,514.5 285.3,515.9 286.1,517.4 287.0,518.8 287.8,520.3 288.7,521.9 289.5,523.4 290.4,525.0 291.2,526.6 292.0,528.3 292.9,529.9 293.7,531.5 294.6,533.1 295.4,534.7 296.2,536.2 297.1,537.8 297.9,539.3 298.8,540.7 299.6,542.1 300.4,543.5 301.3,544.8 302.1,546.0 303.0,547.2 303.8,548.3 304.6,549.3 305.5,550.2 306.3,551.1 307.2,551.9 308.0,552.5 308.9,553.1 309.7,553.6 310.5,554.0 311.4,554.3 312.2,554.5 313.1,554.5 313.9,554.5 314.7,554.4 315.6,554.2 316.4,553.9 317.3,553.5 318.1,552.9 318.9,552.3 319.8,551.6 320.6,550.8 321.5,549.9 322.3,549.0 323.1,547.9 324.0,546.8 324.8,545.6 325.7,544.4 326.5,543.1 327.4,541.7 328.2,540.2 329.0,538.8 329.9,537.3 330.7,535.7 331.6,534.2 332.4,532.6 333.2,531.0 334.1,529.3 334.9,527.7 335.8,526.1 336.6,524.5 337.4,522.9 338.3,521.4 339.1,519.8 340.0,518.3 340.8,516.9 341.7,515.5 342.5,514.1 343.3,512.8 344.2,511.6 345.0,510.4 345.9,509.3 346.7,508.3 347.5,507.4 348.4,506.5 349.2,505.7 350.1,505.1 350.9,504.5 351.7,504.0 352.6,503.6 353.4,503.3 354.3,503.1 355.1,503.1 355.9,503.1 356.8,503.2 357.6,503.4 358.5,503.7 359.3,504.1 360.2,504.7 361.0,505.3 361.8,506.0 362.7,506.8 363.5,507.7 364.4,508.6 365.2,509.7" fill="none" stroke="#1a1af0" stroke-width="1.9" stroke-linejoin="round" stroke-linecap="round"/>
<polyline points="197.0,523.4 197.8,521.9 198.7,520.3 199.5,518.8 200.4,517.4 201.2,515.9 202.0,514.5 202.9,513.2 203.7,512.0 204.6,510.8 205.4,509.7 206.3,508.6 207.1,507.7 207.9,506.8 208.8,506.0 209.6,505.3 210.5,504.7 211.3,504.1 212.1,503.7 213.0,503.4 213.8,503.2 214.7,503.1 215.5,503.1 216.3,503.1 217.2,503.3 218.0,503.6 218.9,504.0 219.7,504.5 220.5,505.1 221.4,505.7 222.2,506.5 223.1,507.4 223.9,508.3 224.8,509.3 225.6,510.4 226.4,511.6 227.3,512.8 228.1,514.1 229.0,515.5 229.8,516.9 230.6,518.3 231.5,519.8 232.3,521.4 233.2,522.9 234.0,524.5 234.8,526.1 235.7,527.7 236.5,529.3 237.4,531.0 238.2,532.6 239.1,534.2 239.9,535.7 240.7,537.3 241.6,538.8 242.4,540.2 243.3,541.7 244.1,543.1 244.9,544.4 245.8,545.6 246.6,546.8 247.5,547.9 248.3,549.0 249.1,549.9 250.0,550.8 250.8,551.6 251.7,552.3 252.5,552.9 253.3,553.5 254.2,553.9 255.0,554.2 255.9,554.4 256.7,554.5 257.6,554.5 258.4,554.5 259.2,554.3 260.1,554.0 260.9,553.6 261.8,553.1 262.6,552.5 263.4,551.9 264.3,551.1 265.1,550.2 266.0,549.3 266.8,548.3 267.6,547.2 268.5,546.0 269.3,544.8 270.2,543.5 271.0,542.1 271.8,540.7 272.7,539.3 273.5,537.8 274.4,536.2 275.2,534.7 276.1,533.1 276.9,531.5 277.7,529.9 278.6,528.3 279.4,526.6 280.3,525.0 281.1,523.4 281.9,521.9 282.8,520.3 283.6,518.8 284.5,517.4 285.3,515.9 286.1,514.5 287.0,513.2 287.8,512.0 288.7,510.8 289.5,509.7 290.4,508.6 291.2,507.7 292.0,506.8 292.9,506.0 293.7,505.3 294.6,504.7 295.4,504.1 296.2,503.7 297.1,503.4 297.9,503.2 298.8,503.1 299.6,503.1 300.4,503.1 301.3,503.3 302.1,503.6 303.0,504.0 303.8,504.5 304.6,505.1 305.5,505.7 306.3,506.5 307.2,507.4 308.0,508.3 308.9,509.3 309.7,510.4 310.5,511.6 311.4,512.8 312.2,514.1 313.1,515.5 313.9,516.9 314.7,518.3 315.6,519.8 316.4,521.4 317.3,522.9 318.1,524.5 318.9,526.1 319.8,527.7 320.6,529.3 321.5,531.0 322.3,532.6 323.1,534.2 324.0,535.7 324.8,537.3 325.7,538.8 326.5,540.2 327.4,541.7 328.2,543.1 329.0,544.4 329.9,545.6 330.7,546.8 331.6,547.9 332.4,549.0 333.2,549.9 334.1,550.8 334.9,551.6 335.8,552.3 336.6,552.9 337.4,553.5 338.3,553.9 339.1,554.2 340.0,554.4 340.8,554.5 341.7,554.5 342.5,554.5 343.3,554.3 344.2,554.0 345.0,553.6 345.9,553.1 346.7,552.5 347.5,551.9 348.4,551.1 349.2,550.2 350.1,549.3 350.9,548.3 351.7,547.2 352.6,546.0 353.4,544.8 354.3,543.5 355.1,542.1 355.9,540.7 356.8,539.3 357.6,537.8 358.5,536.2 359.3,534.7 360.2,533.1 361.0,531.5 361.8,529.9 362.7,528.3 363.5,526.6 364.4,525.0 365.2,523.4" fill="none" stroke="#18a850" stroke-width="1.9" stroke-linejoin="round" stroke-linecap="round"/>
<rect x="197.0" y="486.4" width="168.2" height="86.80000000000007" fill="none" stroke="#a0a0a0" stroke-width="0.6"/>
<text x="194.6" y="488.7" font-size="6.1" font-weight="bold" fill="#333" text-anchor="end">15</text>
<text x="194.6" y="503.2" font-size="6.1" font-weight="bold" fill="#333" text-anchor="end">10</text>
<text x="194.6" y="517.6" font-size="6.1" font-weight="bold" fill="#333" text-anchor="end">5</text>
<text x="194.6" y="532.1" font-size="6.1" font-weight="bold" fill="#333" text-anchor="end">0</text>
<text x="194.6" y="546.6" font-size="6.1" font-weight="bold" fill="#333" text-anchor="end">−5</text>
<text x="194.6" y="561.0" font-size="6.1" font-weight="bold" fill="#333" text-anchor="end">−10</text>
<text x="194.6" y="575.5" font-size="6.1" font-weight="bold" fill="#333" text-anchor="end">−15</text>
<text x="197.0" y="582.4" font-size="6.1" font-weight="bold" fill="#333" text-anchor="middle">0.7</text>
<text x="239.1" y="582.4" font-size="6.1" font-weight="bold" fill="#333" text-anchor="middle">0.705</text>
<text x="281.1" y="582.4" font-size="6.1" font-weight="bold" fill="#333" text-anchor="middle">0.71</text>
<text x="323.1" y="582.4" font-size="6.1" font-weight="bold" fill="#333" text-anchor="middle">0.715</text>
<text x="365.2" y="582.4" font-size="6.1" font-weight="bold" fill="#333" text-anchor="middle">0.72</text>
<rect x="431.5" y="364.2" width="95" height="32.4" fill="#fff" stroke="#666" stroke-width="0.7"/>
<path d="M441.4 371.2h9.6" stroke="#f01818" stroke-width="1.4"/>
<text x="453" y="373.6" font-size="6.9" font-weight="bold" fill="#222">fMeasuredCurrent_U</text>
<path d="M441.4 380.8h9.6" stroke="#1a1af0" stroke-width="1.4"/>
<text x="453" y="383.2" font-size="6.9" font-weight="bold" fill="#222">fMeasuredCurrent_V</text>
<path d="M441.4 390.4h9.6" stroke="#18a850" stroke-width="1.4"/>
<text x="453" y="392.8" font-size="6.9" font-weight="bold" fill="#222">fMeasuredCurrent_W</text>
</svg>
<div class="serif" style="left:277.2px;top:620px;font-size:15.6px;line-height:18px">Time [s]</div>
<div class="serif" style="left:30.6px;top:479px;font-size:16px;letter-spacing:0.1px;line-height:18px;transform:translate(-50%,-50%) rotate(-90deg)">Stator phase current [A]</div>
<div class="serif" style="left:246px;width:60px;text-align:center;top:649.4px;font-size:16px;line-height:18px">(<b>b</b>)</div>
</body></html>
